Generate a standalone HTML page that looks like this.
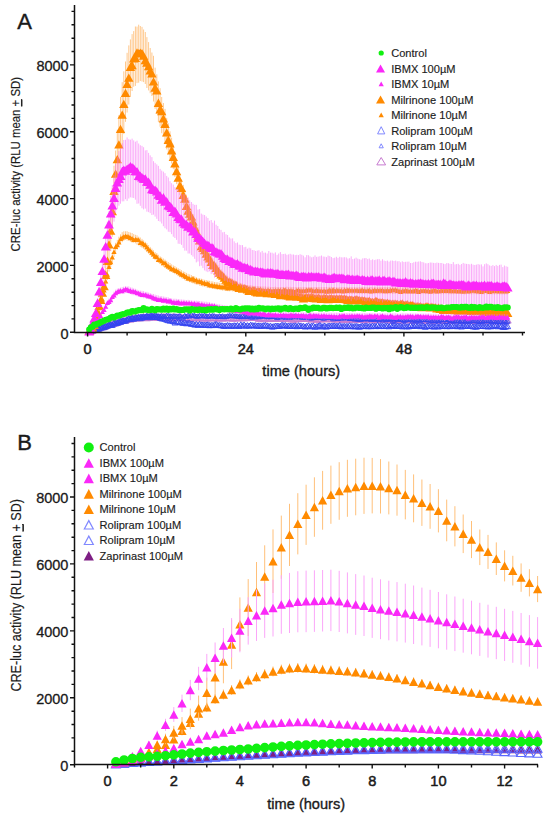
<!DOCTYPE html>
<html><head><meta charset="utf-8"><style>
html,body{margin:0;padding:0;background:#fff;}
svg{display:block;}
text{font-family:"Liberation Sans",sans-serif;fill:#1a1a1a;}
.tl{font-size:14.5px;stroke:#1a1a1a;stroke-width:0.3px;}
.xl{font-size:14.6px;stroke:#1a1a1a;stroke-width:0.5px;}
.xt{font-size:14.6px;stroke:#1a1a1a;stroke-width:0.35px;}
.pl{font-size:22px;stroke:#1a1a1a;stroke-width:0.4px;}
.yt{font-size:11.4px;stroke:#222;stroke-width:0.15px;}
.ytb{font-size:12.6px;stroke:#222;stroke-width:0.15px;}
.lg{font-size:11.1px;stroke:#222;stroke-width:0.15px;}
</style></head><body>
<svg width="550" height="822" viewBox="0 0 550 822">
<rect width="550" height="822" fill="#fff"/>
<path d="M85.7 334.3l3.5 -6.3l3.5 6.3zM87.4 334.1l3.5 -6.3l3.5 6.3zM89 333.5l3.5 -6.3l3.5 6.3zM90.7 331.9l3.5 -6.3l3.5 6.3zM92.3 332.1l3.5 -6.3l3.5 6.3zM94 331.1l3.5 -6.3l3.5 6.3zM95.6 331l3.5 -6.3l3.5 6.3zM97.3 329.8l3.5 -6.3l3.5 6.3zM98.9 329.8l3.5 -6.3l3.5 6.3zM100.6 329.6l3.5 -6.3l3.5 6.3zM102.2 328.7l3.5 -6.3l3.5 6.3zM103.9 327.9l3.5 -6.3l3.5 6.3zM105.5 327.5l3.5 -6.3l3.5 6.3zM107.2 327.3l3.5 -6.3l3.5 6.3zM108.8 326.4l3.5 -6.3l3.5 6.3zM110.5 326.2l3.5 -6.3l3.5 6.3zM112.1 325.8l3.5 -6.3l3.5 6.3zM113.8 325.2l3.5 -6.3l3.5 6.3zM115.4 324.1l3.5 -6.3l3.5 6.3zM117 324.1l3.5 -6.3l3.5 6.3zM118.7 323.5l3.5 -6.3l3.5 6.3zM120.3 323.2l3.5 -6.3l3.5 6.3zM122 323.2l3.5 -6.3l3.5 6.3zM123.6 322.3l3.5 -6.3l3.5 6.3zM125.3 321.3l3.5 -6.3l3.5 6.3zM126.9 322.2l3.5 -6.3l3.5 6.3zM128.6 321.2l3.5 -6.3l3.5 6.3zM130.2 321l3.5 -6.3l3.5 6.3zM131.9 320.7l3.5 -6.3l3.5 6.3zM133.5 320.9l3.5 -6.3l3.5 6.3zM135.2 320.7l3.5 -6.3l3.5 6.3zM136.8 320.9l3.5 -6.3l3.5 6.3zM138.5 320.4l3.5 -6.3l3.5 6.3zM140.1 319.6l3.5 -6.3l3.5 6.3zM141.8 320.5l3.5 -6.3l3.5 6.3zM143.4 320.8l3.5 -6.3l3.5 6.3zM145.1 320.1l3.5 -6.3l3.5 6.3zM146.7 319.5l3.5 -6.3l3.5 6.3zM148.4 320.1l3.5 -6.3l3.5 6.3zM150 319.3l3.5 -6.3l3.5 6.3zM151.6 320.1l3.5 -6.3l3.5 6.3zM153.3 319.9l3.5 -6.3l3.5 6.3zM154.9 320.4l3.5 -6.3l3.5 6.3zM156.6 320.2l3.5 -6.3l3.5 6.3zM158.2 319.6l3.5 -6.3l3.5 6.3zM159.9 319.8l3.5 -6.3l3.5 6.3zM161.5 319.7l3.5 -6.3l3.5 6.3zM163.2 319.9l3.5 -6.3l3.5 6.3zM164.8 320.1l3.5 -6.3l3.5 6.3zM166.5 321.2l3.5 -6.3l3.5 6.3zM168.1 320.6l3.5 -6.3l3.5 6.3zM169.8 319.3l3.5 -6.3l3.5 6.3zM171.4 320.6l3.5 -6.3l3.5 6.3zM173.1 320.1l3.5 -6.3l3.5 6.3zM174.7 320.4l3.5 -6.3l3.5 6.3zM176.4 320.1l3.5 -6.3l3.5 6.3zM178 320.5l3.5 -6.3l3.5 6.3zM179.7 320.8l3.5 -6.3l3.5 6.3zM181.3 320.7l3.5 -6.3l3.5 6.3zM182.9 320.3l3.5 -6.3l3.5 6.3zM184.6 320.7l3.5 -6.3l3.5 6.3zM186.2 321.3l3.5 -6.3l3.5 6.3zM187.9 320.5l3.5 -6.3l3.5 6.3zM189.5 320.4l3.5 -6.3l3.5 6.3zM191.2 320.4l3.5 -6.3l3.5 6.3zM192.8 320.3l3.5 -6.3l3.5 6.3zM194.5 321.2l3.5 -6.3l3.5 6.3zM196.1 319.9l3.5 -6.3l3.5 6.3zM197.8 320.7l3.5 -6.3l3.5 6.3zM199.4 321l3.5 -6.3l3.5 6.3zM201.1 320.7l3.5 -6.3l3.5 6.3zM202.7 320.9l3.5 -6.3l3.5 6.3zM204.4 321.2l3.5 -6.3l3.5 6.3zM206 320.6l3.5 -6.3l3.5 6.3zM207.7 320.5l3.5 -6.3l3.5 6.3zM209.3 320.8l3.5 -6.3l3.5 6.3zM211 320.7l3.5 -6.3l3.5 6.3zM212.6 320.8l3.5 -6.3l3.5 6.3zM214.3 321.1l3.5 -6.3l3.5 6.3zM215.9 320.7l3.5 -6.3l3.5 6.3zM217.5 320.6l3.5 -6.3l3.5 6.3zM219.2 321.1l3.5 -6.3l3.5 6.3zM220.8 320.9l3.5 -6.3l3.5 6.3zM222.5 320.6l3.5 -6.3l3.5 6.3zM224.1 320.6l3.5 -6.3l3.5 6.3zM225.8 320.6l3.5 -6.3l3.5 6.3zM227.4 320.8l3.5 -6.3l3.5 6.3zM229.1 321.3l3.5 -6.3l3.5 6.3zM230.7 320.7l3.5 -6.3l3.5 6.3zM232.4 320.7l3.5 -6.3l3.5 6.3zM234 320.9l3.5 -6.3l3.5 6.3zM235.7 320.8l3.5 -6.3l3.5 6.3zM237.3 320.7l3.5 -6.3l3.5 6.3zM239 320.3l3.5 -6.3l3.5 6.3zM240.6 320.9l3.5 -6.3l3.5 6.3zM242.3 320.5l3.5 -6.3l3.5 6.3zM243.9 320.7l3.5 -6.3l3.5 6.3zM245.6 320.4l3.5 -6.3l3.5 6.3zM247.2 320.3l3.5 -6.3l3.5 6.3zM248.8 320.2l3.5 -6.3l3.5 6.3zM250.5 320.5l3.5 -6.3l3.5 6.3zM252.1 320.4l3.5 -6.3l3.5 6.3zM253.8 320l3.5 -6.3l3.5 6.3zM255.4 321.6l3.5 -6.3l3.5 6.3zM257.1 321.1l3.5 -6.3l3.5 6.3zM258.7 320.5l3.5 -6.3l3.5 6.3zM260.4 321.8l3.5 -6.3l3.5 6.3zM262 320.8l3.5 -6.3l3.5 6.3zM263.7 320.9l3.5 -6.3l3.5 6.3zM265.3 321.6l3.5 -6.3l3.5 6.3zM267 321.3l3.5 -6.3l3.5 6.3zM268.6 320.9l3.5 -6.3l3.5 6.3zM270.3 320.8l3.5 -6.3l3.5 6.3zM271.9 321.3l3.5 -6.3l3.5 6.3zM273.6 321.4l3.5 -6.3l3.5 6.3zM275.2 321.3l3.5 -6.3l3.5 6.3zM276.9 320.9l3.5 -6.3l3.5 6.3zM278.5 321.4l3.5 -6.3l3.5 6.3zM280.2 321l3.5 -6.3l3.5 6.3zM281.8 321.7l3.5 -6.3l3.5 6.3zM283.4 320.9l3.5 -6.3l3.5 6.3zM285.1 321.1l3.5 -6.3l3.5 6.3zM286.7 320.7l3.5 -6.3l3.5 6.3zM288.4 322.1l3.5 -6.3l3.5 6.3zM290 322.1l3.5 -6.3l3.5 6.3zM291.7 321.8l3.5 -6.3l3.5 6.3zM293.3 321.1l3.5 -6.3l3.5 6.3zM295 321.8l3.5 -6.3l3.5 6.3zM296.6 321.2l3.5 -6.3l3.5 6.3zM298.3 321.4l3.5 -6.3l3.5 6.3zM299.9 321.1l3.5 -6.3l3.5 6.3zM301.6 321.3l3.5 -6.3l3.5 6.3zM303.2 321.3l3.5 -6.3l3.5 6.3zM304.9 321.1l3.5 -6.3l3.5 6.3zM306.5 321.7l3.5 -6.3l3.5 6.3zM308.2 322.1l3.5 -6.3l3.5 6.3zM309.8 320.8l3.5 -6.3l3.5 6.3zM311.5 321.3l3.5 -6.3l3.5 6.3zM313.1 322.6l3.5 -6.3l3.5 6.3zM314.8 321.6l3.5 -6.3l3.5 6.3zM316.4 322.1l3.5 -6.3l3.5 6.3zM318 321.8l3.5 -6.3l3.5 6.3zM319.7 321.5l3.5 -6.3l3.5 6.3zM321.3 321.1l3.5 -6.3l3.5 6.3zM323 322l3.5 -6.3l3.5 6.3zM324.6 321.3l3.5 -6.3l3.5 6.3zM326.3 321.4l3.5 -6.3l3.5 6.3zM327.9 321.7l3.5 -6.3l3.5 6.3zM329.6 321.9l3.5 -6.3l3.5 6.3zM331.2 321.9l3.5 -6.3l3.5 6.3zM332.9 321.5l3.5 -6.3l3.5 6.3zM334.5 322.2l3.5 -6.3l3.5 6.3zM336.2 321.4l3.5 -6.3l3.5 6.3zM337.8 321.9l3.5 -6.3l3.5 6.3zM339.5 322.5l3.5 -6.3l3.5 6.3zM341.1 321.7l3.5 -6.3l3.5 6.3zM342.8 322.2l3.5 -6.3l3.5 6.3zM344.4 322l3.5 -6.3l3.5 6.3zM346.1 322.3l3.5 -6.3l3.5 6.3zM347.7 321.8l3.5 -6.3l3.5 6.3zM349.3 321.9l3.5 -6.3l3.5 6.3zM351 322.1l3.5 -6.3l3.5 6.3zM352.6 322.1l3.5 -6.3l3.5 6.3zM354.3 322.5l3.5 -6.3l3.5 6.3zM355.9 321.3l3.5 -6.3l3.5 6.3zM357.6 322.3l3.5 -6.3l3.5 6.3zM359.2 322.1l3.5 -6.3l3.5 6.3zM360.9 322.8l3.5 -6.3l3.5 6.3zM362.5 322.5l3.5 -6.3l3.5 6.3zM364.2 321.5l3.5 -6.3l3.5 6.3zM365.8 322l3.5 -6.3l3.5 6.3zM367.5 322.1l3.5 -6.3l3.5 6.3zM369.1 322.9l3.5 -6.3l3.5 6.3zM370.8 321.7l3.5 -6.3l3.5 6.3zM372.4 322.6l3.5 -6.3l3.5 6.3zM374.1 322.6l3.5 -6.3l3.5 6.3zM375.7 322.4l3.5 -6.3l3.5 6.3zM377.4 322.2l3.5 -6.3l3.5 6.3zM379 322.4l3.5 -6.3l3.5 6.3zM380.6 322.4l3.5 -6.3l3.5 6.3zM382.3 321.6l3.5 -6.3l3.5 6.3zM383.9 322.3l3.5 -6.3l3.5 6.3zM385.6 322.4l3.5 -6.3l3.5 6.3zM387.2 323.2l3.5 -6.3l3.5 6.3zM388.9 322.1l3.5 -6.3l3.5 6.3zM390.5 323.1l3.5 -6.3l3.5 6.3zM392.2 322.8l3.5 -6.3l3.5 6.3zM393.8 321.5l3.5 -6.3l3.5 6.3zM395.5 322.8l3.5 -6.3l3.5 6.3zM397.1 322.6l3.5 -6.3l3.5 6.3zM398.8 323l3.5 -6.3l3.5 6.3zM400.4 323l3.5 -6.3l3.5 6.3zM402.1 322l3.5 -6.3l3.5 6.3zM403.7 322.6l3.5 -6.3l3.5 6.3zM405.4 322.6l3.5 -6.3l3.5 6.3zM407 322.7l3.5 -6.3l3.5 6.3zM408.7 323.3l3.5 -6.3l3.5 6.3zM410.3 322.6l3.5 -6.3l3.5 6.3zM412 322.2l3.5 -6.3l3.5 6.3zM413.6 323.1l3.5 -6.3l3.5 6.3zM415.2 322.5l3.5 -6.3l3.5 6.3zM416.9 322.3l3.5 -6.3l3.5 6.3zM418.5 323.1l3.5 -6.3l3.5 6.3zM420.2 322.4l3.5 -6.3l3.5 6.3zM421.8 323.4l3.5 -6.3l3.5 6.3zM423.5 322.3l3.5 -6.3l3.5 6.3zM425.1 322.7l3.5 -6.3l3.5 6.3zM426.8 323.2l3.5 -6.3l3.5 6.3zM428.4 322.6l3.5 -6.3l3.5 6.3zM430.1 322.9l3.5 -6.3l3.5 6.3zM431.7 323.4l3.5 -6.3l3.5 6.3zM433.4 322.4l3.5 -6.3l3.5 6.3zM435 322.4l3.5 -6.3l3.5 6.3zM436.7 323.2l3.5 -6.3l3.5 6.3zM438.3 323l3.5 -6.3l3.5 6.3zM440 323l3.5 -6.3l3.5 6.3zM441.6 323l3.5 -6.3l3.5 6.3zM443.3 323.4l3.5 -6.3l3.5 6.3zM444.9 322.5l3.5 -6.3l3.5 6.3zM446.5 323l3.5 -6.3l3.5 6.3zM448.2 323.3l3.5 -6.3l3.5 6.3zM449.8 323l3.5 -6.3l3.5 6.3zM451.5 323l3.5 -6.3l3.5 6.3zM453.1 322.9l3.5 -6.3l3.5 6.3zM454.8 322.7l3.5 -6.3l3.5 6.3zM456.4 322.7l3.5 -6.3l3.5 6.3zM458.1 323.3l3.5 -6.3l3.5 6.3zM459.7 322.9l3.5 -6.3l3.5 6.3zM461.4 323.2l3.5 -6.3l3.5 6.3zM463 323.6l3.5 -6.3l3.5 6.3zM464.7 323.3l3.5 -6.3l3.5 6.3zM466.3 323.1l3.5 -6.3l3.5 6.3zM468 323.5l3.5 -6.3l3.5 6.3zM469.6 323.4l3.5 -6.3l3.5 6.3zM471.3 322.9l3.5 -6.3l3.5 6.3zM472.9 323.3l3.5 -6.3l3.5 6.3zM474.6 323.2l3.5 -6.3l3.5 6.3zM476.2 323.3l3.5 -6.3l3.5 6.3zM477.9 323.8l3.5 -6.3l3.5 6.3zM479.5 323l3.5 -6.3l3.5 6.3zM481.1 323l3.5 -6.3l3.5 6.3zM482.8 323l3.5 -6.3l3.5 6.3zM484.4 323.3l3.5 -6.3l3.5 6.3zM486.1 323.6l3.5 -6.3l3.5 6.3zM487.7 322.8l3.5 -6.3l3.5 6.3zM489.4 323.3l3.5 -6.3l3.5 6.3zM491 323.3l3.5 -6.3l3.5 6.3zM492.7 324.1l3.5 -6.3l3.5 6.3zM494.3 323.4l3.5 -6.3l3.5 6.3zM496 323.4l3.5 -6.3l3.5 6.3zM497.6 323.7l3.5 -6.3l3.5 6.3zM499.3 322.6l3.5 -6.3l3.5 6.3zM500.9 323.2l3.5 -6.3l3.5 6.3zM502.6 323.9l3.5 -6.3l3.5 6.3zM504.2 323.1l3.5 -6.3l3.5 6.3z" fill="none" stroke="#c77ad0" stroke-width="0.9"/>
<path d="M86.3 334.1l2.9 -5.2l2.9 5.2zM88 333.4l2.9 -5.2l2.9 5.2zM89.6 332.3l2.9 -5.2l2.9 5.2zM91.3 332.3l2.9 -5.2l2.9 5.2zM92.9 331.8l2.9 -5.2l2.9 5.2zM94.6 331.5l2.9 -5.2l2.9 5.2zM96.2 331.1l2.9 -5.2l2.9 5.2zM97.9 330.3l2.9 -5.2l2.9 5.2zM99.5 329.8l2.9 -5.2l2.9 5.2zM101.2 329.6l2.9 -5.2l2.9 5.2zM102.8 328.9l2.9 -5.2l2.9 5.2zM104.5 328.1l2.9 -5.2l2.9 5.2zM106.1 327.6l2.9 -5.2l2.9 5.2zM107.8 327.4l2.9 -5.2l2.9 5.2zM109.4 327.4l2.9 -5.2l2.9 5.2zM111.1 326l2.9 -5.2l2.9 5.2zM112.7 325.7l2.9 -5.2l2.9 5.2zM114.4 325.4l2.9 -5.2l2.9 5.2zM116 324.7l2.9 -5.2l2.9 5.2zM117.6 324.4l2.9 -5.2l2.9 5.2zM119.3 323.4l2.9 -5.2l2.9 5.2zM120.9 323.2l2.9 -5.2l2.9 5.2zM122.6 323.2l2.9 -5.2l2.9 5.2zM124.2 322l2.9 -5.2l2.9 5.2zM125.9 321.6l2.9 -5.2l2.9 5.2zM127.5 321.5l2.9 -5.2l2.9 5.2zM129.2 320.8l2.9 -5.2l2.9 5.2zM130.8 321.3l2.9 -5.2l2.9 5.2zM132.5 319.8l2.9 -5.2l2.9 5.2zM134.1 319.9l2.9 -5.2l2.9 5.2zM135.8 319.7l2.9 -5.2l2.9 5.2zM137.4 320.7l2.9 -5.2l2.9 5.2zM139.1 320l2.9 -5.2l2.9 5.2zM140.7 319.7l2.9 -5.2l2.9 5.2zM142.4 319.2l2.9 -5.2l2.9 5.2zM144 318.5l2.9 -5.2l2.9 5.2zM145.7 319.1l2.9 -5.2l2.9 5.2zM147.3 319.7l2.9 -5.2l2.9 5.2zM149 319.1l2.9 -5.2l2.9 5.2zM150.6 319.1l2.9 -5.2l2.9 5.2zM152.2 319.5l2.9 -5.2l2.9 5.2zM153.9 319.3l2.9 -5.2l2.9 5.2zM155.5 319.4l2.9 -5.2l2.9 5.2zM157.2 320.3l2.9 -5.2l2.9 5.2zM158.8 320.9l2.9 -5.2l2.9 5.2zM160.5 320.9l2.9 -5.2l2.9 5.2zM162.1 321.3l2.9 -5.2l2.9 5.2zM163.8 322.2l2.9 -5.2l2.9 5.2zM165.4 322.7l2.9 -5.2l2.9 5.2zM167.1 323.1l2.9 -5.2l2.9 5.2zM168.7 322.9l2.9 -5.2l2.9 5.2zM170.4 323.6l2.9 -5.2l2.9 5.2zM172 325l2.9 -5.2l2.9 5.2zM173.7 324.1l2.9 -5.2l2.9 5.2zM175.3 323.9l2.9 -5.2l2.9 5.2zM177 324.7l2.9 -5.2l2.9 5.2zM178.6 324.8l2.9 -5.2l2.9 5.2zM180.3 325.4l2.9 -5.2l2.9 5.2zM181.9 324.7l2.9 -5.2l2.9 5.2zM183.5 325.8l2.9 -5.2l2.9 5.2zM185.2 325.4l2.9 -5.2l2.9 5.2zM186.8 325.5l2.9 -5.2l2.9 5.2zM188.5 326.4l2.9 -5.2l2.9 5.2zM190.1 326.1l2.9 -5.2l2.9 5.2zM191.8 327.1l2.9 -5.2l2.9 5.2zM193.4 326.6l2.9 -5.2l2.9 5.2zM195.1 327.4l2.9 -5.2l2.9 5.2zM196.7 326.6l2.9 -5.2l2.9 5.2zM198.4 327.1l2.9 -5.2l2.9 5.2zM200 327.1l2.9 -5.2l2.9 5.2zM201.7 327.4l2.9 -5.2l2.9 5.2zM203.3 327.2l2.9 -5.2l2.9 5.2zM205 327l2.9 -5.2l2.9 5.2zM206.6 327.7l2.9 -5.2l2.9 5.2zM208.3 327.5l2.9 -5.2l2.9 5.2zM209.9 327.6l2.9 -5.2l2.9 5.2zM211.6 327l2.9 -5.2l2.9 5.2zM213.2 326.6l2.9 -5.2l2.9 5.2zM214.9 327.5l2.9 -5.2l2.9 5.2zM216.5 327.6l2.9 -5.2l2.9 5.2zM218.1 327.7l2.9 -5.2l2.9 5.2zM219.8 328l2.9 -5.2l2.9 5.2zM221.4 328.4l2.9 -5.2l2.9 5.2zM223.1 328.1l2.9 -5.2l2.9 5.2zM224.7 327.7l2.9 -5.2l2.9 5.2zM226.4 328l2.9 -5.2l2.9 5.2zM228 328.2l2.9 -5.2l2.9 5.2zM229.7 328.3l2.9 -5.2l2.9 5.2zM231.3 327.9l2.9 -5.2l2.9 5.2zM233 328.1l2.9 -5.2l2.9 5.2zM234.6 327.7l2.9 -5.2l2.9 5.2zM236.3 328.5l2.9 -5.2l2.9 5.2zM237.9 327l2.9 -5.2l2.9 5.2zM239.6 328l2.9 -5.2l2.9 5.2zM241.2 327.1l2.9 -5.2l2.9 5.2zM242.9 328.2l2.9 -5.2l2.9 5.2zM244.5 327.8l2.9 -5.2l2.9 5.2zM246.2 328.2l2.9 -5.2l2.9 5.2zM247.8 327.3l2.9 -5.2l2.9 5.2zM249.4 327.8l2.9 -5.2l2.9 5.2zM251.1 327.9l2.9 -5.2l2.9 5.2zM252.7 327.9l2.9 -5.2l2.9 5.2zM254.4 328.2l2.9 -5.2l2.9 5.2zM256 328l2.9 -5.2l2.9 5.2zM257.7 328.3l2.9 -5.2l2.9 5.2zM259.3 328.3l2.9 -5.2l2.9 5.2zM261 327.8l2.9 -5.2l2.9 5.2zM262.6 327.7l2.9 -5.2l2.9 5.2zM264.3 328.1l2.9 -5.2l2.9 5.2zM265.9 328.6l2.9 -5.2l2.9 5.2zM267.6 328.4l2.9 -5.2l2.9 5.2zM269.2 329l2.9 -5.2l2.9 5.2zM270.9 328.8l2.9 -5.2l2.9 5.2zM272.5 328.2l2.9 -5.2l2.9 5.2zM274.2 328.2l2.9 -5.2l2.9 5.2zM275.8 328.5l2.9 -5.2l2.9 5.2zM277.5 328.3l2.9 -5.2l2.9 5.2zM279.1 327.3l2.9 -5.2l2.9 5.2zM280.8 327.9l2.9 -5.2l2.9 5.2zM282.4 327.7l2.9 -5.2l2.9 5.2zM284 328.3l2.9 -5.2l2.9 5.2zM285.7 328.2l2.9 -5.2l2.9 5.2zM287.3 328.3l2.9 -5.2l2.9 5.2zM289 328.4l2.9 -5.2l2.9 5.2zM290.6 328.2l2.9 -5.2l2.9 5.2zM292.3 328l2.9 -5.2l2.9 5.2zM293.9 328.7l2.9 -5.2l2.9 5.2zM295.6 327.9l2.9 -5.2l2.9 5.2zM297.2 328.2l2.9 -5.2l2.9 5.2zM298.9 328.5l2.9 -5.2l2.9 5.2zM300.5 328.5l2.9 -5.2l2.9 5.2zM302.2 329l2.9 -5.2l2.9 5.2zM303.8 328.5l2.9 -5.2l2.9 5.2zM305.5 328l2.9 -5.2l2.9 5.2zM307.1 328.9l2.9 -5.2l2.9 5.2zM308.8 328.4l2.9 -5.2l2.9 5.2zM310.4 328.1l2.9 -5.2l2.9 5.2zM312.1 329.2l2.9 -5.2l2.9 5.2zM313.7 328.9l2.9 -5.2l2.9 5.2zM315.4 328.2l2.9 -5.2l2.9 5.2zM317 327.7l2.9 -5.2l2.9 5.2zM318.6 328.9l2.9 -5.2l2.9 5.2zM320.3 328.7l2.9 -5.2l2.9 5.2zM321.9 328.2l2.9 -5.2l2.9 5.2zM323.6 329.1l2.9 -5.2l2.9 5.2zM325.2 328.3l2.9 -5.2l2.9 5.2zM326.9 328.3l2.9 -5.2l2.9 5.2zM328.5 328.3l2.9 -5.2l2.9 5.2zM330.2 328.1l2.9 -5.2l2.9 5.2zM331.8 328.1l2.9 -5.2l2.9 5.2zM333.5 328.5l2.9 -5.2l2.9 5.2zM335.1 328.3l2.9 -5.2l2.9 5.2zM336.8 327.7l2.9 -5.2l2.9 5.2zM338.4 328.8l2.9 -5.2l2.9 5.2zM340.1 328.5l2.9 -5.2l2.9 5.2zM341.7 328.6l2.9 -5.2l2.9 5.2zM343.4 328.6l2.9 -5.2l2.9 5.2zM345 328.6l2.9 -5.2l2.9 5.2zM346.7 328l2.9 -5.2l2.9 5.2zM348.3 328.6l2.9 -5.2l2.9 5.2zM349.9 328.7l2.9 -5.2l2.9 5.2zM351.6 328.8l2.9 -5.2l2.9 5.2zM353.2 328.4l2.9 -5.2l2.9 5.2zM354.9 328.8l2.9 -5.2l2.9 5.2zM356.5 329.2l2.9 -5.2l2.9 5.2zM358.2 328.6l2.9 -5.2l2.9 5.2zM359.8 328.4l2.9 -5.2l2.9 5.2zM361.5 328.6l2.9 -5.2l2.9 5.2zM363.1 328.1l2.9 -5.2l2.9 5.2zM364.8 328.7l2.9 -5.2l2.9 5.2zM366.4 328.6l2.9 -5.2l2.9 5.2zM368.1 328.7l2.9 -5.2l2.9 5.2zM369.7 328.2l2.9 -5.2l2.9 5.2zM371.4 328.5l2.9 -5.2l2.9 5.2zM373 328.6l2.9 -5.2l2.9 5.2zM374.7 327.4l2.9 -5.2l2.9 5.2zM376.3 328.6l2.9 -5.2l2.9 5.2zM378 328.3l2.9 -5.2l2.9 5.2zM379.6 328.5l2.9 -5.2l2.9 5.2zM381.2 328.6l2.9 -5.2l2.9 5.2zM382.9 328.3l2.9 -5.2l2.9 5.2zM384.5 328.2l2.9 -5.2l2.9 5.2zM386.2 328.8l2.9 -5.2l2.9 5.2zM387.8 327.5l2.9 -5.2l2.9 5.2zM389.5 328.3l2.9 -5.2l2.9 5.2zM391.1 327.7l2.9 -5.2l2.9 5.2zM392.8 328.5l2.9 -5.2l2.9 5.2zM394.4 328.1l2.9 -5.2l2.9 5.2zM396.1 328.3l2.9 -5.2l2.9 5.2zM397.7 328.4l2.9 -5.2l2.9 5.2zM399.4 328.9l2.9 -5.2l2.9 5.2zM401 328.1l2.9 -5.2l2.9 5.2zM402.7 328.6l2.9 -5.2l2.9 5.2zM404.3 328.8l2.9 -5.2l2.9 5.2zM406 328.8l2.9 -5.2l2.9 5.2zM407.6 327.5l2.9 -5.2l2.9 5.2zM409.3 328.4l2.9 -5.2l2.9 5.2zM410.9 328.4l2.9 -5.2l2.9 5.2zM412.6 327.8l2.9 -5.2l2.9 5.2zM414.2 328.1l2.9 -5.2l2.9 5.2zM415.8 327.9l2.9 -5.2l2.9 5.2zM417.5 328.7l2.9 -5.2l2.9 5.2zM419.1 328.1l2.9 -5.2l2.9 5.2zM420.8 328.3l2.9 -5.2l2.9 5.2zM422.4 329.3l2.9 -5.2l2.9 5.2zM424.1 328.1l2.9 -5.2l2.9 5.2zM425.7 328.4l2.9 -5.2l2.9 5.2zM427.4 328.6l2.9 -5.2l2.9 5.2zM429 328.6l2.9 -5.2l2.9 5.2zM430.7 329l2.9 -5.2l2.9 5.2zM432.3 328.7l2.9 -5.2l2.9 5.2zM434 328l2.9 -5.2l2.9 5.2zM435.6 329l2.9 -5.2l2.9 5.2zM437.3 328.1l2.9 -5.2l2.9 5.2zM438.9 328.6l2.9 -5.2l2.9 5.2zM440.6 328.2l2.9 -5.2l2.9 5.2zM442.2 328.4l2.9 -5.2l2.9 5.2zM443.9 328.7l2.9 -5.2l2.9 5.2zM445.5 328.5l2.9 -5.2l2.9 5.2zM447.1 328.7l2.9 -5.2l2.9 5.2zM448.8 328.1l2.9 -5.2l2.9 5.2zM450.4 328.1l2.9 -5.2l2.9 5.2zM452.1 328.2l2.9 -5.2l2.9 5.2zM453.7 328.7l2.9 -5.2l2.9 5.2zM455.4 328.6l2.9 -5.2l2.9 5.2zM457 327.7l2.9 -5.2l2.9 5.2zM458.7 329l2.9 -5.2l2.9 5.2zM460.3 328.2l2.9 -5.2l2.9 5.2zM462 328.5l2.9 -5.2l2.9 5.2zM463.6 328.2l2.9 -5.2l2.9 5.2zM465.3 328.1l2.9 -5.2l2.9 5.2zM466.9 328.4l2.9 -5.2l2.9 5.2zM468.6 328.2l2.9 -5.2l2.9 5.2zM470.2 328.9l2.9 -5.2l2.9 5.2zM471.9 328.9l2.9 -5.2l2.9 5.2zM473.5 329.2l2.9 -5.2l2.9 5.2zM475.2 328.3l2.9 -5.2l2.9 5.2zM476.8 328.5l2.9 -5.2l2.9 5.2zM478.5 328.5l2.9 -5.2l2.9 5.2zM480.1 328.3l2.9 -5.2l2.9 5.2zM481.7 328.6l2.9 -5.2l2.9 5.2zM483.4 328.6l2.9 -5.2l2.9 5.2zM485 328.9l2.9 -5.2l2.9 5.2zM486.7 328.6l2.9 -5.2l2.9 5.2zM488.3 328.8l2.9 -5.2l2.9 5.2zM490 328.4l2.9 -5.2l2.9 5.2zM491.6 327.7l2.9 -5.2l2.9 5.2zM493.3 327.8l2.9 -5.2l2.9 5.2zM494.9 328.8l2.9 -5.2l2.9 5.2zM496.6 328.4l2.9 -5.2l2.9 5.2zM498.2 328.5l2.9 -5.2l2.9 5.2zM499.9 329.3l2.9 -5.2l2.9 5.2zM501.5 329.4l2.9 -5.2l2.9 5.2zM503.2 328.8l2.9 -5.2l2.9 5.2zM504.8 328.7l2.9 -5.2l2.9 5.2z" fill="none" stroke="#3344f0" stroke-width="0.9"/>
<path d="M86.8 334.2l2.4 -4.3l2.4 4.3zM88.5 333.3l2.4 -4.3l2.4 4.3zM90.1 332.7l2.4 -4.3l2.4 4.3zM91.8 332l2.4 -4.3l2.4 4.3zM93.4 331.6l2.4 -4.3l2.4 4.3zM95.1 330.6l2.4 -4.3l2.4 4.3zM96.7 329.8l2.4 -4.3l2.4 4.3zM98.4 329.3l2.4 -4.3l2.4 4.3zM100 329.3l2.4 -4.3l2.4 4.3zM101.7 328.4l2.4 -4.3l2.4 4.3zM103.3 327.8l2.4 -4.3l2.4 4.3zM105 327.9l2.4 -4.3l2.4 4.3zM106.6 326.3l2.4 -4.3l2.4 4.3zM108.3 326.5l2.4 -4.3l2.4 4.3zM109.9 326.2l2.4 -4.3l2.4 4.3zM111.6 324.1l2.4 -4.3l2.4 4.3zM113.2 324.9l2.4 -4.3l2.4 4.3zM114.9 324.2l2.4 -4.3l2.4 4.3zM116.5 323.7l2.4 -4.3l2.4 4.3zM118.1 322.7l2.4 -4.3l2.4 4.3zM119.8 322.6l2.4 -4.3l2.4 4.3zM121.4 322.7l2.4 -4.3l2.4 4.3zM123.1 322.5l2.4 -4.3l2.4 4.3zM124.7 321.4l2.4 -4.3l2.4 4.3zM126.4 320l2.4 -4.3l2.4 4.3zM128 320.7l2.4 -4.3l2.4 4.3zM129.7 319.5l2.4 -4.3l2.4 4.3zM131.3 320.1l2.4 -4.3l2.4 4.3zM133 320l2.4 -4.3l2.4 4.3zM134.6 319.8l2.4 -4.3l2.4 4.3zM136.3 319l2.4 -4.3l2.4 4.3zM137.9 318.5l2.4 -4.3l2.4 4.3zM139.6 318.3l2.4 -4.3l2.4 4.3zM141.2 318.8l2.4 -4.3l2.4 4.3zM142.9 318.2l2.4 -4.3l2.4 4.3zM144.5 317.8l2.4 -4.3l2.4 4.3zM146.2 318.2l2.4 -4.3l2.4 4.3zM147.8 317.5l2.4 -4.3l2.4 4.3zM149.5 317l2.4 -4.3l2.4 4.3zM151.1 318.1l2.4 -4.3l2.4 4.3zM152.7 316.7l2.4 -4.3l2.4 4.3zM154.4 317.6l2.4 -4.3l2.4 4.3zM156 318l2.4 -4.3l2.4 4.3zM157.7 318.1l2.4 -4.3l2.4 4.3zM159.3 317.9l2.4 -4.3l2.4 4.3zM161 318.4l2.4 -4.3l2.4 4.3zM162.6 318.3l2.4 -4.3l2.4 4.3zM164.3 317.5l2.4 -4.3l2.4 4.3zM165.9 317.7l2.4 -4.3l2.4 4.3zM167.6 317.9l2.4 -4.3l2.4 4.3zM169.2 318.2l2.4 -4.3l2.4 4.3zM170.9 318.4l2.4 -4.3l2.4 4.3zM172.5 317.9l2.4 -4.3l2.4 4.3zM174.2 318.4l2.4 -4.3l2.4 4.3zM175.8 318.1l2.4 -4.3l2.4 4.3zM177.5 317.7l2.4 -4.3l2.4 4.3zM179.1 319.1l2.4 -4.3l2.4 4.3zM180.8 318.9l2.4 -4.3l2.4 4.3zM182.4 317.6l2.4 -4.3l2.4 4.3zM184 318.4l2.4 -4.3l2.4 4.3zM185.7 317.3l2.4 -4.3l2.4 4.3zM187.3 317.9l2.4 -4.3l2.4 4.3zM189 316.7l2.4 -4.3l2.4 4.3zM190.6 317.6l2.4 -4.3l2.4 4.3zM192.3 317.5l2.4 -4.3l2.4 4.3zM193.9 318.3l2.4 -4.3l2.4 4.3zM195.6 318.1l2.4 -4.3l2.4 4.3zM197.2 317.7l2.4 -4.3l2.4 4.3zM198.9 317.8l2.4 -4.3l2.4 4.3zM200.5 317.8l2.4 -4.3l2.4 4.3zM202.2 317.3l2.4 -4.3l2.4 4.3zM203.8 318.2l2.4 -4.3l2.4 4.3zM205.5 318.3l2.4 -4.3l2.4 4.3zM207.1 317.7l2.4 -4.3l2.4 4.3zM208.8 318.1l2.4 -4.3l2.4 4.3zM210.4 317.6l2.4 -4.3l2.4 4.3zM212.1 318l2.4 -4.3l2.4 4.3zM213.7 318.5l2.4 -4.3l2.4 4.3zM215.4 318.6l2.4 -4.3l2.4 4.3zM217 317.9l2.4 -4.3l2.4 4.3zM218.6 318.3l2.4 -4.3l2.4 4.3zM220.3 318l2.4 -4.3l2.4 4.3zM221.9 318.7l2.4 -4.3l2.4 4.3zM223.6 318.4l2.4 -4.3l2.4 4.3zM225.2 318l2.4 -4.3l2.4 4.3zM226.9 317.6l2.4 -4.3l2.4 4.3zM228.5 317.7l2.4 -4.3l2.4 4.3zM230.2 317.5l2.4 -4.3l2.4 4.3zM231.8 318l2.4 -4.3l2.4 4.3zM233.5 317.8l2.4 -4.3l2.4 4.3zM235.1 318.2l2.4 -4.3l2.4 4.3zM236.8 318.4l2.4 -4.3l2.4 4.3zM238.4 318.7l2.4 -4.3l2.4 4.3zM240.1 317.8l2.4 -4.3l2.4 4.3zM241.7 318.1l2.4 -4.3l2.4 4.3zM243.4 318.6l2.4 -4.3l2.4 4.3zM245 318.3l2.4 -4.3l2.4 4.3zM246.7 317.5l2.4 -4.3l2.4 4.3zM248.3 318.9l2.4 -4.3l2.4 4.3zM249.9 319l2.4 -4.3l2.4 4.3zM251.6 317.9l2.4 -4.3l2.4 4.3zM253.2 318.9l2.4 -4.3l2.4 4.3zM254.9 317.8l2.4 -4.3l2.4 4.3zM256.5 318.7l2.4 -4.3l2.4 4.3zM258.2 318.3l2.4 -4.3l2.4 4.3zM259.8 317.9l2.4 -4.3l2.4 4.3zM261.5 317.8l2.4 -4.3l2.4 4.3zM263.1 318l2.4 -4.3l2.4 4.3zM264.8 318.7l2.4 -4.3l2.4 4.3zM266.4 318.6l2.4 -4.3l2.4 4.3zM268.1 318.6l2.4 -4.3l2.4 4.3zM269.7 318.1l2.4 -4.3l2.4 4.3zM271.4 318.4l2.4 -4.3l2.4 4.3zM273 318.1l2.4 -4.3l2.4 4.3zM274.7 319.6l2.4 -4.3l2.4 4.3zM276.3 318.9l2.4 -4.3l2.4 4.3zM278 318.7l2.4 -4.3l2.4 4.3zM279.6 318.8l2.4 -4.3l2.4 4.3zM281.3 318l2.4 -4.3l2.4 4.3zM282.9 319.3l2.4 -4.3l2.4 4.3zM284.5 318.6l2.4 -4.3l2.4 4.3zM286.2 318.6l2.4 -4.3l2.4 4.3zM287.8 319.3l2.4 -4.3l2.4 4.3zM289.5 318.5l2.4 -4.3l2.4 4.3zM291.1 318.8l2.4 -4.3l2.4 4.3zM292.8 317.8l2.4 -4.3l2.4 4.3zM294.4 318.5l2.4 -4.3l2.4 4.3zM296.1 319l2.4 -4.3l2.4 4.3zM297.7 318.6l2.4 -4.3l2.4 4.3zM299.4 318.8l2.4 -4.3l2.4 4.3zM301 319.4l2.4 -4.3l2.4 4.3zM302.7 318.8l2.4 -4.3l2.4 4.3zM304.3 318.8l2.4 -4.3l2.4 4.3zM306 318.5l2.4 -4.3l2.4 4.3zM307.6 319.8l2.4 -4.3l2.4 4.3zM309.3 320l2.4 -4.3l2.4 4.3zM310.9 319.5l2.4 -4.3l2.4 4.3zM312.6 319l2.4 -4.3l2.4 4.3zM314.2 318.8l2.4 -4.3l2.4 4.3zM315.9 319.5l2.4 -4.3l2.4 4.3zM317.5 319.4l2.4 -4.3l2.4 4.3zM319.1 319.6l2.4 -4.3l2.4 4.3zM320.8 320.1l2.4 -4.3l2.4 4.3zM322.4 319.9l2.4 -4.3l2.4 4.3zM324.1 319.3l2.4 -4.3l2.4 4.3zM325.7 319.4l2.4 -4.3l2.4 4.3zM327.4 319.5l2.4 -4.3l2.4 4.3zM329 319.6l2.4 -4.3l2.4 4.3zM330.7 320.8l2.4 -4.3l2.4 4.3zM332.3 319.9l2.4 -4.3l2.4 4.3zM334 319.6l2.4 -4.3l2.4 4.3zM335.6 320.5l2.4 -4.3l2.4 4.3zM337.3 319.1l2.4 -4.3l2.4 4.3zM338.9 320.1l2.4 -4.3l2.4 4.3zM340.6 319.9l2.4 -4.3l2.4 4.3zM342.2 319.6l2.4 -4.3l2.4 4.3zM343.9 319.8l2.4 -4.3l2.4 4.3zM345.5 319.8l2.4 -4.3l2.4 4.3zM347.2 320.5l2.4 -4.3l2.4 4.3zM348.8 319.9l2.4 -4.3l2.4 4.3zM350.4 320.1l2.4 -4.3l2.4 4.3zM352.1 321l2.4 -4.3l2.4 4.3zM353.7 320.7l2.4 -4.3l2.4 4.3zM355.4 321.1l2.4 -4.3l2.4 4.3zM357 321.3l2.4 -4.3l2.4 4.3zM358.7 321.3l2.4 -4.3l2.4 4.3zM360.3 320.4l2.4 -4.3l2.4 4.3zM362 321l2.4 -4.3l2.4 4.3zM363.6 320.4l2.4 -4.3l2.4 4.3zM365.3 320.9l2.4 -4.3l2.4 4.3zM366.9 320.7l2.4 -4.3l2.4 4.3zM368.6 321.4l2.4 -4.3l2.4 4.3zM370.2 320.7l2.4 -4.3l2.4 4.3zM371.9 321.4l2.4 -4.3l2.4 4.3zM373.5 320.6l2.4 -4.3l2.4 4.3zM375.2 320.8l2.4 -4.3l2.4 4.3zM376.8 321.6l2.4 -4.3l2.4 4.3zM378.5 320.9l2.4 -4.3l2.4 4.3zM380.1 322l2.4 -4.3l2.4 4.3zM381.8 320.8l2.4 -4.3l2.4 4.3zM383.4 321.9l2.4 -4.3l2.4 4.3zM385 321.4l2.4 -4.3l2.4 4.3zM386.7 320.6l2.4 -4.3l2.4 4.3zM388.3 321.1l2.4 -4.3l2.4 4.3zM390 321.1l2.4 -4.3l2.4 4.3zM391.6 322.4l2.4 -4.3l2.4 4.3zM393.3 320.8l2.4 -4.3l2.4 4.3zM394.9 321.6l2.4 -4.3l2.4 4.3zM396.6 320.6l2.4 -4.3l2.4 4.3zM398.2 321.3l2.4 -4.3l2.4 4.3zM399.9 321.6l2.4 -4.3l2.4 4.3zM401.5 322.4l2.4 -4.3l2.4 4.3zM403.2 321.9l2.4 -4.3l2.4 4.3zM404.8 321.6l2.4 -4.3l2.4 4.3zM406.5 320.9l2.4 -4.3l2.4 4.3zM408.1 321.1l2.4 -4.3l2.4 4.3zM409.8 321.9l2.4 -4.3l2.4 4.3zM411.4 322.1l2.4 -4.3l2.4 4.3zM413.1 322.3l2.4 -4.3l2.4 4.3zM414.7 321.1l2.4 -4.3l2.4 4.3zM416.3 321.8l2.4 -4.3l2.4 4.3zM418 322.4l2.4 -4.3l2.4 4.3zM419.6 321.4l2.4 -4.3l2.4 4.3zM421.3 321.5l2.4 -4.3l2.4 4.3zM422.9 321.7l2.4 -4.3l2.4 4.3zM424.6 321.7l2.4 -4.3l2.4 4.3zM426.2 321.8l2.4 -4.3l2.4 4.3zM427.9 322.2l2.4 -4.3l2.4 4.3zM429.5 322.8l2.4 -4.3l2.4 4.3zM431.2 322.7l2.4 -4.3l2.4 4.3zM432.8 322.5l2.4 -4.3l2.4 4.3zM434.5 321.9l2.4 -4.3l2.4 4.3zM436.1 322.6l2.4 -4.3l2.4 4.3zM437.8 322l2.4 -4.3l2.4 4.3zM439.4 321.7l2.4 -4.3l2.4 4.3zM441.1 321.7l2.4 -4.3l2.4 4.3zM442.7 321.8l2.4 -4.3l2.4 4.3zM444.4 323.5l2.4 -4.3l2.4 4.3zM446 321.5l2.4 -4.3l2.4 4.3zM447.6 322.4l2.4 -4.3l2.4 4.3zM449.3 322.4l2.4 -4.3l2.4 4.3zM450.9 322.8l2.4 -4.3l2.4 4.3zM452.6 322.3l2.4 -4.3l2.4 4.3zM454.2 322.4l2.4 -4.3l2.4 4.3zM455.9 322.6l2.4 -4.3l2.4 4.3zM457.5 323.3l2.4 -4.3l2.4 4.3zM459.2 322.2l2.4 -4.3l2.4 4.3zM460.8 322.5l2.4 -4.3l2.4 4.3zM462.5 323.1l2.4 -4.3l2.4 4.3zM464.1 322.9l2.4 -4.3l2.4 4.3zM465.8 322.4l2.4 -4.3l2.4 4.3zM467.4 322.9l2.4 -4.3l2.4 4.3zM469.1 322.7l2.4 -4.3l2.4 4.3zM470.7 322.4l2.4 -4.3l2.4 4.3zM472.4 322.3l2.4 -4.3l2.4 4.3zM474 322.9l2.4 -4.3l2.4 4.3zM475.7 323.3l2.4 -4.3l2.4 4.3zM477.3 323.1l2.4 -4.3l2.4 4.3zM479 322.7l2.4 -4.3l2.4 4.3zM480.6 323.1l2.4 -4.3l2.4 4.3zM482.2 322.4l2.4 -4.3l2.4 4.3zM483.9 322.3l2.4 -4.3l2.4 4.3zM485.5 322.4l2.4 -4.3l2.4 4.3zM487.2 322.8l2.4 -4.3l2.4 4.3zM488.8 323.4l2.4 -4.3l2.4 4.3zM490.5 322.3l2.4 -4.3l2.4 4.3zM492.1 322.8l2.4 -4.3l2.4 4.3zM493.8 323.3l2.4 -4.3l2.4 4.3zM495.4 323.5l2.4 -4.3l2.4 4.3zM497.1 323.5l2.4 -4.3l2.4 4.3zM498.7 323.2l2.4 -4.3l2.4 4.3zM500.4 323.8l2.4 -4.3l2.4 4.3zM502 322.7l2.4 -4.3l2.4 4.3zM503.7 323.4l2.4 -4.3l2.4 4.3zM505.3 323.1l2.4 -4.3l2.4 4.3z" fill="none" stroke="#3344f0" stroke-width="0.9"/>
<path d="M89.2 330.4V331.9M90.9 328.2V331M92.5 325.4V329.9M94.2 322.5V328.7M95.8 318.1V324.4M97.5 312.3V320.2M99.1 308.1V316.4M100.8 302.6V311.2M102.4 293.8V303.2M104.1 286.1V294.9M105.7 276.5V286M107.4 269.9V280M109 261.9V271.6M110.7 257.3V267.1M112.3 252.7V262.7M114 247.1V257M115.6 242.8V253.4M117.3 239.9V249.5M118.9 236.7V246.9M120.5 234.4V243.8M122.2 232.2V242.2M123.8 231.3V240.9M125.5 231.3V239.9M127.1 231.2V240.6M128.8 232V241M130.4 232.6V241.7M132.1 233V242.6M133.7 234.1V242.7M135.4 234.8V243.3M137 235.3V244.6M138.7 236.7V245.4M140.3 237.5V246.7M142 238.9V247.7M143.6 240.4V248.8M145.3 241.8V250.3M146.9 243.2V252.1M148.6 245V253.7M150.2 246.9V255.3M151.9 248.6V257M153.5 250.3V258.7M155.1 252V260.2M156.8 253.1V262M158.4 254.8V263M160.1 256.3V264.1M161.7 257.4V265.4M163.4 258.5V266.8M165 259.6V267.9M166.7 260.9V268.9M168.3 262V269.9M170 263V271M171.6 264.4V271.8M173.3 265.4V272.9M174.9 266.1V274.2M176.6 267.3V275M178.2 268.2V276.2M179.9 269.1V277.3M181.5 270.2V278.2M183.2 271.3V279M184.8 271.9V280.2M186.4 272.9V280.8M188.1 273.8V281.4M189.7 274.4V282.2M191.4 275.1V282.9M193 276V283.4M194.7 276.5V284.1M196.3 277.2V284.7M198 278V285M199.6 278.2V285.7M201.3 278.7V286.1M202.9 279.2V286.6M204.6 279.8V286.8M206.2 280V287.4M207.9 280.4V287.8M209.5 280.8V288.2M211.2 281.3V288.4M212.8 281.4V289M214.5 282V289.1M216.1 282.2V289.5M217.8 282.3V290M219.4 282.8V290M221 283V290.2M222.7 283V290.7M224.3 283.4V290.6M226 283.6V290.8M227.6 283.7V291.1M229.3 283.8V291.3M230.9 284.3V291.1M232.6 284.3V291.4M234.2 284.5V291.5M235.9 284.6V291.6M237.5 284.7V291.8M239.2 284.9V291.9M240.8 284.8V292.2M242.5 285.1V292.1M244.1 285.1V292.4M245.8 285.2V292.5M247.4 285.4V292.5M249.1 285.4V292.7M250.7 285.3V293M252.3 285.6V292.9M254 285.9V292.9M255.6 285.9V293.1M257.3 286.1V293.1M258.9 286.1V293.4M260.6 286.2V293.6M262.2 286.5V293.4M263.9 286.5V293.6M265.5 286.5V293.9M267.2 286.8V293.8M268.8 286.7V293.9M270.5 287V293.8M272.1 287V293.9M273.8 287V294M275.4 286.7V294.3M277.1 287V294M278.7 287V294M280.4 287V294M282 287V294M283.7 286.9V294.1M285.3 287V294.1M286.9 286.7V294.3M288.6 287V294.1M290.2 286.8V294.2M291.9 287V294.1M293.5 286.9V294.1M295.2 287.2V293.9M296.8 287V294M298.5 287V294M300.1 287V294M301.8 287.3V293.8M303.4 286.9V294.1M305.1 287.1V294M306.7 287.1V294M308.4 287V294M310 287V294M311.7 287V294.1M313.3 287.2V293.9M315 287.1V293.9M316.6 287V294M318.2 287V294M319.9 287.1V294M321.5 287.1V293.9M323.2 287.1V293.9M324.8 287V294M326.5 286.9V294.1M328.1 287.2V293.9M329.8 286.9V294.2M331.4 286.9V294.1M333.1 287.1V293.9M334.7 287V294.1M336.4 287.2V293.8M338 287.3V293.8M339.7 287.2V293.8M341.3 287.1V293.9M343 287.1V293.9M344.6 287.1V293.9M346.3 287.1V294M347.9 287.3V293.7M349.6 287V294M351.2 287.2V293.8M352.8 287.2V293.9M354.5 287.1V293.9M356.1 287.2V293.8M357.8 287.3V293.8M359.4 287.2V293.8M361.1 287.1V293.9M362.7 287V294M364.4 287V294M366 287.2V293.8M367.7 287.2V293.8M369.3 287.2V293.8M371 287V294M372.6 287.3V293.7M374.3 287V294.1M375.9 287.2V293.9M377.6 287.2V293.8M379.2 287.1V294M380.9 287V294M382.5 287.1V294M384.1 287V294M385.8 287.1V293.9M387.4 287V294.1M389.1 287V294.1M390.7 287.1V293.9M392.4 287V294.1M394 287.1V293.9M395.7 287.1V293.9M397.3 287.2V293.8M399 287.2V293.9M400.6 287.1V294M402.3 287.3V293.8M403.9 287.1V294M405.6 287.1V294M407.2 287.1V294M408.9 287.4V293.7M410.5 287.2V293.9M412.2 287.1V294M413.8 287.3V293.9M415.5 287.2V294M417.1 287.5V293.7M418.7 287.1V294M420.4 287.3V293.9M422 287.1V294.1M423.7 287.4V293.7M425.3 287.1V294.1M427 287.3V293.9M428.6 287.1V294.1M430.3 287.4V293.9M431.9 287.3V293.9M433.6 287V294.3M435.2 287.4V293.9M436.9 287.4V293.9M438.5 287.3V294M440.2 287.4V293.9M441.8 287.2V294.2M443.5 287.1V294.2M445.1 287.4V293.9M446.8 287.5V293.8M448.4 287.2V294.2M450 287.2V294.2M451.7 287.2V294.1M453.3 287.2V294.2M455 287.5V294M456.6 287.4V294M458.3 287.5V293.9M459.9 287.5V293.9M461.6 287.3V294.2M463.2 287.5V294M464.9 287.1V294.4M466.5 287.4V294.1M468.2 287.5V294M469.8 287.3V294.2M471.5 287.2V294.3M473.1 287.4V294.2M474.8 287.6V294M476.4 287.4V294.2M478.1 287.3V294.3M479.7 287.5V294.1M481.4 287.6V294.1M483 287.4V294.3M484.6 287.5V294.2M486.3 287.6V294.1M487.9 287.6V294.2M489.6 287.6V294.1M491.2 287.5V294.3M492.9 287.5V294.3M494.5 287.4V294.4M496.2 287.5V294.3M497.8 287.8V294.1M499.5 287.5V294.3M501.1 287.5V294.4M502.8 287.6V294.4M504.4 287.5V294.4M506.1 287.7V294.3M507.7 287.8V294.2" stroke="#ff9a30" stroke-width="1.0" stroke-opacity="0.55" fill="none"/>
<path d="M86.6 333.8l2.6 -4.6l2.6 4.6zM88.3 331.5l2.6 -4.6l2.6 4.6zM89.9 330.1l2.6 -4.6l2.6 4.6zM91.6 328.5l2.6 -4.6l2.6 4.6zM93.2 323.8l2.6 -4.6l2.6 4.6zM94.9 319.4l2.6 -4.6l2.6 4.6zM96.5 314.9l2.6 -4.6l2.6 4.6zM98.2 309.1l2.6 -4.6l2.6 4.6zM99.8 301.5l2.6 -4.6l2.6 4.6zM101.5 292.6l2.6 -4.6l2.6 4.6zM103.1 283.4l2.6 -4.6l2.6 4.6zM104.8 276.8l2.6 -4.6l2.6 4.6zM106.4 268.9l2.6 -4.6l2.6 4.6zM108.1 264.2l2.6 -4.6l2.6 4.6zM109.7 259.4l2.6 -4.6l2.6 4.6zM111.4 254.1l2.6 -4.6l2.6 4.6zM113 248.9l2.6 -4.6l2.6 4.6zM114.7 247.2l2.6 -4.6l2.6 4.6zM116.3 244.4l2.6 -4.6l2.6 4.6zM118 240.9l2.6 -4.6l2.6 4.6zM119.6 239.8l2.6 -4.6l2.6 4.6zM121.2 238.8l2.6 -4.6l2.6 4.6zM122.9 238.3l2.6 -4.6l2.6 4.6zM124.5 238.7l2.6 -4.6l2.6 4.6zM126.2 238.9l2.6 -4.6l2.6 4.6zM127.8 240l2.6 -4.6l2.6 4.6zM129.5 240.5l2.6 -4.6l2.6 4.6zM131.1 242.1l2.6 -4.6l2.6 4.6zM132.8 241.5l2.6 -4.6l2.6 4.6zM134.4 241.8l2.6 -4.6l2.6 4.6zM136.1 242.1l2.6 -4.6l2.6 4.6zM137.7 245l2.6 -4.6l2.6 4.6zM139.4 244.8l2.6 -4.6l2.6 4.6zM141 246.2l2.6 -4.6l2.6 4.6zM142.7 247.3l2.6 -4.6l2.6 4.6zM144.3 249.3l2.6 -4.6l2.6 4.6zM146 251.3l2.6 -4.6l2.6 4.6zM147.6 252.8l2.6 -4.6l2.6 4.6zM149.3 254.7l2.6 -4.6l2.6 4.6zM150.9 256.4l2.6 -4.6l2.6 4.6zM152.5 258.5l2.6 -4.6l2.6 4.6zM154.2 258.9l2.6 -4.6l2.6 4.6zM155.8 262.1l2.6 -4.6l2.6 4.6zM157.5 261.8l2.6 -4.6l2.6 4.6zM159.1 263.2l2.6 -4.6l2.6 4.6zM160.8 265.3l2.6 -4.6l2.6 4.6zM162.4 265l2.6 -4.6l2.6 4.6zM164.1 267.2l2.6 -4.6l2.6 4.6zM165.7 268.5l2.6 -4.6l2.6 4.6zM167.4 269.4l2.6 -4.6l2.6 4.6zM169 271.2l2.6 -4.6l2.6 4.6zM170.7 271.4l2.6 -4.6l2.6 4.6zM172.3 272.4l2.6 -4.6l2.6 4.6zM174 272.9l2.6 -4.6l2.6 4.6zM175.6 274.1l2.6 -4.6l2.6 4.6zM177.3 275.3l2.6 -4.6l2.6 4.6zM178.9 276.5l2.6 -4.6l2.6 4.6zM180.6 277l2.6 -4.6l2.6 4.6zM182.2 278.3l2.6 -4.6l2.6 4.6zM183.8 279.1l2.6 -4.6l2.6 4.6zM185.5 280.4l2.6 -4.6l2.6 4.6zM187.1 280.8l2.6 -4.6l2.6 4.6zM188.8 281.6l2.6 -4.6l2.6 4.6zM190.4 280.7l2.6 -4.6l2.6 4.6zM192.1 282.5l2.6 -4.6l2.6 4.6zM193.7 282.3l2.6 -4.6l2.6 4.6zM195.4 283.7l2.6 -4.6l2.6 4.6zM197 283.6l2.6 -4.6l2.6 4.6zM198.7 283.9l2.6 -4.6l2.6 4.6zM200.3 285.2l2.6 -4.6l2.6 4.6zM202 285.2l2.6 -4.6l2.6 4.6zM203.6 286.1l2.6 -4.6l2.6 4.6zM205.3 285.6l2.6 -4.6l2.6 4.6zM206.9 287.3l2.6 -4.6l2.6 4.6zM208.6 287.6l2.6 -4.6l2.6 4.6zM210.2 287.7l2.6 -4.6l2.6 4.6zM211.9 288.2l2.6 -4.6l2.6 4.6zM213.5 288.2l2.6 -4.6l2.6 4.6zM215.2 288.7l2.6 -4.6l2.6 4.6zM216.8 288.9l2.6 -4.6l2.6 4.6zM218.4 289.1l2.6 -4.6l2.6 4.6zM220.1 289.6l2.6 -4.6l2.6 4.6zM221.7 289.1l2.6 -4.6l2.6 4.6zM223.4 289.4l2.6 -4.6l2.6 4.6zM225 290.4l2.6 -4.6l2.6 4.6zM226.7 289.5l2.6 -4.6l2.6 4.6zM228.3 289.7l2.6 -4.6l2.6 4.6zM230 290.2l2.6 -4.6l2.6 4.6zM231.6 289.9l2.6 -4.6l2.6 4.6zM233.3 290.3l2.6 -4.6l2.6 4.6zM234.9 291.2l2.6 -4.6l2.6 4.6zM236.6 291.5l2.6 -4.6l2.6 4.6zM238.2 291.3l2.6 -4.6l2.6 4.6zM239.9 290.9l2.6 -4.6l2.6 4.6zM241.5 291.3l2.6 -4.6l2.6 4.6zM243.2 290.6l2.6 -4.6l2.6 4.6zM244.8 291.3l2.6 -4.6l2.6 4.6zM246.5 290.9l2.6 -4.6l2.6 4.6zM248.1 291.7l2.6 -4.6l2.6 4.6zM249.8 291.3l2.6 -4.6l2.6 4.6zM251.4 290.8l2.6 -4.6l2.6 4.6zM253 291.6l2.6 -4.6l2.6 4.6zM254.7 292.4l2.6 -4.6l2.6 4.6zM256.3 291.9l2.6 -4.6l2.6 4.6zM258 291.3l2.6 -4.6l2.6 4.6zM259.6 293.1l2.6 -4.6l2.6 4.6zM261.3 292.8l2.6 -4.6l2.6 4.6zM262.9 292.9l2.6 -4.6l2.6 4.6zM264.6 292.5l2.6 -4.6l2.6 4.6zM266.2 292.6l2.6 -4.6l2.6 4.6zM267.9 293.1l2.6 -4.6l2.6 4.6zM269.5 293.5l2.6 -4.6l2.6 4.6zM271.2 293.2l2.6 -4.6l2.6 4.6zM272.8 292.5l2.6 -4.6l2.6 4.6zM274.5 292.8l2.6 -4.6l2.6 4.6zM276.1 292.6l2.6 -4.6l2.6 4.6zM277.8 292.4l2.6 -4.6l2.6 4.6zM279.4 293.7l2.6 -4.6l2.6 4.6zM281.1 291.8l2.6 -4.6l2.6 4.6zM282.7 292.2l2.6 -4.6l2.6 4.6zM284.3 293.1l2.6 -4.6l2.6 4.6zM286 292.6l2.6 -4.6l2.6 4.6zM287.6 292.9l2.6 -4.6l2.6 4.6zM289.3 292.9l2.6 -4.6l2.6 4.6zM290.9 293.1l2.6 -4.6l2.6 4.6zM292.6 293.9l2.6 -4.6l2.6 4.6zM294.2 292.5l2.6 -4.6l2.6 4.6zM295.9 292.1l2.6 -4.6l2.6 4.6zM297.5 293.1l2.6 -4.6l2.6 4.6zM299.2 293.2l2.6 -4.6l2.6 4.6zM300.8 292.9l2.6 -4.6l2.6 4.6zM302.5 293.1l2.6 -4.6l2.6 4.6zM304.1 292l2.6 -4.6l2.6 4.6zM305.8 292.4l2.6 -4.6l2.6 4.6zM307.4 292.1l2.6 -4.6l2.6 4.6zM309.1 292.1l2.6 -4.6l2.6 4.6zM310.7 293.2l2.6 -4.6l2.6 4.6zM312.4 293.3l2.6 -4.6l2.6 4.6zM314 292.1l2.6 -4.6l2.6 4.6zM315.6 293l2.6 -4.6l2.6 4.6zM317.3 293.2l2.6 -4.6l2.6 4.6zM318.9 293.1l2.6 -4.6l2.6 4.6zM320.6 293.3l2.6 -4.6l2.6 4.6zM322.2 293.1l2.6 -4.6l2.6 4.6zM323.9 293.7l2.6 -4.6l2.6 4.6zM325.5 292.8l2.6 -4.6l2.6 4.6zM327.2 292.1l2.6 -4.6l2.6 4.6zM328.8 293.4l2.6 -4.6l2.6 4.6zM330.5 291.8l2.6 -4.6l2.6 4.6zM332.1 293.2l2.6 -4.6l2.6 4.6zM333.8 292.4l2.6 -4.6l2.6 4.6zM335.4 292.5l2.6 -4.6l2.6 4.6zM337.1 293.1l2.6 -4.6l2.6 4.6zM338.7 292.5l2.6 -4.6l2.6 4.6zM340.4 293.5l2.6 -4.6l2.6 4.6zM342 292.1l2.6 -4.6l2.6 4.6zM343.7 292.9l2.6 -4.6l2.6 4.6zM345.3 292l2.6 -4.6l2.6 4.6zM347 292.4l2.6 -4.6l2.6 4.6zM348.6 292.8l2.6 -4.6l2.6 4.6zM350.2 292.8l2.6 -4.6l2.6 4.6zM351.9 292.6l2.6 -4.6l2.6 4.6zM353.5 292.7l2.6 -4.6l2.6 4.6zM355.2 292.6l2.6 -4.6l2.6 4.6zM356.8 293.1l2.6 -4.6l2.6 4.6zM358.5 292.4l2.6 -4.6l2.6 4.6zM360.1 292.3l2.6 -4.6l2.6 4.6zM361.8 292.9l2.6 -4.6l2.6 4.6zM363.4 293l2.6 -4.6l2.6 4.6zM365.1 292.9l2.6 -4.6l2.6 4.6zM366.7 292.2l2.6 -4.6l2.6 4.6zM368.4 293.6l2.6 -4.6l2.6 4.6zM370 292.8l2.6 -4.6l2.6 4.6zM371.7 292.3l2.6 -4.6l2.6 4.6zM373.3 292.9l2.6 -4.6l2.6 4.6zM375 292.4l2.6 -4.6l2.6 4.6zM376.6 292.8l2.6 -4.6l2.6 4.6zM378.3 292.7l2.6 -4.6l2.6 4.6zM379.9 292.3l2.6 -4.6l2.6 4.6zM381.5 293l2.6 -4.6l2.6 4.6zM383.2 293.2l2.6 -4.6l2.6 4.6zM384.8 292.4l2.6 -4.6l2.6 4.6zM386.5 293l2.6 -4.6l2.6 4.6zM388.1 292.4l2.6 -4.6l2.6 4.6zM389.8 292.1l2.6 -4.6l2.6 4.6zM391.4 292.3l2.6 -4.6l2.6 4.6zM393.1 291.9l2.6 -4.6l2.6 4.6zM394.7 292.9l2.6 -4.6l2.6 4.6zM396.4 293l2.6 -4.6l2.6 4.6zM398 293.9l2.6 -4.6l2.6 4.6zM399.7 293.2l2.6 -4.6l2.6 4.6zM401.3 293.3l2.6 -4.6l2.6 4.6zM403 292.3l2.6 -4.6l2.6 4.6zM404.6 293.2l2.6 -4.6l2.6 4.6zM406.3 293.5l2.6 -4.6l2.6 4.6zM407.9 293l2.6 -4.6l2.6 4.6zM409.6 293.5l2.6 -4.6l2.6 4.6zM411.2 293.3l2.6 -4.6l2.6 4.6zM412.9 292.1l2.6 -4.6l2.6 4.6zM414.5 292.8l2.6 -4.6l2.6 4.6zM416.1 293.9l2.6 -4.6l2.6 4.6zM417.8 293.1l2.6 -4.6l2.6 4.6zM419.4 293.1l2.6 -4.6l2.6 4.6zM421.1 293l2.6 -4.6l2.6 4.6zM422.7 292.8l2.6 -4.6l2.6 4.6zM424.4 293.3l2.6 -4.6l2.6 4.6zM426 293.1l2.6 -4.6l2.6 4.6zM427.7 293.8l2.6 -4.6l2.6 4.6zM429.3 293.1l2.6 -4.6l2.6 4.6zM431 292.6l2.6 -4.6l2.6 4.6zM432.6 292.5l2.6 -4.6l2.6 4.6zM434.3 293.4l2.6 -4.6l2.6 4.6zM435.9 293.3l2.6 -4.6l2.6 4.6zM437.6 293.1l2.6 -4.6l2.6 4.6zM439.2 292.7l2.6 -4.6l2.6 4.6zM440.9 293.1l2.6 -4.6l2.6 4.6zM442.5 292.6l2.6 -4.6l2.6 4.6zM444.2 292.6l2.6 -4.6l2.6 4.6zM445.8 293l2.6 -4.6l2.6 4.6zM447.4 291.9l2.6 -4.6l2.6 4.6zM449.1 293.2l2.6 -4.6l2.6 4.6zM450.7 293.3l2.6 -4.6l2.6 4.6zM452.4 292.8l2.6 -4.6l2.6 4.6zM454 293.3l2.6 -4.6l2.6 4.6zM455.7 293.6l2.6 -4.6l2.6 4.6zM457.3 293.3l2.6 -4.6l2.6 4.6zM459 292.5l2.6 -4.6l2.6 4.6zM460.6 293.8l2.6 -4.6l2.6 4.6zM462.3 292.8l2.6 -4.6l2.6 4.6zM463.9 292.3l2.6 -4.6l2.6 4.6zM465.6 293.4l2.6 -4.6l2.6 4.6zM467.2 293.1l2.6 -4.6l2.6 4.6zM468.9 292.1l2.6 -4.6l2.6 4.6zM470.5 292.8l2.6 -4.6l2.6 4.6zM472.2 292.2l2.6 -4.6l2.6 4.6zM473.8 292.9l2.6 -4.6l2.6 4.6zM475.5 293.5l2.6 -4.6l2.6 4.6zM477.1 293.2l2.6 -4.6l2.6 4.6zM478.8 294l2.6 -4.6l2.6 4.6zM480.4 292.8l2.6 -4.6l2.6 4.6zM482 292.3l2.6 -4.6l2.6 4.6zM483.7 293l2.6 -4.6l2.6 4.6zM485.3 293.1l2.6 -4.6l2.6 4.6zM487 293.9l2.6 -4.6l2.6 4.6zM488.6 293.3l2.6 -4.6l2.6 4.6zM490.3 293.3l2.6 -4.6l2.6 4.6zM491.9 292.9l2.6 -4.6l2.6 4.6zM493.6 293.3l2.6 -4.6l2.6 4.6zM495.2 293.2l2.6 -4.6l2.6 4.6zM496.9 293.6l2.6 -4.6l2.6 4.6zM498.5 292.8l2.6 -4.6l2.6 4.6zM500.2 293.6l2.6 -4.6l2.6 4.6zM501.8 293.5l2.6 -4.6l2.6 4.6zM503.5 293.4l2.6 -4.6l2.6 4.6zM505.1 293.1l2.6 -4.6l2.6 4.6z" fill="#ff8a00"/>
<path d="M89.2 330.7V331.2M90.9 328.6V330M92.5 325.9V328.7M94.2 322.9V327M95.8 316.8V322.4M97.5 308.2V316.3M99.1 301.5V311.7M100.8 293.3V307.2M102.4 284.8V301.4M104.1 276.5V296.5M105.7 263.5V288.2M107.4 245.7V275M109 226.5V263.4M110.7 207.4V251.1M112.3 187.7V236.8M114 165.7V218.1M115.6 150.5V200.2M117.3 129.7V190.1M118.9 115.2V173.6M120.5 97V161M122.2 82.2V147.8M123.8 71.3V134.1M125.5 61.5V121.8M127.1 52.8V112.5M128.8 45.4V104.5M130.4 39.4V97M132.1 34.1V91M133.7 31.1V86.7M135.4 26.5V85.9M137 26.6V83.1M138.7 24.7V82.7M140.3 26V81M142 26.9V81.5M143.6 29.5V82.1M145.3 32V84M146.9 37.1V88M148.6 42.1V90.4M150.2 48V93.2M151.9 52.5V96M153.5 55.8V101.5M155.1 67.7V108.9M156.8 74.3V114M158.4 81.4V122M160.1 88.2V126.7M161.7 97V133.2M163.4 103V136.5M165 108.9V144.1M166.7 117.9V149.4M168.3 123.3V153.5M170 131.3V159.5M171.6 137.7V163.5M173.3 144.4V169.2M174.9 151.6V177M176.6 159.6V184.1M178.2 167V190M179.9 173.8V195.2M181.5 179.7V200.1M183.2 184.8V205.2M184.8 190.4V209.3M186.4 194.7V214.5M188.1 199.7V219M189.7 204V223.7M191.4 209.3V227.1M193 214.1V230.5M194.7 218.3V234M196.3 223.2V237M198 227.3V242M199.6 232.7V247.1M201.3 237.4V251.9M202.9 241.2V255M204.6 244.4V257.7M206.2 247.4V260.1M207.9 250.2V262.6M209.5 252.8V265M211.2 255.9V266.7M212.8 258.2V269M214.5 260.8V270.9M216.1 262.5V273.5M217.8 264.8V275.4M219.4 267V277.3M221 269.4V278.9M222.7 271.3V281.1M224.3 273.2V282.8M226 274.6V284.2M227.6 275.9V285.3M229.3 276.9V286.4M230.9 278V287.1M232.6 278.8V288.2M234.2 279.9V289M235.9 280.9V289.7M237.5 281.7V290.5M239.2 282.5V291.1M240.8 282.9V291.8M242.5 283.7V292.2M244.1 284.2V292.8M245.8 284.9V293.2M247.4 285.6V293.5M249.1 285.7V294.2M250.7 286.4V294.3M252.3 286.5V294.8M254 286.8V295M255.6 287.4V295M257.3 287.6V295.3M258.9 287.8V295.6M260.6 288.1V295.8M262.2 288.4V295.9M263.9 288.4V296.4M265.5 288.8V296.4M267.2 288.9V296.7M268.8 289.2V296.8M270.5 289.3V297M272.1 289.7V297.1M273.8 289.8V297.3M275.4 290V297.6M277.1 290.2V297.7M278.7 290.5V297.9M280.4 290.8V298M282 290.9V298.4M283.7 291.1V298.6M285.3 291.4V298.7M286.9 291.7V298.8M288.6 291.8V299.2M290.2 291.7V299.7M291.9 292.3V299.5M293.5 292.4V299.7M295.2 292.6V299.9M296.8 293.1V299.7M298.5 293V300.2M300.1 293.2V300.2M301.8 293.1V300.6M303.4 293.5V300.5M305.1 293.6V300.6M306.7 293.7V300.8M308.4 293.8V300.9M310 294V300.9M311.7 294V301M313.3 294.3V301M315 294.2V301.2M316.6 294.2V301.4M318.2 294.1V301.6M319.9 294.4V301.5M321.5 294.5V301.5M323.2 294.5V301.7M324.8 294.6V301.8M326.5 294.6V301.9M328.1 294.8V301.9M329.8 295V301.8M331.4 295V301.9M333.1 295.1V302M334.7 295.2V302.1M336.4 295.3V302.1M338 295.5V302.1M339.7 295.7V302M341.3 295.6V302.3M343 295.9V302.2M344.6 295.8V302.5M346.3 295.9V302.6M347.9 296.2V302.5M349.6 296V302.9M351.2 296.1V303M352.8 296.3V303M354.5 296.3V303.3M356.1 296.4V303.4M357.8 296.9V303.2M359.4 296.7V303.6M361.1 297V303.7M362.7 297.1V303.8M364.4 297.2V304M366 297.6V304M367.7 297.7V304.1M369.3 297.9V304.2M371 298V304.4M372.6 298.1V304.6M374.3 298.5V304.6M375.9 298.6V304.8M377.6 298.6V305.2M379.2 298.8V305.3M380.9 298.9V305.5M382.5 299.4V305.4M384.1 299.4V305.7M385.8 299.6V305.9M387.4 299.7V306.1M389.1 299.9V306.2M390.7 299.9V306.5M392.4 300.2V306.6M394 300.4V306.8M395.7 300.6V306.9M397.3 300.7V307.2M399 301V307.2M400.6 300.9V307.5M402.3 301.2V307.6M403.9 301.4V307.7M405.6 301.6V307.9M407.2 301.7V308.1M408.9 301.8V308.3M410.5 302V308.4M412.2 302.2V308.5M413.8 302.3V308.8M415.5 302.6V308.8M417.1 302.6V309.1M418.7 302.9V309.2M420.4 303.3V309.1M422 303.1V309.6M423.7 303.4V309.7M425.3 303.7V309.7M427 303.8V310M428.6 304.1V310.1M430.3 303.9V310.5M431.9 304.2V310.5M433.6 304.6V310.5M435.2 304.6V310.9M436.9 304.8V310.9M438.5 304.8V311.3M440.2 305.2V311.2M441.8 305.5V311.2M443.5 305.4V311.6M445.1 305.6V311.7M446.8 305.8V311.8M448.4 306.1V311.8M450 306V312.2M451.7 306V312.4M453.3 306.5V312.2M455 306.3V312.6M456.6 306.6V312.6M458.3 306.4V313M459.9 306.7V312.9M461.6 306.9V312.9M463.2 306.9V313.2M464.9 307V313.2M466.5 307.3V313.2M468.2 307.3V313.5M469.8 307.5V313.4M471.5 307.7V313.4M473.1 307.4V313.9M474.8 307.8V313.8M476.4 307.9V313.9M478.1 307.9V314.1M479.7 308.2V314M481.4 308.3V314.1M483 308.3V314.3M484.6 308.4V314.3M486.3 308.5V314.5M487.9 308.4V314.7M489.6 308.7V314.6M491.2 308.7V314.8M492.9 308.8V314.9M494.5 309V314.8M496.2 309V315M497.8 309.2V315M499.5 309V315.3M501.1 309.2V315.3M502.8 309.3V315.3M504.4 309.5V315.3M506.1 309.4V315.5M507.7 309.6V315.5" stroke="#ff9a30" stroke-width="1.0" stroke-opacity="0.55" fill="none"/>
<path d="M84.5 335.1l4.7 -8.3l4.7 8.3zM86.2 333.1l4.7 -8.3l4.7 8.3zM87.8 331.6l4.7 -8.3l4.7 8.3zM89.5 329.1l4.7 -8.3l4.7 8.3zM91.1 323.7l4.7 -8.3l4.7 8.3zM92.8 316.7l4.7 -8.3l4.7 8.3zM94.4 310.1l4.7 -8.3l4.7 8.3zM96.1 304.1l4.7 -8.3l4.7 8.3zM97.7 296.8l4.7 -8.3l4.7 8.3zM99.4 290.2l4.7 -8.3l4.7 8.3zM101 278.9l4.7 -8.3l4.7 8.3zM102.7 264.9l4.7 -8.3l4.7 8.3zM104.3 248.5l4.7 -8.3l4.7 8.3zM106 234.8l4.7 -8.3l4.7 8.3zM107.6 215.2l4.7 -8.3l4.7 8.3zM109.3 194.9l4.7 -8.3l4.7 8.3zM110.9 177.7l4.7 -8.3l4.7 8.3zM112.6 163.2l4.7 -8.3l4.7 8.3zM114.2 148.6l4.7 -8.3l4.7 8.3zM115.8 133.1l4.7 -8.3l4.7 8.3zM117.5 118.7l4.7 -8.3l4.7 8.3zM119.1 108l4.7 -8.3l4.7 8.3zM120.8 97.1l4.7 -8.3l4.7 8.3zM122.4 88l4.7 -8.3l4.7 8.3zM124.1 81.7l4.7 -8.3l4.7 8.3zM125.7 70.9l4.7 -8.3l4.7 8.3zM127.4 69.2l4.7 -8.3l4.7 8.3zM129 62.4l4.7 -8.3l4.7 8.3zM130.7 62.1l4.7 -8.3l4.7 8.3zM132.3 56.6l4.7 -8.3l4.7 8.3zM134 57.4l4.7 -8.3l4.7 8.3zM135.6 56.8l4.7 -8.3l4.7 8.3zM137.3 57.2l4.7 -8.3l4.7 8.3zM138.9 59.8l4.7 -8.3l4.7 8.3zM140.6 64.2l4.7 -8.3l4.7 8.3zM142.2 66.8l4.7 -8.3l4.7 8.3zM143.9 70.2l4.7 -8.3l4.7 8.3zM145.5 74.6l4.7 -8.3l4.7 8.3zM147.2 77.5l4.7 -8.3l4.7 8.3zM148.8 85.5l4.7 -8.3l4.7 8.3zM150.4 91.8l4.7 -8.3l4.7 8.3zM152.1 94.5l4.7 -8.3l4.7 8.3zM153.7 106.9l4.7 -8.3l4.7 8.3zM155.4 113.5l4.7 -8.3l4.7 8.3zM157 115.2l4.7 -8.3l4.7 8.3zM158.7 122.6l4.7 -8.3l4.7 8.3zM160.3 127.9l4.7 -8.3l4.7 8.3zM162 136.5l4.7 -8.3l4.7 8.3zM163.6 143.9l4.7 -8.3l4.7 8.3zM165.3 147.4l4.7 -8.3l4.7 8.3zM166.9 154.4l4.7 -8.3l4.7 8.3zM168.6 161.1l4.7 -8.3l4.7 8.3zM170.2 167.4l4.7 -8.3l4.7 8.3zM171.9 175.2l4.7 -8.3l4.7 8.3zM173.5 181.8l4.7 -8.3l4.7 8.3zM175.2 189.6l4.7 -8.3l4.7 8.3zM176.8 192.1l4.7 -8.3l4.7 8.3zM178.5 198.9l4.7 -8.3l4.7 8.3zM180.1 202.8l4.7 -8.3l4.7 8.3zM181.8 210l4.7 -8.3l4.7 8.3zM183.4 214.8l4.7 -8.3l4.7 8.3zM185 217.7l4.7 -8.3l4.7 8.3zM186.7 220.5l4.7 -8.3l4.7 8.3zM188.3 225.6l4.7 -8.3l4.7 8.3zM190 231.2l4.7 -8.3l4.7 8.3zM191.6 235.2l4.7 -8.3l4.7 8.3zM193.3 239.8l4.7 -8.3l4.7 8.3zM194.9 244.6l4.7 -8.3l4.7 8.3zM196.6 250.2l4.7 -8.3l4.7 8.3zM198.2 252l4.7 -8.3l4.7 8.3zM199.9 254.2l4.7 -8.3l4.7 8.3zM201.5 257.8l4.7 -8.3l4.7 8.3zM203.2 260.4l4.7 -8.3l4.7 8.3zM204.8 262.5l4.7 -8.3l4.7 8.3zM206.5 265.9l4.7 -8.3l4.7 8.3zM208.1 269l4.7 -8.3l4.7 8.3zM209.8 269.6l4.7 -8.3l4.7 8.3zM211.4 272l4.7 -8.3l4.7 8.3zM213.1 274.6l4.7 -8.3l4.7 8.3zM214.7 276.8l4.7 -8.3l4.7 8.3zM216.3 278.5l4.7 -8.3l4.7 8.3zM218 279.8l4.7 -8.3l4.7 8.3zM219.6 281.8l4.7 -8.3l4.7 8.3zM221.3 283.8l4.7 -8.3l4.7 8.3zM222.9 285.2l4.7 -8.3l4.7 8.3zM224.6 286l4.7 -8.3l4.7 8.3zM226.2 286.6l4.7 -8.3l4.7 8.3zM227.9 287.4l4.7 -8.3l4.7 8.3zM229.5 289.1l4.7 -8.3l4.7 8.3zM231.2 288.7l4.7 -8.3l4.7 8.3zM232.8 290.8l4.7 -8.3l4.7 8.3zM234.5 292l4.7 -8.3l4.7 8.3zM236.1 291.5l4.7 -8.3l4.7 8.3zM237.8 292.7l4.7 -8.3l4.7 8.3zM239.4 292.3l4.7 -8.3l4.7 8.3zM241.1 292.8l4.7 -8.3l4.7 8.3zM242.7 293.5l4.7 -8.3l4.7 8.3zM244.4 294.9l4.7 -8.3l4.7 8.3zM246 295l4.7 -8.3l4.7 8.3zM247.7 294.7l4.7 -8.3l4.7 8.3zM249.3 294.8l4.7 -8.3l4.7 8.3zM250.9 295.7l4.7 -8.3l4.7 8.3zM252.6 296.4l4.7 -8.3l4.7 8.3zM254.2 296.4l4.7 -8.3l4.7 8.3zM255.9 296.7l4.7 -8.3l4.7 8.3zM257.5 296.7l4.7 -8.3l4.7 8.3zM259.2 296.8l4.7 -8.3l4.7 8.3zM260.8 296.7l4.7 -8.3l4.7 8.3zM262.5 297.2l4.7 -8.3l4.7 8.3zM264.1 296.9l4.7 -8.3l4.7 8.3zM265.8 296.4l4.7 -8.3l4.7 8.3zM267.4 297.4l4.7 -8.3l4.7 8.3zM269.1 297.1l4.7 -8.3l4.7 8.3zM270.7 298.1l4.7 -8.3l4.7 8.3zM272.4 297.9l4.7 -8.3l4.7 8.3zM274 297.9l4.7 -8.3l4.7 8.3zM275.7 299.2l4.7 -8.3l4.7 8.3zM277.3 298.3l4.7 -8.3l4.7 8.3zM279 299.1l4.7 -8.3l4.7 8.3zM280.6 298.7l4.7 -8.3l4.7 8.3zM282.2 299.5l4.7 -8.3l4.7 8.3zM283.9 299.7l4.7 -8.3l4.7 8.3zM285.5 300.5l4.7 -8.3l4.7 8.3zM287.2 299.9l4.7 -8.3l4.7 8.3zM288.8 300l4.7 -8.3l4.7 8.3zM290.5 299.7l4.7 -8.3l4.7 8.3zM292.1 300.8l4.7 -8.3l4.7 8.3zM293.8 300.7l4.7 -8.3l4.7 8.3zM295.4 300.7l4.7 -8.3l4.7 8.3zM297.1 301.1l4.7 -8.3l4.7 8.3zM298.7 302.4l4.7 -8.3l4.7 8.3zM300.4 301.6l4.7 -8.3l4.7 8.3zM302 301.3l4.7 -8.3l4.7 8.3zM303.7 301.6l4.7 -8.3l4.7 8.3zM305.3 301.8l4.7 -8.3l4.7 8.3zM307 300.7l4.7 -8.3l4.7 8.3zM308.6 301.9l4.7 -8.3l4.7 8.3zM310.3 302.3l4.7 -8.3l4.7 8.3zM311.9 302.6l4.7 -8.3l4.7 8.3zM313.6 301.8l4.7 -8.3l4.7 8.3zM315.2 302.5l4.7 -8.3l4.7 8.3zM316.8 303l4.7 -8.3l4.7 8.3zM318.5 302.3l4.7 -8.3l4.7 8.3zM320.1 302.3l4.7 -8.3l4.7 8.3zM321.8 302l4.7 -8.3l4.7 8.3zM323.4 303.3l4.7 -8.3l4.7 8.3zM325.1 302.5l4.7 -8.3l4.7 8.3zM326.7 302.2l4.7 -8.3l4.7 8.3zM328.4 302.7l4.7 -8.3l4.7 8.3zM330 303.1l4.7 -8.3l4.7 8.3zM331.7 302.5l4.7 -8.3l4.7 8.3zM333.3 303.1l4.7 -8.3l4.7 8.3zM335 302.7l4.7 -8.3l4.7 8.3zM336.6 302.6l4.7 -8.3l4.7 8.3zM338.3 303.1l4.7 -8.3l4.7 8.3zM339.9 302.5l4.7 -8.3l4.7 8.3zM341.6 303.2l4.7 -8.3l4.7 8.3zM343.2 304l4.7 -8.3l4.7 8.3zM344.9 303.6l4.7 -8.3l4.7 8.3zM346.5 303.8l4.7 -8.3l4.7 8.3zM348.1 304.4l4.7 -8.3l4.7 8.3zM349.8 303.9l4.7 -8.3l4.7 8.3zM351.4 303.2l4.7 -8.3l4.7 8.3zM353.1 303.7l4.7 -8.3l4.7 8.3zM354.7 304.2l4.7 -8.3l4.7 8.3zM356.4 304.6l4.7 -8.3l4.7 8.3zM358 304.6l4.7 -8.3l4.7 8.3zM359.7 304.5l4.7 -8.3l4.7 8.3zM361.3 305.3l4.7 -8.3l4.7 8.3zM363 305.6l4.7 -8.3l4.7 8.3zM364.6 304.7l4.7 -8.3l4.7 8.3zM366.3 306.2l4.7 -8.3l4.7 8.3zM367.9 306l4.7 -8.3l4.7 8.3zM369.6 306.2l4.7 -8.3l4.7 8.3zM371.2 304.9l4.7 -8.3l4.7 8.3zM372.9 305.9l4.7 -8.3l4.7 8.3zM374.5 306.5l4.7 -8.3l4.7 8.3zM376.2 306.6l4.7 -8.3l4.7 8.3zM377.8 306.2l4.7 -8.3l4.7 8.3zM379.4 307.1l4.7 -8.3l4.7 8.3zM381.1 307.4l4.7 -8.3l4.7 8.3zM382.7 306.7l4.7 -8.3l4.7 8.3zM384.4 307.5l4.7 -8.3l4.7 8.3zM386 307.8l4.7 -8.3l4.7 8.3zM387.7 307.8l4.7 -8.3l4.7 8.3zM389.3 307.8l4.7 -8.3l4.7 8.3zM391 307.7l4.7 -8.3l4.7 8.3zM392.6 308.1l4.7 -8.3l4.7 8.3zM394.3 308.8l4.7 -8.3l4.7 8.3zM395.9 307.9l4.7 -8.3l4.7 8.3zM397.6 307.6l4.7 -8.3l4.7 8.3zM399.2 308.7l4.7 -8.3l4.7 8.3zM400.9 308.8l4.7 -8.3l4.7 8.3zM402.5 308.4l4.7 -8.3l4.7 8.3zM404.2 309.6l4.7 -8.3l4.7 8.3zM405.8 309l4.7 -8.3l4.7 8.3zM407.5 309.1l4.7 -8.3l4.7 8.3zM409.1 309.9l4.7 -8.3l4.7 8.3zM410.8 310.7l4.7 -8.3l4.7 8.3zM412.4 310.3l4.7 -8.3l4.7 8.3zM414 310.6l4.7 -8.3l4.7 8.3zM415.7 310.2l4.7 -8.3l4.7 8.3zM417.3 311.2l4.7 -8.3l4.7 8.3zM419 311.3l4.7 -8.3l4.7 8.3zM420.6 310.7l4.7 -8.3l4.7 8.3zM422.3 310.2l4.7 -8.3l4.7 8.3zM423.9 310.9l4.7 -8.3l4.7 8.3zM425.6 311.4l4.7 -8.3l4.7 8.3zM427.2 310.9l4.7 -8.3l4.7 8.3zM428.9 311.5l4.7 -8.3l4.7 8.3zM430.5 311.4l4.7 -8.3l4.7 8.3zM432.2 312.4l4.7 -8.3l4.7 8.3zM433.8 311.6l4.7 -8.3l4.7 8.3zM435.5 312.9l4.7 -8.3l4.7 8.3zM437.1 312.6l4.7 -8.3l4.7 8.3zM438.8 313.9l4.7 -8.3l4.7 8.3zM440.4 312.9l4.7 -8.3l4.7 8.3zM442.1 313l4.7 -8.3l4.7 8.3zM443.7 312.8l4.7 -8.3l4.7 8.3zM445.3 313.7l4.7 -8.3l4.7 8.3zM447 314l4.7 -8.3l4.7 8.3zM448.6 313.6l4.7 -8.3l4.7 8.3zM450.3 314.2l4.7 -8.3l4.7 8.3zM451.9 313l4.7 -8.3l4.7 8.3zM453.6 314.7l4.7 -8.3l4.7 8.3zM455.2 313.7l4.7 -8.3l4.7 8.3zM456.9 314.4l4.7 -8.3l4.7 8.3zM458.5 314.3l4.7 -8.3l4.7 8.3zM460.2 314.7l4.7 -8.3l4.7 8.3zM461.8 314.1l4.7 -8.3l4.7 8.3zM463.5 314.4l4.7 -8.3l4.7 8.3zM465.1 314.4l4.7 -8.3l4.7 8.3zM466.8 315.1l4.7 -8.3l4.7 8.3zM468.4 314.7l4.7 -8.3l4.7 8.3zM470.1 315.3l4.7 -8.3l4.7 8.3zM471.7 315.2l4.7 -8.3l4.7 8.3zM473.4 314.6l4.7 -8.3l4.7 8.3zM475 315.3l4.7 -8.3l4.7 8.3zM476.7 315l4.7 -8.3l4.7 8.3zM478.3 315.1l4.7 -8.3l4.7 8.3zM479.9 315.7l4.7 -8.3l4.7 8.3zM481.6 315.7l4.7 -8.3l4.7 8.3zM483.2 315.6l4.7 -8.3l4.7 8.3zM484.9 315.9l4.7 -8.3l4.7 8.3zM486.5 316.1l4.7 -8.3l4.7 8.3zM488.2 316.1l4.7 -8.3l4.7 8.3zM489.8 316.5l4.7 -8.3l4.7 8.3zM491.5 316l4.7 -8.3l4.7 8.3zM493.1 316l4.7 -8.3l4.7 8.3zM494.8 316.2l4.7 -8.3l4.7 8.3zM496.4 316.3l4.7 -8.3l4.7 8.3zM498.1 316.7l4.7 -8.3l4.7 8.3zM499.7 315.7l4.7 -8.3l4.7 8.3zM501.4 316.9l4.7 -8.3l4.7 8.3zM503 317l4.7 -8.3l4.7 8.3z" fill="#ff8a00"/>
<path d="M89.2 331.1V331.8M90.9 329.2V330.8M92.5 327V329.2M94.2 324.4V327.5M95.8 321.8V325.3M97.5 319V322.9M99.1 316.2V320.6M100.8 313.2V318M102.4 309V314.2M104.1 306.6V311.9M105.7 304V309.5M107.4 300.3V306M109 298.5V304.7M110.7 297.1V303.3M112.3 294.3V300.4M114 291.6V297.9M115.6 289.6V296.2M117.3 288.7V295.1M118.9 288V294.5M120.5 287.6V294.1M122.2 287.2V293.8M123.8 286.6V293.4M125.5 286.2V293.1M127.1 286.4V293.1M128.8 286.4V293.6M130.4 287.3V294M132.1 287.6V295.1M133.7 288.3V295.2M135.4 288.8V295.6M137 289.6V296.2M138.7 290.5V296.5M140.3 290.6V297.2M142 290.8V297.6M143.6 291V298.2M145.3 291.9V298.2M146.9 291.9V299M148.6 292.6V299.2M150.2 293V299.8M151.9 293.8V299.9M153.5 294V300.7M155.1 294.6V301.2M156.8 295V301.8M158.4 295.5V302.2M160.1 296V302.5M161.7 296.1V303M163.4 296.5V303.3M165 296.8V303.6M166.7 297.1V304M168.3 297.4V304.4M170 298V304.6M171.6 298.5V304.8M173.3 298.8V305.1M174.9 298.7V305.7M176.6 298.9V305.8M178.2 299.2V305.9M179.9 299.4V306M181.5 299.5V306.1M183.2 299.6V306.3M184.8 299.8V306.4M186.4 300V306.5M188.1 299.8V307M189.7 300.1V306.9M191.4 300.4V306.9M193 300.6V306.9M194.7 300.6V307.1M196.3 300.6V307.4M198 300.7V307.6M199.6 301V307.6M201.3 301.2V307.9M202.9 301.4V308M204.6 301.8V308.2M206.2 301.7V308.7M207.9 302.1V308.9M209.5 302.2V309.4M211.2 302.9V309.4M212.8 303.1V309.8M214.5 303.3V310.2M216.1 303.8V310.4M217.8 304.2V310.5M219.4 304.4V310.9M221 304.6V311.3M222.7 304.9V311.6M224.3 305.2V311.8M226 305.3V312.2M227.6 305.6V312.5M229.3 305.9V312.7M230.9 306.2V312.9M232.6 306.5V313.1M234.2 306.7V313.5M235.9 306.9V313.7M237.5 307.2V313.9M239.2 307.4V314.2M240.8 307.7V314.3M242.5 308.1V314.4M244.1 308.3V314.7M245.8 308.3V315.2M247.4 308.6V315.3M249.1 308.7V315.7M250.7 309V315.7M252.3 309.1V316M254 309.3V316.3M255.6 309.5V316.4M257.3 309.9V316.4M258.9 310.1V316.7M260.6 310.2V316.9M262.2 310.5V317M263.9 310.5V317.3M265.5 310.7V317.5M267.2 311V317.5M268.8 310.8V317.9M270.5 311.2V317.8M272.1 311.3V317.9M273.8 311.4V318M275.4 311.5V318M277.1 311.4V318.2M278.7 311.6V318.2M280.4 311.4V318.5M282 311.6V318.4M283.7 311.7V318.5M285.3 311.8V318.4M286.9 312V318.4M288.6 311.9V318.6M290.2 312.1V318.5M291.9 311.9V318.8M293.5 312.1V318.7M295.2 311.9V319M296.8 312.1V318.9M298.5 312.1V318.9M300.1 312.2V318.9M301.8 312.3V319M303.4 312.3V319M305.1 312.3V319.1M306.7 312.5V319M308.4 312.4V319.1M310 312.2V319.4M311.7 312.5V319.1M313.3 312.6V319.1M315 312.7V319.1M316.6 312.8V319M318.2 312.5V319.4M319.9 312.6V319.3M321.5 312.6V319.3M323.2 312.5V319.5M324.8 312.4V319.6M326.5 312.8V319.2M328.1 312.6V319.5M329.8 312.7V319.4M331.4 312.8V319.4M333.1 312.8V319.5M334.7 312.8V319.4M336.4 312.7V319.6M338 312.8V319.5M339.7 312.9V319.5M341.3 312.8V319.6M343 312.8V319.6M344.6 312.9V319.6M346.3 312.9V319.6M347.9 312.8V319.7M349.6 312.9V319.6M351.2 313V319.6M352.8 313.1V319.5M354.5 313.1V319.6M356.1 313.2V319.5M357.8 313.1V319.6M359.4 313.1V319.7M361.1 313.3V319.4M362.7 313.1V319.7M364.4 313.1V319.7M366 313.1V319.7M367.7 313.3V319.6M369.3 313V319.8M371 313.3V319.6M372.6 313.4V319.6M374.3 313.3V319.6M375.9 313.2V319.7M377.6 313.1V319.9M379.2 313.1V319.9M380.9 313.3V319.8M382.5 313.4V319.6M384.1 313.4V319.7M385.8 313.4V319.7M387.4 313.3V319.8M389.1 313.5V319.6M390.7 313.3V319.8M392.4 313.3V319.9M394 313.4V319.8M395.7 313.3V319.9M397.3 313.5V319.7M399 313.6V319.7M400.6 313.5V319.8M402.3 313.3V320M403.9 313.3V320M405.6 313.5V319.8M407.2 313.3V320M408.9 313.5V319.9M410.5 313.3V320.1M412.2 313.5V320M413.8 313.6V319.9M415.5 313.5V320M417.1 313.6V319.9M418.7 313.7V319.9M420.4 313.7V319.8M422 313.6V320M423.7 313.6V320M425.3 313.6V320M427 313.7V320M428.6 313.5V320.2M430.3 313.7V320M431.9 313.8V319.9M433.6 313.6V320.2M435.2 313.5V320.2M436.9 313.7V320.1M438.5 313.9V319.9M440.2 313.8V320M441.8 313.7V320.1M443.5 313.8V320.1M445.1 313.6V320.3M446.8 313.9V319.9M448.4 313.7V320.2M450 313.9V320M451.7 313.7V320.3M453.3 313.9V320.1M455 313.7V320.2M456.6 313.9V320.1M458.3 314V320M459.9 314V320M461.6 314V320.1M463.2 314V320.1M464.9 313.8V320.3M466.5 313.8V320.3M468.2 313.9V320.2M469.8 314.1V320.1M471.5 314V320.2M473.1 314.1V320.1M474.8 313.9V320.4M476.4 314V320.2M478.1 314V320.3M479.7 314.1V320.2M481.4 314.3V320M483 314.2V320.1M484.6 314.2V320.1M486.3 314.1V320.3M487.9 314.1V320.3M489.6 314.2V320.2M491.2 314.2V320.2M492.9 314V320.4M494.5 314.3V320.2M496.2 314.3V320.2M497.8 314.2V320.2M499.5 314.3V320.2M501.1 314.3V320.2M502.8 314.2V320.3M504.4 314V320.5M506.1 314.4V320.1M507.7 314.3V320.3" stroke="#f66af4" stroke-width="1.0" stroke-opacity="0.55" fill="none"/>
<path d="M86.6 333.8l2.6 -4.6l2.6 4.6zM88.3 332.4l2.6 -4.6l2.6 4.6zM89.9 330.5l2.6 -4.6l2.6 4.6zM91.6 328.2l2.6 -4.6l2.6 4.6zM93.2 325.9l2.6 -4.6l2.6 4.6zM94.9 323.1l2.6 -4.6l2.6 4.6zM96.5 320.7l2.6 -4.6l2.6 4.6zM98.2 318.3l2.6 -4.6l2.6 4.6zM99.8 313.9l2.6 -4.6l2.6 4.6zM101.5 312.1l2.6 -4.6l2.6 4.6zM103.1 308.8l2.6 -4.6l2.6 4.6zM104.8 305.1l2.6 -4.6l2.6 4.6zM106.4 303.9l2.6 -4.6l2.6 4.6zM108.1 302.2l2.6 -4.6l2.6 4.6zM109.7 298.9l2.6 -4.6l2.6 4.6zM111.4 297.4l2.6 -4.6l2.6 4.6zM113 295.3l2.6 -4.6l2.6 4.6zM114.7 294l2.6 -4.6l2.6 4.6zM116.3 293.2l2.6 -4.6l2.6 4.6zM118 292.9l2.6 -4.6l2.6 4.6zM119.6 293.3l2.6 -4.6l2.6 4.6zM121.2 292.1l2.6 -4.6l2.6 4.6zM122.9 291.4l2.6 -4.6l2.6 4.6zM124.5 291.6l2.6 -4.6l2.6 4.6zM126.2 292.7l2.6 -4.6l2.6 4.6zM127.8 292.9l2.6 -4.6l2.6 4.6zM129.5 293.7l2.6 -4.6l2.6 4.6zM131.1 293.7l2.6 -4.6l2.6 4.6zM132.8 294l2.6 -4.6l2.6 4.6zM134.4 295.1l2.6 -4.6l2.6 4.6zM136.1 295.3l2.6 -4.6l2.6 4.6zM137.7 296.2l2.6 -4.6l2.6 4.6zM139.4 296.9l2.6 -4.6l2.6 4.6zM141 297l2.6 -4.6l2.6 4.6zM142.7 297.1l2.6 -4.6l2.6 4.6zM144.3 297.5l2.6 -4.6l2.6 4.6zM146 298.3l2.6 -4.6l2.6 4.6zM147.6 298.6l2.6 -4.6l2.6 4.6zM149.3 299.1l2.6 -4.6l2.6 4.6zM150.9 300.2l2.6 -4.6l2.6 4.6zM152.5 300.7l2.6 -4.6l2.6 4.6zM154.2 301.2l2.6 -4.6l2.6 4.6zM155.8 302.1l2.6 -4.6l2.6 4.6zM157.5 301.7l2.6 -4.6l2.6 4.6zM159.1 302.1l2.6 -4.6l2.6 4.6zM160.8 302.7l2.6 -4.6l2.6 4.6zM162.4 302.4l2.6 -4.6l2.6 4.6zM164.1 302.8l2.6 -4.6l2.6 4.6zM165.7 303.4l2.6 -4.6l2.6 4.6zM167.4 302.8l2.6 -4.6l2.6 4.6zM169 303.8l2.6 -4.6l2.6 4.6zM170.7 304.7l2.6 -4.6l2.6 4.6zM172.3 304.6l2.6 -4.6l2.6 4.6zM174 304.9l2.6 -4.6l2.6 4.6zM175.6 304.1l2.6 -4.6l2.6 4.6zM177.3 305.3l2.6 -4.6l2.6 4.6zM178.9 305.4l2.6 -4.6l2.6 4.6zM180.6 305.2l2.6 -4.6l2.6 4.6zM182.2 305.4l2.6 -4.6l2.6 4.6zM183.8 305.4l2.6 -4.6l2.6 4.6zM185.5 305.5l2.6 -4.6l2.6 4.6zM187.1 305.6l2.6 -4.6l2.6 4.6zM188.8 305.5l2.6 -4.6l2.6 4.6zM190.4 306.2l2.6 -4.6l2.6 4.6zM192.1 305.7l2.6 -4.6l2.6 4.6zM193.7 306.9l2.6 -4.6l2.6 4.6zM195.4 305.9l2.6 -4.6l2.6 4.6zM197 307.2l2.6 -4.6l2.6 4.6zM198.7 306.8l2.6 -4.6l2.6 4.6zM200.3 307.2l2.6 -4.6l2.6 4.6zM202 307.5l2.6 -4.6l2.6 4.6zM203.6 307.8l2.6 -4.6l2.6 4.6zM205.3 307.9l2.6 -4.6l2.6 4.6zM206.9 307.7l2.6 -4.6l2.6 4.6zM208.6 308.2l2.6 -4.6l2.6 4.6zM210.2 308.2l2.6 -4.6l2.6 4.6zM211.9 308.2l2.6 -4.6l2.6 4.6zM213.5 309.1l2.6 -4.6l2.6 4.6zM215.2 309.4l2.6 -4.6l2.6 4.6zM216.8 309.9l2.6 -4.6l2.6 4.6zM218.4 311.2l2.6 -4.6l2.6 4.6zM220.1 310.2l2.6 -4.6l2.6 4.6zM221.7 311.2l2.6 -4.6l2.6 4.6zM223.4 311.1l2.6 -4.6l2.6 4.6zM225 311.1l2.6 -4.6l2.6 4.6zM226.7 311.9l2.6 -4.6l2.6 4.6zM228.3 312.5l2.6 -4.6l2.6 4.6zM230 312.2l2.6 -4.6l2.6 4.6zM231.6 312l2.6 -4.6l2.6 4.6zM233.3 312.8l2.6 -4.6l2.6 4.6zM234.9 312.9l2.6 -4.6l2.6 4.6zM236.6 312.9l2.6 -4.6l2.6 4.6zM238.2 313.5l2.6 -4.6l2.6 4.6zM239.9 313.7l2.6 -4.6l2.6 4.6zM241.5 313l2.6 -4.6l2.6 4.6zM243.2 314.2l2.6 -4.6l2.6 4.6zM244.8 314.6l2.6 -4.6l2.6 4.6zM246.5 315.4l2.6 -4.6l2.6 4.6zM248.1 314.4l2.6 -4.6l2.6 4.6zM249.8 315.1l2.6 -4.6l2.6 4.6zM251.4 314.9l2.6 -4.6l2.6 4.6zM253 315.6l2.6 -4.6l2.6 4.6zM254.7 315.2l2.6 -4.6l2.6 4.6zM256.3 315.7l2.6 -4.6l2.6 4.6zM258 316l2.6 -4.6l2.6 4.6zM259.6 316.4l2.6 -4.6l2.6 4.6zM261.3 315.7l2.6 -4.6l2.6 4.6zM262.9 316.9l2.6 -4.6l2.6 4.6zM264.6 317.3l2.6 -4.6l2.6 4.6zM266.2 316.3l2.6 -4.6l2.6 4.6zM267.9 317l2.6 -4.6l2.6 4.6zM269.5 317l2.6 -4.6l2.6 4.6zM271.2 317.3l2.6 -4.6l2.6 4.6zM272.8 316.8l2.6 -4.6l2.6 4.6zM274.5 317.5l2.6 -4.6l2.6 4.6zM276.1 317.5l2.6 -4.6l2.6 4.6zM277.8 317.3l2.6 -4.6l2.6 4.6zM279.4 317.6l2.6 -4.6l2.6 4.6zM281.1 317.3l2.6 -4.6l2.6 4.6zM282.7 317.8l2.6 -4.6l2.6 4.6zM284.3 317.5l2.6 -4.6l2.6 4.6zM286 318.2l2.6 -4.6l2.6 4.6zM287.6 317.2l2.6 -4.6l2.6 4.6zM289.3 317l2.6 -4.6l2.6 4.6zM290.9 317.8l2.6 -4.6l2.6 4.6zM292.6 318.1l2.6 -4.6l2.6 4.6zM294.2 317.5l2.6 -4.6l2.6 4.6zM295.9 317.5l2.6 -4.6l2.6 4.6zM297.5 318l2.6 -4.6l2.6 4.6zM299.2 317.6l2.6 -4.6l2.6 4.6zM300.8 317.7l2.6 -4.6l2.6 4.6zM302.5 318.3l2.6 -4.6l2.6 4.6zM304.1 318.4l2.6 -4.6l2.6 4.6zM305.8 318.8l2.6 -4.6l2.6 4.6zM307.4 317.1l2.6 -4.6l2.6 4.6zM309.1 318.6l2.6 -4.6l2.6 4.6zM310.7 317.6l2.6 -4.6l2.6 4.6zM312.4 317.9l2.6 -4.6l2.6 4.6zM314 318.3l2.6 -4.6l2.6 4.6zM315.6 317.8l2.6 -4.6l2.6 4.6zM317.3 318.5l2.6 -4.6l2.6 4.6zM318.9 318l2.6 -4.6l2.6 4.6zM320.6 318.1l2.6 -4.6l2.6 4.6zM322.2 318.2l2.6 -4.6l2.6 4.6zM323.9 318.5l2.6 -4.6l2.6 4.6zM325.5 318.7l2.6 -4.6l2.6 4.6zM327.2 318.5l2.6 -4.6l2.6 4.6zM328.8 318.5l2.6 -4.6l2.6 4.6zM330.5 318.8l2.6 -4.6l2.6 4.6zM332.1 318.8l2.6 -4.6l2.6 4.6zM333.8 319.3l2.6 -4.6l2.6 4.6zM335.4 319.2l2.6 -4.6l2.6 4.6zM337.1 318.2l2.6 -4.6l2.6 4.6zM338.7 318.5l2.6 -4.6l2.6 4.6zM340.4 317.8l2.6 -4.6l2.6 4.6zM342 318l2.6 -4.6l2.6 4.6zM343.7 319.1l2.6 -4.6l2.6 4.6zM345.3 318.5l2.6 -4.6l2.6 4.6zM347 318.5l2.6 -4.6l2.6 4.6zM348.6 318.4l2.6 -4.6l2.6 4.6zM350.2 318.4l2.6 -4.6l2.6 4.6zM351.9 318.5l2.6 -4.6l2.6 4.6zM353.5 318.3l2.6 -4.6l2.6 4.6zM355.2 318.1l2.6 -4.6l2.6 4.6zM356.8 318.3l2.6 -4.6l2.6 4.6zM358.5 318.6l2.6 -4.6l2.6 4.6zM360.1 318.7l2.6 -4.6l2.6 4.6zM361.8 319.3l2.6 -4.6l2.6 4.6zM363.4 318.5l2.6 -4.6l2.6 4.6zM365.1 318.8l2.6 -4.6l2.6 4.6zM366.7 318.2l2.6 -4.6l2.6 4.6zM368.4 318l2.6 -4.6l2.6 4.6zM370 319.1l2.6 -4.6l2.6 4.6zM371.7 318l2.6 -4.6l2.6 4.6zM373.3 318.3l2.6 -4.6l2.6 4.6zM375 318.2l2.6 -4.6l2.6 4.6zM376.6 319.5l2.6 -4.6l2.6 4.6zM378.3 318.4l2.6 -4.6l2.6 4.6zM379.9 317.9l2.6 -4.6l2.6 4.6zM381.5 318.9l2.6 -4.6l2.6 4.6zM383.2 319l2.6 -4.6l2.6 4.6zM384.8 319.1l2.6 -4.6l2.6 4.6zM386.5 319.1l2.6 -4.6l2.6 4.6zM388.1 317.8l2.6 -4.6l2.6 4.6zM389.8 319l2.6 -4.6l2.6 4.6zM391.4 319.3l2.6 -4.6l2.6 4.6zM393.1 319.7l2.6 -4.6l2.6 4.6zM394.7 318.5l2.6 -4.6l2.6 4.6zM396.4 319.1l2.6 -4.6l2.6 4.6zM398 318.6l2.6 -4.6l2.6 4.6zM399.7 319.3l2.6 -4.6l2.6 4.6zM401.3 319l2.6 -4.6l2.6 4.6zM403 319.2l2.6 -4.6l2.6 4.6zM404.6 318.6l2.6 -4.6l2.6 4.6zM406.3 318.7l2.6 -4.6l2.6 4.6zM407.9 318.6l2.6 -4.6l2.6 4.6zM409.6 318.5l2.6 -4.6l2.6 4.6zM411.2 319.3l2.6 -4.6l2.6 4.6zM412.9 318.9l2.6 -4.6l2.6 4.6zM414.5 318.3l2.6 -4.6l2.6 4.6zM416.1 318.7l2.6 -4.6l2.6 4.6zM417.8 318.6l2.6 -4.6l2.6 4.6zM419.4 319.1l2.6 -4.6l2.6 4.6zM421.1 318.8l2.6 -4.6l2.6 4.6zM422.7 319l2.6 -4.6l2.6 4.6zM424.4 318.8l2.6 -4.6l2.6 4.6zM426 318.9l2.6 -4.6l2.6 4.6zM427.7 319.5l2.6 -4.6l2.6 4.6zM429.3 319.3l2.6 -4.6l2.6 4.6zM431 319.3l2.6 -4.6l2.6 4.6zM432.6 319.3l2.6 -4.6l2.6 4.6zM434.3 319.6l2.6 -4.6l2.6 4.6zM435.9 319.4l2.6 -4.6l2.6 4.6zM437.6 319.3l2.6 -4.6l2.6 4.6zM439.2 318.4l2.6 -4.6l2.6 4.6zM440.9 319.1l2.6 -4.6l2.6 4.6zM442.5 319.9l2.6 -4.6l2.6 4.6zM444.2 319.2l2.6 -4.6l2.6 4.6zM445.8 319.1l2.6 -4.6l2.6 4.6zM447.4 319.3l2.6 -4.6l2.6 4.6zM449.1 320.5l2.6 -4.6l2.6 4.6zM450.7 319.6l2.6 -4.6l2.6 4.6zM452.4 319.2l2.6 -4.6l2.6 4.6zM454 318.8l2.6 -4.6l2.6 4.6zM455.7 318.8l2.6 -4.6l2.6 4.6zM457.3 319.6l2.6 -4.6l2.6 4.6zM459 319.5l2.6 -4.6l2.6 4.6zM460.6 319.3l2.6 -4.6l2.6 4.6zM462.3 319.2l2.6 -4.6l2.6 4.6zM463.9 318.9l2.6 -4.6l2.6 4.6zM465.6 320.4l2.6 -4.6l2.6 4.6zM467.2 319.5l2.6 -4.6l2.6 4.6zM468.9 319.4l2.6 -4.6l2.6 4.6zM470.5 319.7l2.6 -4.6l2.6 4.6zM472.2 319.5l2.6 -4.6l2.6 4.6zM473.8 319.8l2.6 -4.6l2.6 4.6zM475.5 319.6l2.6 -4.6l2.6 4.6zM477.1 319.4l2.6 -4.6l2.6 4.6zM478.8 319.4l2.6 -4.6l2.6 4.6zM480.4 318.9l2.6 -4.6l2.6 4.6zM482 319.6l2.6 -4.6l2.6 4.6zM483.7 320l2.6 -4.6l2.6 4.6zM485.3 319.1l2.6 -4.6l2.6 4.6zM487 319.5l2.6 -4.6l2.6 4.6zM488.6 319.1l2.6 -4.6l2.6 4.6zM490.3 319.4l2.6 -4.6l2.6 4.6zM491.9 319.2l2.6 -4.6l2.6 4.6zM493.6 320.1l2.6 -4.6l2.6 4.6zM495.2 319.6l2.6 -4.6l2.6 4.6zM496.9 318.9l2.6 -4.6l2.6 4.6zM498.5 319.6l2.6 -4.6l2.6 4.6zM500.2 319.7l2.6 -4.6l2.6 4.6zM501.8 319.5l2.6 -4.6l2.6 4.6zM503.5 320l2.6 -4.6l2.6 4.6zM505.1 319.6l2.6 -4.6l2.6 4.6z" fill="#fa28f8"/>
<path d="M89.2 330.5V331.5M90.9 327.1V329.4M92.5 322.1V325.8M94.2 315.9V321.3M95.8 308.5V316M97.5 298.4V307.7M99.1 286.5V298.5M100.8 274.3V290.1M102.4 262.2V279.7M104.1 247.2V268.2M105.7 234.7V257.7M107.4 221.6V248.4M109 211.1V239.9M110.7 195.8V230.7M112.3 185V226M114 174.9V221.6M115.6 164V213.3M117.3 156.9V209.2M118.9 151.1V205.7M120.5 148.1V203.7M122.2 143.2V201.4M123.8 140V201.3M125.5 139.8V199.2M127.1 137.4V200.9M128.8 139.2V198.5M130.4 139.7V197.3M132.1 138.6V197.7M133.7 140.4V198M135.4 141.7V199.7M137 140.7V203.8M138.7 143.5V203.5M140.3 145.2V205.8M142 145.9V208.2M143.6 147.2V209.4M145.3 150.4V208.6M146.9 150.1V211.7M148.6 152.9V212.1M150.2 155.4V213.1M151.9 157.1V215M153.5 161.2V214.6M155.1 162.8V216.6M156.8 164.4V218.8M158.4 165.9V221M160.1 168.9V221.6M161.7 170.6V223.5M163.4 171.6V226.2M165 173.2V228.2M166.7 175.9V229.4M168.3 177.5V231.7M170 181.2V232.1M171.6 183.2V234.1M173.3 184.6V236.7M174.9 187.1V238M176.6 189.1V239.8M178.2 188.8V243.7M179.9 192.1V243.9M181.5 194.2V244.9M183.2 194.2V247.9M184.8 194.2V250.7M186.4 197.1V250.7M188.1 197.4V253.5M189.7 200.4V253.5M191.4 202V255.1M193 203.8V256.6M194.7 204.9V258.8M196.3 204.8V262.4M198 209.6V261.5M199.6 209.1V266.2M201.3 213.6V265.7M202.9 214.6V268.1M204.6 215V270.4M206.2 216.5V271.4M207.9 218V272.1M209.5 220.8V271.3M211.2 220V274.1M212.8 222.6V273.6M214.5 220.6V277.7M216.1 224.7V276M217.8 226V277.1M219.4 228.9V276.8M221 229.9V278.1M222.7 232.3V278.3M224.3 231.9V280.9M226 234.3V280.7M227.6 235V282.2M229.3 237.4V282M230.9 238.5V282.9M232.6 238.4V285M234.2 241.4V283.8M235.9 243.1V283.8M237.5 242.5V286M239.2 244.7V285.4M240.8 245.1V286.4M242.5 245.1V287.9M244.1 247.2V287.1M245.8 246.8V288.8M247.4 248.7V288.2M249.1 247.7V290.1M250.7 248.4V290.4M252.3 250V289.5M254 250.2V290M255.6 251V289.9M257.3 250.6V291M258.9 250.2V292M260.6 252.3V290.4M262.2 250.9V292.4M263.9 252.7V291.1M265.5 252.6V291.6M267.2 253.5V291.2M268.8 251V294.2M270.5 252.6V293M272.1 252.7V293.3M273.8 253.5V292.9M275.4 252.4V294.3M277.1 254.9V292.3M278.7 253.5V294M280.4 252.1V295.8M282 254.1V294.1M283.7 254V294.6M285.3 253.7V295.2M286.9 254.8V294.3M288.6 254.4V295.1M290.2 253.8V295.9M291.9 254.5V295.6M293.5 254.5V295.8M295.2 255.1V295.5M296.8 254.8V296.1M298.5 255.1V296.1M300.1 254.2V297.2M301.8 254.8V296.8M303.4 255.6V296.3M305.1 257.3V294.8M306.7 255.1V297.3M308.4 255.2V297.4M310 256.4V296.3M311.7 257.3V295.7M313.3 256.8V296.4M315 255.4V298M316.6 256.9V296.7M318.2 256.6V297.3M319.9 256.2V297.9M321.5 255.5V298.7M323.2 256.5V297.9M324.8 256.7V297.9M326.5 257.1V297.7M328.1 255.6V299.4M329.8 256.1V299.1M331.4 257V298.3M333.1 258.1V297.5M334.7 257.7V298M336.4 256.8V299.1M338 257.9V298.3M339.7 256.8V299.5M341.3 257.3V299.2M343 257.4V299.3M344.6 257.2V299.6M346.3 257.4V299.6M347.9 258.5V298.7M349.6 258.2V299.2M351.2 256.4V301.2M352.8 259.1V298.8M354.5 258.6V299.4M356.1 257.6V300.6M357.8 258.6V299.8M359.4 259.2V299.5M361.1 259.7V299.2M362.7 258.4V300.7M364.4 258.2V301.1M366 258V301.5M367.7 259.1V300.6M369.3 258.5V301.5M371 260.1V300.1M372.6 259.3V301M374.3 260.1V300.5M375.9 259.6V301.3M377.6 259.2V301.8M379.2 259.1V302.1M380.9 260.7V300.7M382.5 259.2V302.5M384.1 260.6V301.3M385.8 261.1V301M387.4 260.6V301.8M389.1 261.6V300.9M390.7 260.6V302.1M392.4 260.5V302.4M394 261V302.1M395.7 260.6V302.8M397.3 261.3V302.3M399 261.1V302.6M400.6 262.3V301.6M402.3 261.3V302.8M403.9 262V302.3M405.6 261.8V302.6M407.2 261.7V303M408.9 261.6V303.3M410.5 263V302M412.2 263V302.2M413.8 262.2V303.2M415.5 261.7V303.8M417.1 261.8V303.8M418.7 261.5V304.3M420.4 261.3V304.7M422 262V304.1M423.7 262.4V303.8M425.3 263.2V303.2M427 263.3V303.3M428.6 263V303.7M430.3 262.5V304.3M431.9 262.6V304.4M433.6 262.9V304.3M435.2 263.1V304.2M436.9 262.6V304.9M438.5 262.9V304.6M440.2 263V304.8M441.8 263V304.9M443.5 263.7V304.3M445.1 264.1V304M446.8 263.1V305.2M448.4 263.2V305.2M450 263.8V304.8M451.7 264V304.7M453.3 262.1V306.7M455 264.4V304.6M456.6 264.1V305M458.3 263.8V305.5M459.9 264.9V304.5M461.6 264V305.5M463.2 262.9V306.7M464.9 263.6V306.2M466.5 263.9V306M468.2 264V306M469.8 264.4V305.7M471.5 263.8V306.4M473.1 264.7V305.7M474.8 265V305.5M476.4 264.6V305.9M478.1 264.1V306.6M479.7 264.6V306.2M481.4 264.4V306.5M483 266.4V304.6M484.6 264.2V307M486.3 263.4V307.8M487.9 264.2V307.1M489.6 265.4V306M491.2 265.9V305.7M492.9 265.1V306.5M494.5 266.1V305.6M496.2 264.9V306.9M497.8 265.9V306.1M499.5 264.9V307.2M501.1 264.6V307.5M502.8 267.1V305.1M504.4 265.5V306.8M506.1 266.3V306.1M507.7 266.8V305.6" stroke="#f66af4" stroke-width="1.0" stroke-opacity="0.55" fill="none"/>
<path d="M84.3 335.4l4.9 -8.6l4.9 8.6zM86 333.2l4.9 -8.6l4.9 8.6zM87.6 327.4l4.9 -8.6l4.9 8.6zM89.3 322.6l4.9 -8.6l4.9 8.6zM90.9 317l4.9 -8.6l4.9 8.6zM92.6 307.1l4.9 -8.6l4.9 8.6zM94.2 295.6l4.9 -8.6l4.9 8.6zM95.9 286l4.9 -8.6l4.9 8.6zM97.5 275.1l4.9 -8.6l4.9 8.6zM99.2 262.8l4.9 -8.6l4.9 8.6zM100.8 250.6l4.9 -8.6l4.9 8.6zM102.5 238.8l4.9 -8.6l4.9 8.6zM104.1 228.4l4.9 -8.6l4.9 8.6zM105.8 217.6l4.9 -8.6l4.9 8.6zM107.4 209.5l4.9 -8.6l4.9 8.6zM109.1 202l4.9 -8.6l4.9 8.6zM110.7 192.1l4.9 -8.6l4.9 8.6zM112.4 186.4l4.9 -8.6l4.9 8.6zM114 182.9l4.9 -8.6l4.9 8.6zM115.6 179.9l4.9 -8.6l4.9 8.6zM117.3 175.4l4.9 -8.6l4.9 8.6zM118.9 174l4.9 -8.6l4.9 8.6zM120.6 174.8l4.9 -8.6l4.9 8.6zM122.2 173.1l4.9 -8.6l4.9 8.6zM123.9 172.4l4.9 -8.6l4.9 8.6zM125.5 170.6l4.9 -8.6l4.9 8.6zM127.2 171.5l4.9 -8.6l4.9 8.6zM128.8 172.6l4.9 -8.6l4.9 8.6zM130.5 175.2l4.9 -8.6l4.9 8.6zM132.1 175.5l4.9 -8.6l4.9 8.6zM133.8 179.9l4.9 -8.6l4.9 8.6zM135.4 180.2l4.9 -8.6l4.9 8.6zM137.1 181.6l4.9 -8.6l4.9 8.6zM138.7 182.8l4.9 -8.6l4.9 8.6zM140.4 182.9l4.9 -8.6l4.9 8.6zM142 185.7l4.9 -8.6l4.9 8.6zM143.7 186.1l4.9 -8.6l4.9 8.6zM145.3 188.7l4.9 -8.6l4.9 8.6zM147 193.3l4.9 -8.6l4.9 8.6zM148.6 193.8l4.9 -8.6l4.9 8.6zM150.2 194l4.9 -8.6l4.9 8.6zM151.9 195.6l4.9 -8.6l4.9 8.6zM153.5 198.7l4.9 -8.6l4.9 8.6zM155.2 199.9l4.9 -8.6l4.9 8.6zM156.8 203.7l4.9 -8.6l4.9 8.6zM158.5 201.7l4.9 -8.6l4.9 8.6zM160.1 205.8l4.9 -8.6l4.9 8.6zM161.8 205.7l4.9 -8.6l4.9 8.6zM163.4 209.4l4.9 -8.6l4.9 8.6zM165.1 210.3l4.9 -8.6l4.9 8.6zM166.7 211.9l4.9 -8.6l4.9 8.6zM168.4 216l4.9 -8.6l4.9 8.6zM170 215.1l4.9 -8.6l4.9 8.6zM171.7 217.6l4.9 -8.6l4.9 8.6zM173.3 221.1l4.9 -8.6l4.9 8.6zM175 222.7l4.9 -8.6l4.9 8.6zM176.6 223.2l4.9 -8.6l4.9 8.6zM178.3 226.3l4.9 -8.6l4.9 8.6zM179.9 227.8l4.9 -8.6l4.9 8.6zM181.5 228.4l4.9 -8.6l4.9 8.6zM183.2 230.7l4.9 -8.6l4.9 8.6zM184.8 230.6l4.9 -8.6l4.9 8.6zM186.5 232.2l4.9 -8.6l4.9 8.6zM188.1 235.4l4.9 -8.6l4.9 8.6zM189.8 235.4l4.9 -8.6l4.9 8.6zM191.4 238l4.9 -8.6l4.9 8.6zM193.1 241.8l4.9 -8.6l4.9 8.6zM194.7 242.1l4.9 -8.6l4.9 8.6zM196.4 243.6l4.9 -8.6l4.9 8.6zM198 245.3l4.9 -8.6l4.9 8.6zM199.7 247.1l4.9 -8.6l4.9 8.6zM201.3 249.1l4.9 -8.6l4.9 8.6zM203 249l4.9 -8.6l4.9 8.6zM204.6 250.7l4.9 -8.6l4.9 8.6zM206.3 251.9l4.9 -8.6l4.9 8.6zM207.9 251.8l4.9 -8.6l4.9 8.6zM209.6 255.3l4.9 -8.6l4.9 8.6zM211.2 255.8l4.9 -8.6l4.9 8.6zM212.9 256.6l4.9 -8.6l4.9 8.6zM214.5 257.5l4.9 -8.6l4.9 8.6zM216.1 257.7l4.9 -8.6l4.9 8.6zM217.8 259.7l4.9 -8.6l4.9 8.6zM219.4 262.1l4.9 -8.6l4.9 8.6zM221.1 263l4.9 -8.6l4.9 8.6zM222.7 263l4.9 -8.6l4.9 8.6zM224.4 265l4.9 -8.6l4.9 8.6zM226 265.1l4.9 -8.6l4.9 8.6zM227.7 265.9l4.9 -8.6l4.9 8.6zM229.3 267.7l4.9 -8.6l4.9 8.6zM231 268.1l4.9 -8.6l4.9 8.6zM232.6 267.7l4.9 -8.6l4.9 8.6zM234.3 269.6l4.9 -8.6l4.9 8.6zM235.9 269.7l4.9 -8.6l4.9 8.6zM237.6 271.7l4.9 -8.6l4.9 8.6zM239.2 271.1l4.9 -8.6l4.9 8.6zM240.9 272.2l4.9 -8.6l4.9 8.6zM242.5 271.8l4.9 -8.6l4.9 8.6zM244.2 273.9l4.9 -8.6l4.9 8.6zM245.8 273.4l4.9 -8.6l4.9 8.6zM247.4 274.5l4.9 -8.6l4.9 8.6zM249.1 275.4l4.9 -8.6l4.9 8.6zM250.7 275l4.9 -8.6l4.9 8.6zM252.4 275.3l4.9 -8.6l4.9 8.6zM254 276l4.9 -8.6l4.9 8.6zM255.7 275.9l4.9 -8.6l4.9 8.6zM257.3 276l4.9 -8.6l4.9 8.6zM259 276.7l4.9 -8.6l4.9 8.6zM260.6 277.4l4.9 -8.6l4.9 8.6zM262.3 276.7l4.9 -8.6l4.9 8.6zM263.9 276.9l4.9 -8.6l4.9 8.6zM265.6 276.7l4.9 -8.6l4.9 8.6zM267.2 276.8l4.9 -8.6l4.9 8.6zM268.9 277.7l4.9 -8.6l4.9 8.6zM270.5 277.8l4.9 -8.6l4.9 8.6zM272.2 277.3l4.9 -8.6l4.9 8.6zM273.8 277.9l4.9 -8.6l4.9 8.6zM275.5 278.8l4.9 -8.6l4.9 8.6zM277.1 278.1l4.9 -8.6l4.9 8.6zM278.8 278.9l4.9 -8.6l4.9 8.6zM280.4 278.7l4.9 -8.6l4.9 8.6zM282 278.3l4.9 -8.6l4.9 8.6zM283.7 278.2l4.9 -8.6l4.9 8.6zM285.3 279.5l4.9 -8.6l4.9 8.6zM287 279.1l4.9 -8.6l4.9 8.6zM288.6 279.6l4.9 -8.6l4.9 8.6zM290.3 279.7l4.9 -8.6l4.9 8.6zM291.9 279.1l4.9 -8.6l4.9 8.6zM293.6 280.4l4.9 -8.6l4.9 8.6zM295.2 281.1l4.9 -8.6l4.9 8.6zM296.9 280.3l4.9 -8.6l4.9 8.6zM298.5 280.4l4.9 -8.6l4.9 8.6zM300.2 280.6l4.9 -8.6l4.9 8.6zM301.8 281.6l4.9 -8.6l4.9 8.6zM303.5 280.4l4.9 -8.6l4.9 8.6zM305.1 280.8l4.9 -8.6l4.9 8.6zM306.8 280.4l4.9 -8.6l4.9 8.6zM308.4 281.2l4.9 -8.6l4.9 8.6zM310.1 280.8l4.9 -8.6l4.9 8.6zM311.7 280.8l4.9 -8.6l4.9 8.6zM313.4 280.7l4.9 -8.6l4.9 8.6zM315 281.3l4.9 -8.6l4.9 8.6zM316.6 281.8l4.9 -8.6l4.9 8.6zM318.3 281.3l4.9 -8.6l4.9 8.6zM319.9 281.1l4.9 -8.6l4.9 8.6zM321.6 282.5l4.9 -8.6l4.9 8.6zM323.2 282.5l4.9 -8.6l4.9 8.6zM324.9 282.9l4.9 -8.6l4.9 8.6zM326.5 282.5l4.9 -8.6l4.9 8.6zM328.2 281.6l4.9 -8.6l4.9 8.6zM329.8 281.4l4.9 -8.6l4.9 8.6zM331.5 282.3l4.9 -8.6l4.9 8.6zM333.1 282.2l4.9 -8.6l4.9 8.6zM334.8 282.1l4.9 -8.6l4.9 8.6zM336.4 282.2l4.9 -8.6l4.9 8.6zM338.1 282.1l4.9 -8.6l4.9 8.6zM339.7 283.3l4.9 -8.6l4.9 8.6zM341.4 283.3l4.9 -8.6l4.9 8.6zM343 282.7l4.9 -8.6l4.9 8.6zM344.7 283.2l4.9 -8.6l4.9 8.6zM346.3 283.7l4.9 -8.6l4.9 8.6zM347.9 283l4.9 -8.6l4.9 8.6zM349.6 284.1l4.9 -8.6l4.9 8.6zM351.2 283.4l4.9 -8.6l4.9 8.6zM352.9 283l4.9 -8.6l4.9 8.6zM354.5 284l4.9 -8.6l4.9 8.6zM356.2 284l4.9 -8.6l4.9 8.6zM357.8 283.5l4.9 -8.6l4.9 8.6zM359.5 284.1l4.9 -8.6l4.9 8.6zM361.1 285.1l4.9 -8.6l4.9 8.6zM362.8 284l4.9 -8.6l4.9 8.6zM364.4 285.3l4.9 -8.6l4.9 8.6zM366.1 283.8l4.9 -8.6l4.9 8.6zM367.7 283.8l4.9 -8.6l4.9 8.6zM369.4 285.3l4.9 -8.6l4.9 8.6zM371 284.4l4.9 -8.6l4.9 8.6zM372.7 284.8l4.9 -8.6l4.9 8.6zM374.3 283.8l4.9 -8.6l4.9 8.6zM376 285.5l4.9 -8.6l4.9 8.6zM377.6 284.7l4.9 -8.6l4.9 8.6zM379.2 284.1l4.9 -8.6l4.9 8.6zM380.9 285.6l4.9 -8.6l4.9 8.6zM382.5 285.4l4.9 -8.6l4.9 8.6zM384.2 284.7l4.9 -8.6l4.9 8.6zM385.8 285.5l4.9 -8.6l4.9 8.6zM387.5 285.5l4.9 -8.6l4.9 8.6zM389.1 285.2l4.9 -8.6l4.9 8.6zM390.8 286.5l4.9 -8.6l4.9 8.6zM392.4 286.5l4.9 -8.6l4.9 8.6zM394.1 286.5l4.9 -8.6l4.9 8.6zM395.7 286.8l4.9 -8.6l4.9 8.6zM397.4 286.9l4.9 -8.6l4.9 8.6zM399 286.8l4.9 -8.6l4.9 8.6zM400.7 285.5l4.9 -8.6l4.9 8.6zM402.3 287l4.9 -8.6l4.9 8.6zM404 287.3l4.9 -8.6l4.9 8.6zM405.6 286.7l4.9 -8.6l4.9 8.6zM407.3 287l4.9 -8.6l4.9 8.6zM408.9 287.8l4.9 -8.6l4.9 8.6zM410.6 287.5l4.9 -8.6l4.9 8.6zM412.2 287.7l4.9 -8.6l4.9 8.6zM413.8 287.4l4.9 -8.6l4.9 8.6zM415.5 286.9l4.9 -8.6l4.9 8.6zM417.1 287.3l4.9 -8.6l4.9 8.6zM418.8 287.9l4.9 -8.6l4.9 8.6zM420.4 287.8l4.9 -8.6l4.9 8.6zM422.1 288.1l4.9 -8.6l4.9 8.6zM423.7 287.6l4.9 -8.6l4.9 8.6zM425.4 288.3l4.9 -8.6l4.9 8.6zM427 287.1l4.9 -8.6l4.9 8.6zM428.7 287.1l4.9 -8.6l4.9 8.6zM430.3 288.5l4.9 -8.6l4.9 8.6zM432 288.2l4.9 -8.6l4.9 8.6zM433.6 288.1l4.9 -8.6l4.9 8.6zM435.3 288.2l4.9 -8.6l4.9 8.6zM436.9 289l4.9 -8.6l4.9 8.6zM438.6 286.9l4.9 -8.6l4.9 8.6zM440.2 287.7l4.9 -8.6l4.9 8.6zM441.9 289l4.9 -8.6l4.9 8.6zM443.5 288.9l4.9 -8.6l4.9 8.6zM445.1 287.8l4.9 -8.6l4.9 8.6zM446.8 288.5l4.9 -8.6l4.9 8.6zM448.4 288.8l4.9 -8.6l4.9 8.6zM450.1 289l4.9 -8.6l4.9 8.6zM451.7 289.3l4.9 -8.6l4.9 8.6zM453.4 288.9l4.9 -8.6l4.9 8.6zM455 288.8l4.9 -8.6l4.9 8.6zM456.7 288.7l4.9 -8.6l4.9 8.6zM458.3 288.7l4.9 -8.6l4.9 8.6zM460 289.6l4.9 -8.6l4.9 8.6zM461.6 290.5l4.9 -8.6l4.9 8.6zM463.3 288.9l4.9 -8.6l4.9 8.6zM464.9 289.5l4.9 -8.6l4.9 8.6zM466.6 290.3l4.9 -8.6l4.9 8.6zM468.2 289.1l4.9 -8.6l4.9 8.6zM469.9 289.5l4.9 -8.6l4.9 8.6zM471.5 289.2l4.9 -8.6l4.9 8.6zM473.2 290.1l4.9 -8.6l4.9 8.6zM474.8 290.2l4.9 -8.6l4.9 8.6zM476.5 289.7l4.9 -8.6l4.9 8.6zM478.1 290.2l4.9 -8.6l4.9 8.6zM479.7 289l4.9 -8.6l4.9 8.6zM481.4 290.7l4.9 -8.6l4.9 8.6zM483 289.4l4.9 -8.6l4.9 8.6zM484.7 289.8l4.9 -8.6l4.9 8.6zM486.3 289.3l4.9 -8.6l4.9 8.6zM488 290.7l4.9 -8.6l4.9 8.6zM489.6 290.7l4.9 -8.6l4.9 8.6zM491.3 290.1l4.9 -8.6l4.9 8.6zM492.9 289.9l4.9 -8.6l4.9 8.6zM494.6 290.9l4.9 -8.6l4.9 8.6zM496.2 290.8l4.9 -8.6l4.9 8.6zM497.9 290l4.9 -8.6l4.9 8.6zM499.5 289.8l4.9 -8.6l4.9 8.6zM501.2 290.4l4.9 -8.6l4.9 8.6zM502.8 291.6l4.9 -8.6l4.9 8.6z" fill="#fa28f8"/>
<path d="M86.1 329.6a3.1 3.1 0 1 0 6.2 0a3.1 3.1 0 1 0 -6.2 0M87.8 327.3a3.1 3.1 0 1 0 6.2 0a3.1 3.1 0 1 0 -6.2 0M89.4 326.7a3.1 3.1 0 1 0 6.2 0a3.1 3.1 0 1 0 -6.2 0M91.1 324.5a3.1 3.1 0 1 0 6.2 0a3.1 3.1 0 1 0 -6.2 0M92.7 324.7a3.1 3.1 0 1 0 6.2 0a3.1 3.1 0 1 0 -6.2 0M94.4 323.7a3.1 3.1 0 1 0 6.2 0a3.1 3.1 0 1 0 -6.2 0M96 323.2a3.1 3.1 0 1 0 6.2 0a3.1 3.1 0 1 0 -6.2 0M97.7 322.2a3.1 3.1 0 1 0 6.2 0a3.1 3.1 0 1 0 -6.2 0M99.3 321.4a3.1 3.1 0 1 0 6.2 0a3.1 3.1 0 1 0 -6.2 0M101 320.7a3.1 3.1 0 1 0 6.2 0a3.1 3.1 0 1 0 -6.2 0M102.6 319.8a3.1 3.1 0 1 0 6.2 0a3.1 3.1 0 1 0 -6.2 0M104.3 319.4a3.1 3.1 0 1 0 6.2 0a3.1 3.1 0 1 0 -6.2 0M105.9 319a3.1 3.1 0 1 0 6.2 0a3.1 3.1 0 1 0 -6.2 0M107.6 317.7a3.1 3.1 0 1 0 6.2 0a3.1 3.1 0 1 0 -6.2 0M109.2 316.9a3.1 3.1 0 1 0 6.2 0a3.1 3.1 0 1 0 -6.2 0M110.9 317.4a3.1 3.1 0 1 0 6.2 0a3.1 3.1 0 1 0 -6.2 0M112.5 316.6a3.1 3.1 0 1 0 6.2 0a3.1 3.1 0 1 0 -6.2 0M114.2 315.6a3.1 3.1 0 1 0 6.2 0a3.1 3.1 0 1 0 -6.2 0M115.8 315.7a3.1 3.1 0 1 0 6.2 0a3.1 3.1 0 1 0 -6.2 0M117.5 314.9a3.1 3.1 0 1 0 6.2 0a3.1 3.1 0 1 0 -6.2 0M119.1 314.3a3.1 3.1 0 1 0 6.2 0a3.1 3.1 0 1 0 -6.2 0M120.7 314a3.1 3.1 0 1 0 6.2 0a3.1 3.1 0 1 0 -6.2 0M122.4 313.5a3.1 3.1 0 1 0 6.2 0a3.1 3.1 0 1 0 -6.2 0M124 312.6a3.1 3.1 0 1 0 6.2 0a3.1 3.1 0 1 0 -6.2 0M125.7 312.3a3.1 3.1 0 1 0 6.2 0a3.1 3.1 0 1 0 -6.2 0M127.3 312.6a3.1 3.1 0 1 0 6.2 0a3.1 3.1 0 1 0 -6.2 0M129 311a3.1 3.1 0 1 0 6.2 0a3.1 3.1 0 1 0 -6.2 0M130.6 311.4a3.1 3.1 0 1 0 6.2 0a3.1 3.1 0 1 0 -6.2 0M132.3 311.3a3.1 3.1 0 1 0 6.2 0a3.1 3.1 0 1 0 -6.2 0M133.9 310.7a3.1 3.1 0 1 0 6.2 0a3.1 3.1 0 1 0 -6.2 0M135.6 310.1a3.1 3.1 0 1 0 6.2 0a3.1 3.1 0 1 0 -6.2 0M137.2 310.1a3.1 3.1 0 1 0 6.2 0a3.1 3.1 0 1 0 -6.2 0M138.9 310.2a3.1 3.1 0 1 0 6.2 0a3.1 3.1 0 1 0 -6.2 0M140.5 308.1a3.1 3.1 0 1 0 6.2 0a3.1 3.1 0 1 0 -6.2 0M142.2 309.6a3.1 3.1 0 1 0 6.2 0a3.1 3.1 0 1 0 -6.2 0M143.8 309.4a3.1 3.1 0 1 0 6.2 0a3.1 3.1 0 1 0 -6.2 0M145.5 310.2a3.1 3.1 0 1 0 6.2 0a3.1 3.1 0 1 0 -6.2 0M147.1 309.9a3.1 3.1 0 1 0 6.2 0a3.1 3.1 0 1 0 -6.2 0M148.8 308.8a3.1 3.1 0 1 0 6.2 0a3.1 3.1 0 1 0 -6.2 0M150.4 309.7a3.1 3.1 0 1 0 6.2 0a3.1 3.1 0 1 0 -6.2 0M152 310.2a3.1 3.1 0 1 0 6.2 0a3.1 3.1 0 1 0 -6.2 0M153.7 309.1a3.1 3.1 0 1 0 6.2 0a3.1 3.1 0 1 0 -6.2 0M155.3 309.3a3.1 3.1 0 1 0 6.2 0a3.1 3.1 0 1 0 -6.2 0M157 309.4a3.1 3.1 0 1 0 6.2 0a3.1 3.1 0 1 0 -6.2 0M158.6 309.7a3.1 3.1 0 1 0 6.2 0a3.1 3.1 0 1 0 -6.2 0M160.3 308.7a3.1 3.1 0 1 0 6.2 0a3.1 3.1 0 1 0 -6.2 0M161.9 309.6a3.1 3.1 0 1 0 6.2 0a3.1 3.1 0 1 0 -6.2 0M163.6 308.5a3.1 3.1 0 1 0 6.2 0a3.1 3.1 0 1 0 -6.2 0M165.2 309.8a3.1 3.1 0 1 0 6.2 0a3.1 3.1 0 1 0 -6.2 0M166.9 308.9a3.1 3.1 0 1 0 6.2 0a3.1 3.1 0 1 0 -6.2 0M168.5 309.3a3.1 3.1 0 1 0 6.2 0a3.1 3.1 0 1 0 -6.2 0M170.2 308.5a3.1 3.1 0 1 0 6.2 0a3.1 3.1 0 1 0 -6.2 0M171.8 309.4a3.1 3.1 0 1 0 6.2 0a3.1 3.1 0 1 0 -6.2 0M173.5 309.1a3.1 3.1 0 1 0 6.2 0a3.1 3.1 0 1 0 -6.2 0M175.1 309.8a3.1 3.1 0 1 0 6.2 0a3.1 3.1 0 1 0 -6.2 0M176.8 309.9a3.1 3.1 0 1 0 6.2 0a3.1 3.1 0 1 0 -6.2 0M178.4 310.1a3.1 3.1 0 1 0 6.2 0a3.1 3.1 0 1 0 -6.2 0M180.1 309.9a3.1 3.1 0 1 0 6.2 0a3.1 3.1 0 1 0 -6.2 0M181.7 309.4a3.1 3.1 0 1 0 6.2 0a3.1 3.1 0 1 0 -6.2 0M183.3 309.4a3.1 3.1 0 1 0 6.2 0a3.1 3.1 0 1 0 -6.2 0M185 309.3a3.1 3.1 0 1 0 6.2 0a3.1 3.1 0 1 0 -6.2 0M186.6 310.5a3.1 3.1 0 1 0 6.2 0a3.1 3.1 0 1 0 -6.2 0M188.3 309a3.1 3.1 0 1 0 6.2 0a3.1 3.1 0 1 0 -6.2 0M189.9 309.4a3.1 3.1 0 1 0 6.2 0a3.1 3.1 0 1 0 -6.2 0M191.6 309.8a3.1 3.1 0 1 0 6.2 0a3.1 3.1 0 1 0 -6.2 0M193.2 309.6a3.1 3.1 0 1 0 6.2 0a3.1 3.1 0 1 0 -6.2 0M194.9 310.1a3.1 3.1 0 1 0 6.2 0a3.1 3.1 0 1 0 -6.2 0M196.5 309.3a3.1 3.1 0 1 0 6.2 0a3.1 3.1 0 1 0 -6.2 0M198.2 309.8a3.1 3.1 0 1 0 6.2 0a3.1 3.1 0 1 0 -6.2 0M199.8 309.8a3.1 3.1 0 1 0 6.2 0a3.1 3.1 0 1 0 -6.2 0M201.5 309.8a3.1 3.1 0 1 0 6.2 0a3.1 3.1 0 1 0 -6.2 0M203.1 310.3a3.1 3.1 0 1 0 6.2 0a3.1 3.1 0 1 0 -6.2 0M204.8 309.4a3.1 3.1 0 1 0 6.2 0a3.1 3.1 0 1 0 -6.2 0M206.4 309.7a3.1 3.1 0 1 0 6.2 0a3.1 3.1 0 1 0 -6.2 0M208.1 309.2a3.1 3.1 0 1 0 6.2 0a3.1 3.1 0 1 0 -6.2 0M209.7 309.7a3.1 3.1 0 1 0 6.2 0a3.1 3.1 0 1 0 -6.2 0M211.4 309.2a3.1 3.1 0 1 0 6.2 0a3.1 3.1 0 1 0 -6.2 0M213 308.8a3.1 3.1 0 1 0 6.2 0a3.1 3.1 0 1 0 -6.2 0M214.7 309.5a3.1 3.1 0 1 0 6.2 0a3.1 3.1 0 1 0 -6.2 0M216.3 309.9a3.1 3.1 0 1 0 6.2 0a3.1 3.1 0 1 0 -6.2 0M217.9 309.1a3.1 3.1 0 1 0 6.2 0a3.1 3.1 0 1 0 -6.2 0M219.6 309.1a3.1 3.1 0 1 0 6.2 0a3.1 3.1 0 1 0 -6.2 0M221.2 309.3a3.1 3.1 0 1 0 6.2 0a3.1 3.1 0 1 0 -6.2 0M222.9 309a3.1 3.1 0 1 0 6.2 0a3.1 3.1 0 1 0 -6.2 0M224.5 309.2a3.1 3.1 0 1 0 6.2 0a3.1 3.1 0 1 0 -6.2 0M226.2 309.3a3.1 3.1 0 1 0 6.2 0a3.1 3.1 0 1 0 -6.2 0M227.8 308.5a3.1 3.1 0 1 0 6.2 0a3.1 3.1 0 1 0 -6.2 0M229.5 309.4a3.1 3.1 0 1 0 6.2 0a3.1 3.1 0 1 0 -6.2 0M231.1 309.2a3.1 3.1 0 1 0 6.2 0a3.1 3.1 0 1 0 -6.2 0M232.8 308.2a3.1 3.1 0 1 0 6.2 0a3.1 3.1 0 1 0 -6.2 0M234.4 309a3.1 3.1 0 1 0 6.2 0a3.1 3.1 0 1 0 -6.2 0M236.1 309.3a3.1 3.1 0 1 0 6.2 0a3.1 3.1 0 1 0 -6.2 0M237.7 309.3a3.1 3.1 0 1 0 6.2 0a3.1 3.1 0 1 0 -6.2 0M239.4 308.6a3.1 3.1 0 1 0 6.2 0a3.1 3.1 0 1 0 -6.2 0M241 308.7a3.1 3.1 0 1 0 6.2 0a3.1 3.1 0 1 0 -6.2 0M242.7 308.4a3.1 3.1 0 1 0 6.2 0a3.1 3.1 0 1 0 -6.2 0M244.3 308.4a3.1 3.1 0 1 0 6.2 0a3.1 3.1 0 1 0 -6.2 0M246 308.4a3.1 3.1 0 1 0 6.2 0a3.1 3.1 0 1 0 -6.2 0M247.6 309.3a3.1 3.1 0 1 0 6.2 0a3.1 3.1 0 1 0 -6.2 0M249.2 308.5a3.1 3.1 0 1 0 6.2 0a3.1 3.1 0 1 0 -6.2 0M250.9 309.4a3.1 3.1 0 1 0 6.2 0a3.1 3.1 0 1 0 -6.2 0M252.5 308.5a3.1 3.1 0 1 0 6.2 0a3.1 3.1 0 1 0 -6.2 0M254.2 309.2a3.1 3.1 0 1 0 6.2 0a3.1 3.1 0 1 0 -6.2 0M255.8 307.9a3.1 3.1 0 1 0 6.2 0a3.1 3.1 0 1 0 -6.2 0M257.5 308.4a3.1 3.1 0 1 0 6.2 0a3.1 3.1 0 1 0 -6.2 0M259.1 308.3a3.1 3.1 0 1 0 6.2 0a3.1 3.1 0 1 0 -6.2 0M260.8 308.7a3.1 3.1 0 1 0 6.2 0a3.1 3.1 0 1 0 -6.2 0M262.4 309.2a3.1 3.1 0 1 0 6.2 0a3.1 3.1 0 1 0 -6.2 0M264.1 308.6a3.1 3.1 0 1 0 6.2 0a3.1 3.1 0 1 0 -6.2 0M265.7 308.6a3.1 3.1 0 1 0 6.2 0a3.1 3.1 0 1 0 -6.2 0M267.4 309.3a3.1 3.1 0 1 0 6.2 0a3.1 3.1 0 1 0 -6.2 0M269 308.5a3.1 3.1 0 1 0 6.2 0a3.1 3.1 0 1 0 -6.2 0M270.7 309a3.1 3.1 0 1 0 6.2 0a3.1 3.1 0 1 0 -6.2 0M272.3 308.7a3.1 3.1 0 1 0 6.2 0a3.1 3.1 0 1 0 -6.2 0M274 308.7a3.1 3.1 0 1 0 6.2 0a3.1 3.1 0 1 0 -6.2 0M275.6 308.3a3.1 3.1 0 1 0 6.2 0a3.1 3.1 0 1 0 -6.2 0M277.3 309.4a3.1 3.1 0 1 0 6.2 0a3.1 3.1 0 1 0 -6.2 0M278.9 308.7a3.1 3.1 0 1 0 6.2 0a3.1 3.1 0 1 0 -6.2 0M280.6 308.5a3.1 3.1 0 1 0 6.2 0a3.1 3.1 0 1 0 -6.2 0M282.2 307.8a3.1 3.1 0 1 0 6.2 0a3.1 3.1 0 1 0 -6.2 0M283.8 308.7a3.1 3.1 0 1 0 6.2 0a3.1 3.1 0 1 0 -6.2 0M285.5 309.1a3.1 3.1 0 1 0 6.2 0a3.1 3.1 0 1 0 -6.2 0M287.1 308.2a3.1 3.1 0 1 0 6.2 0a3.1 3.1 0 1 0 -6.2 0M288.8 308.8a3.1 3.1 0 1 0 6.2 0a3.1 3.1 0 1 0 -6.2 0M290.4 309.1a3.1 3.1 0 1 0 6.2 0a3.1 3.1 0 1 0 -6.2 0M292.1 308.7a3.1 3.1 0 1 0 6.2 0a3.1 3.1 0 1 0 -6.2 0M293.7 308.6a3.1 3.1 0 1 0 6.2 0a3.1 3.1 0 1 0 -6.2 0M295.4 308.9a3.1 3.1 0 1 0 6.2 0a3.1 3.1 0 1 0 -6.2 0M297 307.9a3.1 3.1 0 1 0 6.2 0a3.1 3.1 0 1 0 -6.2 0M298.7 308.2a3.1 3.1 0 1 0 6.2 0a3.1 3.1 0 1 0 -6.2 0M300.3 308a3.1 3.1 0 1 0 6.2 0a3.1 3.1 0 1 0 -6.2 0M302 307.3a3.1 3.1 0 1 0 6.2 0a3.1 3.1 0 1 0 -6.2 0M303.6 308.3a3.1 3.1 0 1 0 6.2 0a3.1 3.1 0 1 0 -6.2 0M305.3 309.8a3.1 3.1 0 1 0 6.2 0a3.1 3.1 0 1 0 -6.2 0M306.9 308.6a3.1 3.1 0 1 0 6.2 0a3.1 3.1 0 1 0 -6.2 0M308.6 308.5a3.1 3.1 0 1 0 6.2 0a3.1 3.1 0 1 0 -6.2 0M310.2 307.6a3.1 3.1 0 1 0 6.2 0a3.1 3.1 0 1 0 -6.2 0M311.9 307.8a3.1 3.1 0 1 0 6.2 0a3.1 3.1 0 1 0 -6.2 0M313.5 307.8a3.1 3.1 0 1 0 6.2 0a3.1 3.1 0 1 0 -6.2 0M315.1 307.9a3.1 3.1 0 1 0 6.2 0a3.1 3.1 0 1 0 -6.2 0M316.8 308.5a3.1 3.1 0 1 0 6.2 0a3.1 3.1 0 1 0 -6.2 0M318.4 308.5a3.1 3.1 0 1 0 6.2 0a3.1 3.1 0 1 0 -6.2 0M320.1 307.8a3.1 3.1 0 1 0 6.2 0a3.1 3.1 0 1 0 -6.2 0M321.7 307.8a3.1 3.1 0 1 0 6.2 0a3.1 3.1 0 1 0 -6.2 0M323.4 308.4a3.1 3.1 0 1 0 6.2 0a3.1 3.1 0 1 0 -6.2 0M325 308.2a3.1 3.1 0 1 0 6.2 0a3.1 3.1 0 1 0 -6.2 0M326.7 307.8a3.1 3.1 0 1 0 6.2 0a3.1 3.1 0 1 0 -6.2 0M328.3 307.8a3.1 3.1 0 1 0 6.2 0a3.1 3.1 0 1 0 -6.2 0M330 308.1a3.1 3.1 0 1 0 6.2 0a3.1 3.1 0 1 0 -6.2 0M331.6 308a3.1 3.1 0 1 0 6.2 0a3.1 3.1 0 1 0 -6.2 0M333.3 307.7a3.1 3.1 0 1 0 6.2 0a3.1 3.1 0 1 0 -6.2 0M334.9 308a3.1 3.1 0 1 0 6.2 0a3.1 3.1 0 1 0 -6.2 0M336.6 307.7a3.1 3.1 0 1 0 6.2 0a3.1 3.1 0 1 0 -6.2 0M338.2 309a3.1 3.1 0 1 0 6.2 0a3.1 3.1 0 1 0 -6.2 0M339.9 308.3a3.1 3.1 0 1 0 6.2 0a3.1 3.1 0 1 0 -6.2 0M341.5 307.7a3.1 3.1 0 1 0 6.2 0a3.1 3.1 0 1 0 -6.2 0M343.2 308a3.1 3.1 0 1 0 6.2 0a3.1 3.1 0 1 0 -6.2 0M344.8 307.4a3.1 3.1 0 1 0 6.2 0a3.1 3.1 0 1 0 -6.2 0M346.5 308.1a3.1 3.1 0 1 0 6.2 0a3.1 3.1 0 1 0 -6.2 0M348.1 307.7a3.1 3.1 0 1 0 6.2 0a3.1 3.1 0 1 0 -6.2 0M349.7 308.3a3.1 3.1 0 1 0 6.2 0a3.1 3.1 0 1 0 -6.2 0M351.4 308.2a3.1 3.1 0 1 0 6.2 0a3.1 3.1 0 1 0 -6.2 0M353 307.7a3.1 3.1 0 1 0 6.2 0a3.1 3.1 0 1 0 -6.2 0M354.7 307.7a3.1 3.1 0 1 0 6.2 0a3.1 3.1 0 1 0 -6.2 0M356.3 307.9a3.1 3.1 0 1 0 6.2 0a3.1 3.1 0 1 0 -6.2 0M358 307.9a3.1 3.1 0 1 0 6.2 0a3.1 3.1 0 1 0 -6.2 0M359.6 308.2a3.1 3.1 0 1 0 6.2 0a3.1 3.1 0 1 0 -6.2 0M361.3 308.4a3.1 3.1 0 1 0 6.2 0a3.1 3.1 0 1 0 -6.2 0M362.9 307.7a3.1 3.1 0 1 0 6.2 0a3.1 3.1 0 1 0 -6.2 0M364.6 308a3.1 3.1 0 1 0 6.2 0a3.1 3.1 0 1 0 -6.2 0M366.2 308a3.1 3.1 0 1 0 6.2 0a3.1 3.1 0 1 0 -6.2 0M367.9 307.9a3.1 3.1 0 1 0 6.2 0a3.1 3.1 0 1 0 -6.2 0M369.5 307.7a3.1 3.1 0 1 0 6.2 0a3.1 3.1 0 1 0 -6.2 0M371.2 307.6a3.1 3.1 0 1 0 6.2 0a3.1 3.1 0 1 0 -6.2 0M372.8 308.7a3.1 3.1 0 1 0 6.2 0a3.1 3.1 0 1 0 -6.2 0M374.5 307.8a3.1 3.1 0 1 0 6.2 0a3.1 3.1 0 1 0 -6.2 0M376.1 307.9a3.1 3.1 0 1 0 6.2 0a3.1 3.1 0 1 0 -6.2 0M377.8 308a3.1 3.1 0 1 0 6.2 0a3.1 3.1 0 1 0 -6.2 0M379.4 308.5a3.1 3.1 0 1 0 6.2 0a3.1 3.1 0 1 0 -6.2 0M381 307.8a3.1 3.1 0 1 0 6.2 0a3.1 3.1 0 1 0 -6.2 0M382.7 308.1a3.1 3.1 0 1 0 6.2 0a3.1 3.1 0 1 0 -6.2 0M384.3 307.8a3.1 3.1 0 1 0 6.2 0a3.1 3.1 0 1 0 -6.2 0M386 309.2a3.1 3.1 0 1 0 6.2 0a3.1 3.1 0 1 0 -6.2 0M387.6 307.6a3.1 3.1 0 1 0 6.2 0a3.1 3.1 0 1 0 -6.2 0M389.3 308.3a3.1 3.1 0 1 0 6.2 0a3.1 3.1 0 1 0 -6.2 0M390.9 307.5a3.1 3.1 0 1 0 6.2 0a3.1 3.1 0 1 0 -6.2 0M392.6 307.1a3.1 3.1 0 1 0 6.2 0a3.1 3.1 0 1 0 -6.2 0M394.2 308.8a3.1 3.1 0 1 0 6.2 0a3.1 3.1 0 1 0 -6.2 0M395.9 307.8a3.1 3.1 0 1 0 6.2 0a3.1 3.1 0 1 0 -6.2 0M397.5 307.2a3.1 3.1 0 1 0 6.2 0a3.1 3.1 0 1 0 -6.2 0M399.2 307.4a3.1 3.1 0 1 0 6.2 0a3.1 3.1 0 1 0 -6.2 0M400.8 308.1a3.1 3.1 0 1 0 6.2 0a3.1 3.1 0 1 0 -6.2 0M402.5 307.9a3.1 3.1 0 1 0 6.2 0a3.1 3.1 0 1 0 -6.2 0M404.1 307.2a3.1 3.1 0 1 0 6.2 0a3.1 3.1 0 1 0 -6.2 0M405.8 307.5a3.1 3.1 0 1 0 6.2 0a3.1 3.1 0 1 0 -6.2 0M407.4 307.8a3.1 3.1 0 1 0 6.2 0a3.1 3.1 0 1 0 -6.2 0M409.1 307.7a3.1 3.1 0 1 0 6.2 0a3.1 3.1 0 1 0 -6.2 0M410.7 308a3.1 3.1 0 1 0 6.2 0a3.1 3.1 0 1 0 -6.2 0M412.4 307.5a3.1 3.1 0 1 0 6.2 0a3.1 3.1 0 1 0 -6.2 0M414 308a3.1 3.1 0 1 0 6.2 0a3.1 3.1 0 1 0 -6.2 0M415.6 307.5a3.1 3.1 0 1 0 6.2 0a3.1 3.1 0 1 0 -6.2 0M417.3 307.6a3.1 3.1 0 1 0 6.2 0a3.1 3.1 0 1 0 -6.2 0M418.9 307.3a3.1 3.1 0 1 0 6.2 0a3.1 3.1 0 1 0 -6.2 0M420.6 307.9a3.1 3.1 0 1 0 6.2 0a3.1 3.1 0 1 0 -6.2 0M422.2 307.6a3.1 3.1 0 1 0 6.2 0a3.1 3.1 0 1 0 -6.2 0M423.9 307.2a3.1 3.1 0 1 0 6.2 0a3.1 3.1 0 1 0 -6.2 0M425.5 307.7a3.1 3.1 0 1 0 6.2 0a3.1 3.1 0 1 0 -6.2 0M427.2 307.8a3.1 3.1 0 1 0 6.2 0a3.1 3.1 0 1 0 -6.2 0M428.8 307.4a3.1 3.1 0 1 0 6.2 0a3.1 3.1 0 1 0 -6.2 0M430.5 307.7a3.1 3.1 0 1 0 6.2 0a3.1 3.1 0 1 0 -6.2 0M432.1 307.5a3.1 3.1 0 1 0 6.2 0a3.1 3.1 0 1 0 -6.2 0M433.8 308.2a3.1 3.1 0 1 0 6.2 0a3.1 3.1 0 1 0 -6.2 0M435.4 307.8a3.1 3.1 0 1 0 6.2 0a3.1 3.1 0 1 0 -6.2 0M437.1 307.8a3.1 3.1 0 1 0 6.2 0a3.1 3.1 0 1 0 -6.2 0M438.7 307.5a3.1 3.1 0 1 0 6.2 0a3.1 3.1 0 1 0 -6.2 0M440.4 308.2a3.1 3.1 0 1 0 6.2 0a3.1 3.1 0 1 0 -6.2 0M442 308a3.1 3.1 0 1 0 6.2 0a3.1 3.1 0 1 0 -6.2 0M443.7 307.5a3.1 3.1 0 1 0 6.2 0a3.1 3.1 0 1 0 -6.2 0M445.3 307.6a3.1 3.1 0 1 0 6.2 0a3.1 3.1 0 1 0 -6.2 0M446.9 307.6a3.1 3.1 0 1 0 6.2 0a3.1 3.1 0 1 0 -6.2 0M448.6 307.2a3.1 3.1 0 1 0 6.2 0a3.1 3.1 0 1 0 -6.2 0M450.2 307a3.1 3.1 0 1 0 6.2 0a3.1 3.1 0 1 0 -6.2 0M451.9 307a3.1 3.1 0 1 0 6.2 0a3.1 3.1 0 1 0 -6.2 0M453.5 307a3.1 3.1 0 1 0 6.2 0a3.1 3.1 0 1 0 -6.2 0M455.2 307.4a3.1 3.1 0 1 0 6.2 0a3.1 3.1 0 1 0 -6.2 0M456.8 307.7a3.1 3.1 0 1 0 6.2 0a3.1 3.1 0 1 0 -6.2 0M458.5 306.9a3.1 3.1 0 1 0 6.2 0a3.1 3.1 0 1 0 -6.2 0M460.1 307.5a3.1 3.1 0 1 0 6.2 0a3.1 3.1 0 1 0 -6.2 0M461.8 306.9a3.1 3.1 0 1 0 6.2 0a3.1 3.1 0 1 0 -6.2 0M463.4 306.9a3.1 3.1 0 1 0 6.2 0a3.1 3.1 0 1 0 -6.2 0M465.1 307.7a3.1 3.1 0 1 0 6.2 0a3.1 3.1 0 1 0 -6.2 0M466.7 308a3.1 3.1 0 1 0 6.2 0a3.1 3.1 0 1 0 -6.2 0M468.4 306.9a3.1 3.1 0 1 0 6.2 0a3.1 3.1 0 1 0 -6.2 0M470 307.8a3.1 3.1 0 1 0 6.2 0a3.1 3.1 0 1 0 -6.2 0M471.7 307.1a3.1 3.1 0 1 0 6.2 0a3.1 3.1 0 1 0 -6.2 0M473.3 307.6a3.1 3.1 0 1 0 6.2 0a3.1 3.1 0 1 0 -6.2 0M475 308.1a3.1 3.1 0 1 0 6.2 0a3.1 3.1 0 1 0 -6.2 0M476.6 307.2a3.1 3.1 0 1 0 6.2 0a3.1 3.1 0 1 0 -6.2 0M478.3 307.7a3.1 3.1 0 1 0 6.2 0a3.1 3.1 0 1 0 -6.2 0M479.9 307.8a3.1 3.1 0 1 0 6.2 0a3.1 3.1 0 1 0 -6.2 0M481.5 307.4a3.1 3.1 0 1 0 6.2 0a3.1 3.1 0 1 0 -6.2 0M483.2 306.7a3.1 3.1 0 1 0 6.2 0a3.1 3.1 0 1 0 -6.2 0M484.8 307.5a3.1 3.1 0 1 0 6.2 0a3.1 3.1 0 1 0 -6.2 0M486.5 306.9a3.1 3.1 0 1 0 6.2 0a3.1 3.1 0 1 0 -6.2 0M488.1 306.9a3.1 3.1 0 1 0 6.2 0a3.1 3.1 0 1 0 -6.2 0M489.8 307.4a3.1 3.1 0 1 0 6.2 0a3.1 3.1 0 1 0 -6.2 0M491.4 307.4a3.1 3.1 0 1 0 6.2 0a3.1 3.1 0 1 0 -6.2 0M493.1 308a3.1 3.1 0 1 0 6.2 0a3.1 3.1 0 1 0 -6.2 0M494.7 307.1a3.1 3.1 0 1 0 6.2 0a3.1 3.1 0 1 0 -6.2 0M496.4 307.6a3.1 3.1 0 1 0 6.2 0a3.1 3.1 0 1 0 -6.2 0M498 308a3.1 3.1 0 1 0 6.2 0a3.1 3.1 0 1 0 -6.2 0M499.7 308.1a3.1 3.1 0 1 0 6.2 0a3.1 3.1 0 1 0 -6.2 0M501.3 307.3a3.1 3.1 0 1 0 6.2 0a3.1 3.1 0 1 0 -6.2 0M503 307.4a3.1 3.1 0 1 0 6.2 0a3.1 3.1 0 1 0 -6.2 0M504.6 307.5a3.1 3.1 0 1 0 6.2 0a3.1 3.1 0 1 0 -6.2 0" fill="#10f010"/>
<path d="M74.5 5V332.5H525" stroke="#111" stroke-width="1.5" fill="none"/>
<path d="M70 332.3H74.5M71.5 318.9H74.5M71.5 305.6H74.5M71.5 292.2H74.5M71.5 278.8H74.5M70 265.4H74.5M71.5 252.1H74.5M71.5 238.7H74.5M71.5 225.3H74.5M71.5 212H74.5M70 198.6H74.5M71.5 185.2H74.5M71.5 171.9H74.5M71.5 158.5H74.5M71.5 145.1H74.5M70 131.8H74.5M71.5 118.4H74.5M71.5 105H74.5M71.5 91.6H74.5M71.5 78.3H74.5M70 64.9H74.5M71.5 51.5H74.5M71.5 38.2H74.5M71.5 24.8H74.5M71.5 11.4H74.5M87.6 332.5V336.5M127.1 332.5V335.5M166.7 332.5V335.5M206.2 332.5V335.5M245.8 332.5V336.5M285.3 332.5V335.5M324.8 332.5V335.5M364.4 332.5V335.5M403.9 332.5V336.5M443.5 332.5V335.5M483 332.5V335.5M522.5 332.5V335.5" stroke="#111" stroke-width="1.4" fill="none"/>
<text x="68.7" y="338.6" class="tl" text-anchor="end">0</text>
<text x="68.7" y="271.8" class="tl" text-anchor="end">2000</text>
<text x="68.7" y="204.9" class="tl" text-anchor="end">4000</text>
<text x="68.7" y="138.1" class="tl" text-anchor="end">6000</text>
<text x="68.7" y="71.2" class="tl" text-anchor="end">8000</text>
<text x="87.6" y="354" class="xl" text-anchor="middle">0</text>
<text x="245.8" y="354" class="xl" text-anchor="middle">24</text>
<text x="403.9" y="354" class="xl" text-anchor="middle">48</text>
<text x="301.3" y="376" class="xt" text-anchor="middle">time (hours)</text>
<text x="17.2" y="29.4" class="pl">A</text>
<text transform="translate(20 164.2) rotate(-90) scale(1 1.12)" class="yt" text-anchor="middle">CRE-luc activity (RLU mean <tspan text-decoration="underline">+</tspan> SD)</text>
<circle cx="381.2" cy="53" r="2.6" fill="#10f010"/>
<text x="391.2" y="57.4" class="lg">Control</text>
<path d="M376 72.5l4.5 -8l4.5 8z" fill="#fa28f8"/>
<text x="391.2" y="72.9" class="lg">IBMX 100µM</text>
<path d="M378.6 86.3l2.6 -4.8l2.6 4.8z" fill="#fa28f8"/>
<text x="391.2" y="88.3" class="lg">IBMX 10µM</text>
<path d="M376 103.4l4.5 -8l4.5 8z" fill="#ff8a00"/>
<text x="391.2" y="103.8" class="lg">Milrinone 100µM</text>
<path d="M378.6 117.2l2.6 -4.8l2.6 4.8z" fill="#ff8a00"/>
<text x="391.2" y="119.2" class="lg">Milrinone 10µM</text>
<path d="M377.6 133.9l3.6 -7.2l3.6 7.2z" fill="none" stroke="#8088ff" stroke-width="1"/>
<text x="391.2" y="134.7" class="lg">Rolipram 100µM</text>
<path d="M379.1 147.8l2.1 -4l2.1 4z" fill="none" stroke="#8088ff" stroke-width="1"/>
<text x="391.2" y="150.2" class="lg">Rolipram 10µM</text>
<path d="M376.8 164.9l4.4 -7.4l4.4 7.4z" fill="none" stroke="#c77ad0" stroke-width="1"/>
<text x="391.2" y="165.6" class="lg">Zaprinast 100µM</text>
<path d="M111.5 767.7l4.4 -7.9l4.4 7.9zM119.7 766.9l4.4 -7.9l4.4 7.9zM128 766.3l4.4 -7.9l4.4 7.9zM136.3 765.6l4.4 -7.9l4.4 7.9zM144.5 765l4.4 -7.9l4.4 7.9zM152.8 764.4l4.4 -7.9l4.4 7.9zM161.1 763.9l4.4 -7.9l4.4 7.9zM169.4 763.3l4.4 -7.9l4.4 7.9zM177.6 762.8l4.4 -7.9l4.4 7.9zM185.9 762.2l4.4 -7.9l4.4 7.9zM194.2 761.7l4.4 -7.9l4.4 7.9zM202.4 761.1l4.4 -7.9l4.4 7.9zM210.7 760.6l4.4 -7.9l4.4 7.9zM219 760.1l4.4 -7.9l4.4 7.9zM227.2 759.6l4.4 -7.9l4.4 7.9zM235.5 759.1l4.4 -7.9l4.4 7.9zM243.8 758.6l4.4 -7.9l4.4 7.9zM252.1 758.1l4.4 -7.9l4.4 7.9zM260.3 757.6l4.4 -7.9l4.4 7.9zM268.6 757.2l4.4 -7.9l4.4 7.9zM276.9 756.7l4.4 -7.9l4.4 7.9zM285.1 756.3l4.4 -7.9l4.4 7.9zM293.4 755.9l4.4 -7.9l4.4 7.9zM301.7 755.6l4.4 -7.9l4.4 7.9zM310 755.3l4.4 -7.9l4.4 7.9zM318.2 755l4.4 -7.9l4.4 7.9zM326.5 754.7l4.4 -7.9l4.4 7.9zM334.8 754.4l4.4 -7.9l4.4 7.9zM343 754.2l4.4 -7.9l4.4 7.9zM351.3 754l4.4 -7.9l4.4 7.9zM359.6 753.8l4.4 -7.9l4.4 7.9zM367.8 753.6l4.4 -7.9l4.4 7.9zM376.1 753.5l4.4 -7.9l4.4 7.9zM384.4 753.3l4.4 -7.9l4.4 7.9zM392.6 753.3l4.4 -7.9l4.4 7.9zM400.9 753.2l4.4 -7.9l4.4 7.9zM409.2 753.2l4.4 -7.9l4.4 7.9zM417.5 753.1l4.4 -7.9l4.4 7.9zM425.7 753.1l4.4 -7.9l4.4 7.9zM434 753.1l4.4 -7.9l4.4 7.9zM442.3 753.1l4.4 -7.9l4.4 7.9zM450.5 753.1l4.4 -7.9l4.4 7.9zM458.8 753.1l4.4 -7.9l4.4 7.9zM467.1 753.2l4.4 -7.9l4.4 7.9zM475.4 753.2l4.4 -7.9l4.4 7.9zM483.6 753.2l4.4 -7.9l4.4 7.9zM491.9 753.3l4.4 -7.9l4.4 7.9zM500.2 753.3l4.4 -7.9l4.4 7.9zM508.4 753.3l4.4 -7.9l4.4 7.9zM516.7 753.4l4.4 -7.9l4.4 7.9zM525 753.4l4.4 -7.9l4.4 7.9zM533.2 753.4l4.4 -7.9l4.4 7.9z" fill="#7e1e84"/>
<path d="M111.5 767.8l4.4 -7.9l4.4 7.9zM119.7 767.1l4.4 -7.9l4.4 7.9zM128 766.5l4.4 -7.9l4.4 7.9zM136.3 766l4.4 -7.9l4.4 7.9zM144.5 765.5l4.4 -7.9l4.4 7.9zM152.8 765l4.4 -7.9l4.4 7.9zM161.1 764.5l4.4 -7.9l4.4 7.9zM169.4 764l4.4 -7.9l4.4 7.9zM177.6 763.5l4.4 -7.9l4.4 7.9zM185.9 762.9l4.4 -7.9l4.4 7.9zM194.2 762.4l4.4 -7.9l4.4 7.9zM202.4 761.9l4.4 -7.9l4.4 7.9zM210.7 761.3l4.4 -7.9l4.4 7.9zM219 760.8l4.4 -7.9l4.4 7.9zM227.2 760.3l4.4 -7.9l4.4 7.9zM235.5 759.8l4.4 -7.9l4.4 7.9zM243.8 759.2l4.4 -7.9l4.4 7.9zM252.1 758.7l4.4 -7.9l4.4 7.9zM260.3 758.2l4.4 -7.9l4.4 7.9zM268.6 757.7l4.4 -7.9l4.4 7.9zM276.9 757.2l4.4 -7.9l4.4 7.9zM285.1 756.7l4.4 -7.9l4.4 7.9zM293.4 756.3l4.4 -7.9l4.4 7.9zM301.7 755.9l4.4 -7.9l4.4 7.9zM310 755.5l4.4 -7.9l4.4 7.9zM318.2 755.1l4.4 -7.9l4.4 7.9zM326.5 754.7l4.4 -7.9l4.4 7.9zM334.8 754.4l4.4 -7.9l4.4 7.9zM343 754.1l4.4 -7.9l4.4 7.9zM351.3 753.8l4.4 -7.9l4.4 7.9zM359.6 753.6l4.4 -7.9l4.4 7.9zM367.8 753.4l4.4 -7.9l4.4 7.9zM376.1 753.2l4.4 -7.9l4.4 7.9zM384.4 753l4.4 -7.9l4.4 7.9zM392.6 752.9l4.4 -7.9l4.4 7.9zM400.9 752.9l4.4 -7.9l4.4 7.9zM409.2 752.9l4.4 -7.9l4.4 7.9zM417.5 752.9l4.4 -7.9l4.4 7.9zM425.7 752.9l4.4 -7.9l4.4 7.9zM434 752.9l4.4 -7.9l4.4 7.9zM442.3 753l4.4 -7.9l4.4 7.9zM450.5 753.3l4.4 -7.9l4.4 7.9zM458.8 753.6l4.4 -7.9l4.4 7.9zM467.1 753.9l4.4 -7.9l4.4 7.9zM475.4 754.3l4.4 -7.9l4.4 7.9zM483.6 754.7l4.4 -7.9l4.4 7.9zM491.9 755.2l4.4 -7.9l4.4 7.9zM500.2 755.6l4.4 -7.9l4.4 7.9zM508.4 756l4.4 -7.9l4.4 7.9zM516.7 756.5l4.4 -7.9l4.4 7.9zM525 756.9l4.4 -7.9l4.4 7.9zM533.2 757.3l4.4 -7.9l4.4 7.9z" fill="none" stroke="#5a68ff" stroke-width="1.1"/>
<path d="M111.5 767.8l4.4 -7.9l4.4 7.9zM119.7 767.1l4.4 -7.9l4.4 7.9zM128 766.4l4.4 -7.9l4.4 7.9zM136.3 765.8l4.4 -7.9l4.4 7.9zM144.5 765.2l4.4 -7.9l4.4 7.9zM152.8 764.7l4.4 -7.9l4.4 7.9zM161.1 764.2l4.4 -7.9l4.4 7.9zM169.4 763.6l4.4 -7.9l4.4 7.9zM177.6 763.1l4.4 -7.9l4.4 7.9zM185.9 762.5l4.4 -7.9l4.4 7.9zM194.2 762l4.4 -7.9l4.4 7.9zM202.4 761.4l4.4 -7.9l4.4 7.9zM210.7 760.9l4.4 -7.9l4.4 7.9zM219 760.3l4.4 -7.9l4.4 7.9zM227.2 759.8l4.4 -7.9l4.4 7.9zM235.5 759.3l4.4 -7.9l4.4 7.9zM243.8 758.7l4.4 -7.9l4.4 7.9zM252.1 758.2l4.4 -7.9l4.4 7.9zM260.3 757.7l4.4 -7.9l4.4 7.9zM268.6 757.2l4.4 -7.9l4.4 7.9zM276.9 756.7l4.4 -7.9l4.4 7.9zM285.1 756.2l4.4 -7.9l4.4 7.9zM293.4 755.8l4.4 -7.9l4.4 7.9zM301.7 755.4l4.4 -7.9l4.4 7.9zM310 755l4.4 -7.9l4.4 7.9zM318.2 754.6l4.4 -7.9l4.4 7.9zM326.5 754.2l4.4 -7.9l4.4 7.9zM334.8 753.8l4.4 -7.9l4.4 7.9zM343 753.5l4.4 -7.9l4.4 7.9zM351.3 753.2l4.4 -7.9l4.4 7.9zM359.6 752.9l4.4 -7.9l4.4 7.9zM367.8 752.7l4.4 -7.9l4.4 7.9zM376.1 752.4l4.4 -7.9l4.4 7.9zM384.4 752.2l4.4 -7.9l4.4 7.9zM392.6 752.1l4.4 -7.9l4.4 7.9zM400.9 752.1l4.4 -7.9l4.4 7.9zM409.2 752l4.4 -7.9l4.4 7.9zM417.5 752l4.4 -7.9l4.4 7.9zM425.7 751.9l4.4 -7.9l4.4 7.9zM434 751.9l4.4 -7.9l4.4 7.9zM442.3 751.9l4.4 -7.9l4.4 7.9zM450.5 751.9l4.4 -7.9l4.4 7.9zM458.8 752l4.4 -7.9l4.4 7.9zM467.1 752l4.4 -7.9l4.4 7.9zM475.4 752l4.4 -7.9l4.4 7.9zM483.6 752.1l4.4 -7.9l4.4 7.9zM491.9 752.1l4.4 -7.9l4.4 7.9zM500.2 752.1l4.4 -7.9l4.4 7.9zM508.4 752.2l4.4 -7.9l4.4 7.9zM516.7 752.2l4.4 -7.9l4.4 7.9zM525 752.2l4.4 -7.9l4.4 7.9zM533.2 752.2l4.4 -7.9l4.4 7.9z" fill="none" stroke="#5a68ff" stroke-width="1.1"/>
<path d="M115.9 762.8V764.3M124.1 760.5V763.5M132.4 757.8V762.2M140.7 755.2V760.8M148.9 750.3V757M157.2 744.8V752.4M165.5 740.5V748.8M173.8 734.9V743.6M182 726.4V735.4M190.3 718.3V727.5M198.6 708.9V718.3M206.8 702.5V712.1M215.1 694.2V704M223.4 689.5V699.5M231.6 685V695M239.9 679.4V689.4M248.2 675.4V685.4M256.5 672V682M264.7 669.1V679.1M273 666.5V676.4M281.3 664.6V674.4M289.5 663.6V673.2M297.8 663.1V672.7M306.1 663.5V672.9M314.4 664.1V673.5M322.6 664.8V674M330.9 665.5V674.7M339.2 666.2V675.2M347.4 666.9V675.8M355.7 667.9V676.7M364 669V677.7M372.2 670.1V678.8M380.5 671.3V679.9M388.8 672.6V681.2M397 674.1V682.7M405.3 675.7V684.2M413.6 677.4V685.9M421.9 679.2V687.6M430.1 680.9V689.3M438.4 682.6V691M446.7 684.3V692.6M454.9 685.7V694M463.2 687.1V695.3M471.5 688.4V696.6M479.8 689.7V697.8M488 690.9V699M496.3 692V700.1M504.6 693.2V701.2M512.8 694.3V702.3M521.1 695.4V703.4M529.4 696.4V704.4M537.6 697.5V705.4" stroke="#ffc07a" stroke-width="1.0" stroke-opacity="1" fill="none"/>
<path d="M111.3 767.8l4.6 -8.5l4.6 8.5zM119.5 766.3l4.6 -8.5l4.6 8.5zM127.8 764.2l4.6 -8.5l4.6 8.5zM136.1 762.2l4.6 -8.5l4.6 8.5zM144.3 757.9l4.6 -8.5l4.6 8.5zM152.6 752.9l4.6 -8.5l4.6 8.5zM160.9 748.9l4.6 -8.5l4.6 8.5zM169.2 743.5l4.6 -8.5l4.6 8.5zM177.4 735.1l4.6 -8.5l4.6 8.5zM185.7 727.1l4.6 -8.5l4.6 8.5zM194 717.8l4.6 -8.5l4.6 8.5zM202.2 711.5l4.6 -8.5l4.6 8.5zM210.5 703.3l4.6 -8.5l4.6 8.5zM218.8 698.7l4.6 -8.5l4.6 8.5zM227 694.2l4.6 -8.5l4.6 8.5zM235.3 688.6l4.6 -8.5l4.6 8.5zM243.6 684.6l4.6 -8.5l4.6 8.5zM251.9 681.2l4.6 -8.5l4.6 8.5zM260.1 678.3l4.6 -8.5l4.6 8.5zM268.4 675.7l4.6 -8.5l4.6 8.5zM276.7 673.7l4.6 -8.5l4.6 8.5zM284.9 672.6l4.6 -8.5l4.6 8.5zM293.2 672.1l4.6 -8.5l4.6 8.5zM301.5 672.5l4.6 -8.5l4.6 8.5zM309.8 673l4.6 -8.5l4.6 8.5zM318 673.7l4.6 -8.5l4.6 8.5zM326.3 674.3l4.6 -8.5l4.6 8.5zM334.6 674.9l4.6 -8.5l4.6 8.5zM342.8 675.6l4.6 -8.5l4.6 8.5zM351.1 676.5l4.6 -8.5l4.6 8.5zM359.4 677.6l4.6 -8.5l4.6 8.5zM367.6 678.7l4.6 -8.5l4.6 8.5zM375.9 679.8l4.6 -8.5l4.6 8.5zM384.2 681.1l4.6 -8.5l4.6 8.5zM392.4 682.6l4.6 -8.5l4.6 8.5zM400.7 684.2l4.6 -8.5l4.6 8.5zM409 685.9l4.6 -8.5l4.6 8.5zM417.3 687.6l4.6 -8.5l4.6 8.5zM425.5 689.3l4.6 -8.5l4.6 8.5zM433.8 691l4.6 -8.5l4.6 8.5zM442.1 692.6l4.6 -8.5l4.6 8.5zM450.3 694.1l4.6 -8.5l4.6 8.5zM458.6 695.5l4.6 -8.5l4.6 8.5zM466.9 696.8l4.6 -8.5l4.6 8.5zM475.1 698l4.6 -8.5l4.6 8.5zM483.4 699.2l4.6 -8.5l4.6 8.5zM491.7 700.3l4.6 -8.5l4.6 8.5zM500 701.4l4.6 -8.5l4.6 8.5zM508.2 702.5l4.6 -8.5l4.6 8.5zM516.5 703.6l4.6 -8.5l4.6 8.5zM524.8 704.7l4.6 -8.5l4.6 8.5zM533 705.7l4.6 -8.5l4.6 8.5z" fill="#ff8a00"/>
<path d="M115.9 763.1V763.6M124.1 761V762.4M132.4 758.4V761M140.7 755.3V759.3M148.9 749.1V754.8M157.2 740.7V748.6M165.5 733.7V744.2M173.8 725.9V739.3M182 717.1V733.8M190.3 708.6V729.2M198.6 695.6V720.7M206.8 677.6V707.8M215.1 659V695.6M223.4 639.8V683.3M231.6 620V669.1M239.9 597.4V650.9M248.2 579.1V636.1M256.5 562V622.3M264.7 545.3V607.9M273 529.4V593M281.3 515.6V578.8M289.5 503.8V566M297.8 493.2V554.4M306.1 484.7V544.9M314.4 477.3V536.8M322.6 470.9V529.7M330.9 465.6V523.8M339.2 462.2V519.8M347.4 459.8V516.8M355.7 458.7V515.3M364 457.7V513.9M372.2 457.9V513.4M380.5 459.1V513.5M388.8 461.5V514.4M397 464.5V515.7M405.3 469.9V519.4M413.6 474.4V522.3M421.9 479.5V525.9M430.1 484V528.8M438.4 489.2V532.4M446.7 499.6V541.3M454.9 506.2V546.4M463.2 514.5V553.1M471.5 521V558.1M479.8 529.5V565.1M488 534.9V568.9M496.3 542.4V575M504.6 550.3V581.4M512.8 555.8V585.5M521.1 563.4V591.8M529.4 569.2V596.4M537.6 576V602.1" stroke="#ffc07a" stroke-width="1.0" stroke-opacity="1" fill="none"/>
<path d="M111.3 767.6l4.6 -8.5l4.6 8.5zM119.5 765.9l4.6 -8.5l4.6 8.5zM127.8 763.9l4.6 -8.5l4.6 8.5zM136.1 761.6l4.6 -8.5l4.6 8.5zM144.3 756.2l4.6 -8.5l4.6 8.5zM152.6 748.9l4.6 -8.5l4.6 8.5zM160.9 743.2l4.6 -8.5l4.6 8.5zM169.2 736.8l4.6 -8.5l4.6 8.5zM177.4 729.7l4.6 -8.5l4.6 8.5zM185.7 723.1l4.6 -8.5l4.6 8.5zM194 712.4l4.6 -8.5l4.6 8.5zM202.2 696.9l4.6 -8.5l4.6 8.5zM210.5 681.5l4.6 -8.5l4.6 8.5zM218.8 665.7l4.6 -8.5l4.6 8.5zM227 648.7l4.6 -8.5l4.6 8.5zM235.3 628.4l4.6 -8.5l4.6 8.5zM243.6 611.8l4.6 -8.5l4.6 8.5zM251.9 596.3l4.6 -8.5l4.6 8.5zM260.1 580.8l4.6 -8.5l4.6 8.5zM268.4 565.4l4.6 -8.5l4.6 8.5zM276.7 551.4l4.6 -8.5l4.6 8.5zM284.9 539.1l4.6 -8.5l4.6 8.5zM293.2 528l4.6 -8.5l4.6 8.5zM301.5 519l4.6 -8.5l4.6 8.5zM309.8 511.3l4.6 -8.5l4.6 8.5zM318 504.5l4.6 -8.5l4.6 8.5zM326.3 498.9l4.6 -8.5l4.6 8.5zM334.6 495.2l4.6 -8.5l4.6 8.5zM342.8 492.6l4.6 -8.5l4.6 8.5zM351.1 491.2l4.6 -8.5l4.6 8.5zM359.4 490l4.6 -8.5l4.6 8.5zM367.6 489.9l4.6 -8.5l4.6 8.5zM375.9 490.5l4.6 -8.5l4.6 8.5zM384.2 492.2l4.6 -8.5l4.6 8.5zM392.4 494.3l4.6 -8.5l4.6 8.5zM400.7 498.9l4.6 -8.5l4.6 8.5zM409 502.6l4.6 -8.5l4.6 8.5zM417.3 506.9l4.6 -8.5l4.6 8.5zM425.5 510.6l4.6 -8.5l4.6 8.5zM433.8 515l4.6 -8.5l4.6 8.5zM442.1 524.7l4.6 -8.5l4.6 8.5zM450.3 530.5l4.6 -8.5l4.6 8.5zM458.6 538.1l4.6 -8.5l4.6 8.5zM466.9 543.8l4.6 -8.5l4.6 8.5zM475.1 551.5l4.6 -8.5l4.6 8.5zM483.4 556.1l4.6 -8.5l4.6 8.5zM491.7 562.9l4.6 -8.5l4.6 8.5zM500 570l4.6 -8.5l4.6 8.5zM508.2 574.9l4.6 -8.5l4.6 8.5zM516.5 581.8l4.6 -8.5l4.6 8.5zM524.8 587l4.6 -8.5l4.6 8.5zM533 593.2l4.6 -8.5l4.6 8.5z" fill="#ff8a00"/>
<path d="M115.9 763.5V764.2M124.1 761.6V763.1M132.4 759.4V761.6M140.7 756.9V759.8M148.9 754.2V757.6M157.2 751.4V755.3M165.5 748.6V753M173.8 745.6V750.3M182 741.5V746.4M190.3 739V744.2M198.6 736.4V741.8M206.8 732.6V738.3M215.1 731V736.9M223.4 729.5V735.6M231.6 726.6V732.8M239.9 723.9V730.3M248.2 722V728.5M256.5 720.9V727.6M264.7 720.3V726.9M273 719.9V726.6M281.3 719.5V726.2M289.5 719V725.7M297.8 718.7V725.4M306.1 718.8V725.5M314.4 719V725.7M322.6 719.6V726.3M330.9 720.4V727.1M339.2 720.8V727.5M347.4 721.2V727.9M355.7 721.9V728.6M364 722.5V729.2M372.2 722.9V729.6M380.5 723.2V729.9M388.8 723.6V730.3M397 724V730.7M405.3 724.5V731.2M413.6 724.9V731.6M421.9 725.4V732.1M430.1 725.9V732.6M438.4 726.4V733.1M446.7 726.9V733.6M454.9 727.4V734.1M463.2 727.9V734.6M471.5 728.3V735M479.8 728.6V735.3M488 728.9V735.6M496.3 729.2V735.9M504.6 729.6V736.3M512.8 729.9V736.6M521.1 730.3V737M529.4 730.7V737.4M537.6 731V737.7" stroke="#fba6f9" stroke-width="1.0" stroke-opacity="1" fill="none"/>
<path d="M111.3 768.1l4.6 -8.5l4.6 8.5zM119.5 766.6l4.6 -8.5l4.6 8.5zM127.8 764.7l4.6 -8.5l4.6 8.5zM136.1 762.6l4.6 -8.5l4.6 8.5zM144.3 760.2l4.6 -8.5l4.6 8.5zM152.6 757.6l4.6 -8.5l4.6 8.5zM160.9 755.1l4.6 -8.5l4.6 8.5zM169.2 752.2l4.6 -8.5l4.6 8.5zM177.4 748.2l4.6 -8.5l4.6 8.5zM185.7 745.8l4.6 -8.5l4.6 8.5zM194 743.3l4.6 -8.5l4.6 8.5zM202.2 739.7l4.6 -8.5l4.6 8.5zM210.5 738.2l4.6 -8.5l4.6 8.5zM218.8 736.8l4.6 -8.5l4.6 8.5zM227 733.9l4.6 -8.5l4.6 8.5zM235.3 731.3l4.6 -8.5l4.6 8.5zM243.6 729.4l4.6 -8.5l4.6 8.5zM251.9 728.5l4.6 -8.5l4.6 8.5zM260.1 727.8l4.6 -8.5l4.6 8.5zM268.4 727.4l4.6 -8.5l4.6 8.5zM276.7 727.1l4.6 -8.5l4.6 8.5zM284.9 726.6l4.6 -8.5l4.6 8.5zM293.2 726.2l4.6 -8.5l4.6 8.5zM301.5 726.3l4.6 -8.5l4.6 8.5zM309.8 726.6l4.6 -8.5l4.6 8.5zM318 727.2l4.6 -8.5l4.6 8.5zM326.3 727.9l4.6 -8.5l4.6 8.5zM334.6 728.4l4.6 -8.5l4.6 8.5zM342.8 728.8l4.6 -8.5l4.6 8.5zM351.1 729.5l4.6 -8.5l4.6 8.5zM359.4 730.1l4.6 -8.5l4.6 8.5zM367.6 730.5l4.6 -8.5l4.6 8.5zM375.9 730.8l4.6 -8.5l4.6 8.5zM384.2 731.2l4.6 -8.5l4.6 8.5zM392.4 731.6l4.6 -8.5l4.6 8.5zM400.7 732.1l4.6 -8.5l4.6 8.5zM409 732.5l4.6 -8.5l4.6 8.5zM417.3 733l4.6 -8.5l4.6 8.5zM425.5 733.5l4.6 -8.5l4.6 8.5zM433.8 734l4.6 -8.5l4.6 8.5zM442.1 734.5l4.6 -8.5l4.6 8.5zM450.3 735l4.6 -8.5l4.6 8.5zM458.6 735.5l4.6 -8.5l4.6 8.5zM466.9 735.8l4.6 -8.5l4.6 8.5zM475.1 736.2l4.6 -8.5l4.6 8.5zM483.4 736.5l4.6 -8.5l4.6 8.5zM491.7 736.8l4.6 -8.5l4.6 8.5zM500 737.1l4.6 -8.5l4.6 8.5zM508.2 737.5l4.6 -8.5l4.6 8.5zM516.5 737.9l4.6 -8.5l4.6 8.5zM524.8 738.3l4.6 -8.5l4.6 8.5zM533 738.6l4.6 -8.5l4.6 8.5z" fill="#fa28f8"/>
<path d="M115.9 762.9V763.9M124.1 759.6V761.8M132.4 754.5V758.2M140.7 748.3V753.7M148.9 741V748.3M157.2 730.6V740.2M165.5 718.8V730.9M173.8 707.1V721.9M182 694.6V712M190.3 679.9V700.2M198.6 666.8V690.2M206.8 653.9V680.7M215.1 642.5V673.1M223.4 628V663M231.6 618.1V657.5M239.9 608.8V652.3M248.2 597.2V644.6M256.5 589.7V640.9M264.7 583.4V637.9M273 579.7V636.5M281.3 575.2V633.8M289.5 572.9V633M297.8 571.2V632.3M306.1 570.6V632.2M314.4 570.3V631.9M322.6 570V631.5M330.9 569.7V631.1M339.2 570.8V632M347.4 572.4V633.4M355.7 574.1V634.9M364 575.5V636M372.2 577.7V637.9M380.5 579.3V639.2M388.8 580.7V640.3M397 582.1V641.4M405.3 583.7V642.6M413.6 585.5V644M421.9 587.6V645.4M430.1 589.8V646.9M438.4 592V648.3M446.7 594.3V649.7M454.9 596.5V651.1M463.2 598.7V652.7M471.5 600.7V654.3M479.8 602.8V655.9M488 604.7V657.6M496.3 606.8V659.2M504.6 608.8V661M512.8 610.9V662.8M521.1 613V664.7M529.4 615.1V666.7M537.6 617.1V668.7" stroke="#fba6f9" stroke-width="1.0" stroke-opacity="1" fill="none"/>
<path d="M111.3 767.6l4.6 -8.5l4.6 8.5zM119.5 764.9l4.6 -8.5l4.6 8.5zM127.8 760.6l4.6 -8.5l4.6 8.5zM136.1 755.2l4.6 -8.5l4.6 8.5zM144.3 748.9l4.6 -8.5l4.6 8.5zM152.6 739.7l4.6 -8.5l4.6 8.5zM160.9 729.1l4.6 -8.5l4.6 8.5zM169.2 718.7l4.6 -8.5l4.6 8.5zM177.4 707.5l4.6 -8.5l4.6 8.5zM185.7 694.2l4.6 -8.5l4.6 8.5zM194 682.7l4.6 -8.5l4.6 8.5zM202.2 671.5l4.6 -8.5l4.6 8.5zM210.5 662l4.6 -8.5l4.6 8.5zM218.8 649.7l4.6 -8.5l4.6 8.5zM227 642l4.6 -8.5l4.6 8.5zM235.3 634.8l4.6 -8.5l4.6 8.5zM243.6 625.1l4.6 -8.5l4.6 8.5zM251.9 619.5l4.6 -8.5l4.6 8.5zM260.1 614.8l4.6 -8.5l4.6 8.5zM268.4 612.3l4.6 -8.5l4.6 8.5zM276.7 608.7l4.6 -8.5l4.6 8.5zM284.9 607.2l4.6 -8.5l4.6 8.5zM293.2 606l4.6 -8.5l4.6 8.5zM301.5 605.6l4.6 -8.5l4.6 8.5zM309.8 605.3l4.6 -8.5l4.6 8.5zM318 605l4.6 -8.5l4.6 8.5zM326.3 604.6l4.6 -8.5l4.6 8.5zM334.6 605.6l4.6 -8.5l4.6 8.5zM342.8 607.2l4.6 -8.5l4.6 8.5zM351.1 608.7l4.6 -8.5l4.6 8.5zM359.4 610l4.6 -8.5l4.6 8.5zM367.6 612l4.6 -8.5l4.6 8.5zM375.9 613.5l4.6 -8.5l4.6 8.5zM384.2 614.8l4.6 -8.5l4.6 8.5zM392.4 616l4.6 -8.5l4.6 8.5zM400.7 617.4l4.6 -8.5l4.6 8.5zM409 619l4.6 -8.5l4.6 8.5zM417.3 620.7l4.6 -8.5l4.6 8.5zM425.5 622.6l4.6 -8.5l4.6 8.5zM433.8 624.4l4.6 -8.5l4.6 8.5zM442.1 626.2l4.6 -8.5l4.6 8.5zM450.3 628l4.6 -8.5l4.6 8.5zM458.6 629.9l4.6 -8.5l4.6 8.5zM466.9 631.7l4.6 -8.5l4.6 8.5zM475.1 633.6l4.6 -8.5l4.6 8.5zM483.4 635.4l4.6 -8.5l4.6 8.5zM491.7 637.2l4.6 -8.5l4.6 8.5zM500 639.1l4.6 -8.5l4.6 8.5zM508.2 641.1l4.6 -8.5l4.6 8.5zM516.5 643.1l4.6 -8.5l4.6 8.5zM524.8 645.2l4.6 -8.5l4.6 8.5zM533 647.1l4.6 -8.5l4.6 8.5z" fill="#fa28f8"/>
<path d="M111.1 761.8a4.8 4.8 0 1 0 9.6 0a4.8 4.8 0 1 0 -9.6 0M119.3 760a4.8 4.8 0 1 0 9.6 0a4.8 4.8 0 1 0 -9.6 0M127.6 758.5a4.8 4.8 0 1 0 9.6 0a4.8 4.8 0 1 0 -9.6 0M135.9 757.3a4.8 4.8 0 1 0 9.6 0a4.8 4.8 0 1 0 -9.6 0M144.1 756.8a4.8 4.8 0 1 0 9.6 0a4.8 4.8 0 1 0 -9.6 0M152.4 756.3a4.8 4.8 0 1 0 9.6 0a4.8 4.8 0 1 0 -9.6 0M160.7 755.7a4.8 4.8 0 1 0 9.6 0a4.8 4.8 0 1 0 -9.6 0M169 754.9a4.8 4.8 0 1 0 9.6 0a4.8 4.8 0 1 0 -9.6 0M177.2 754a4.8 4.8 0 1 0 9.6 0a4.8 4.8 0 1 0 -9.6 0M185.5 753.1a4.8 4.8 0 1 0 9.6 0a4.8 4.8 0 1 0 -9.6 0M193.8 752.4a4.8 4.8 0 1 0 9.6 0a4.8 4.8 0 1 0 -9.6 0M202 751.7a4.8 4.8 0 1 0 9.6 0a4.8 4.8 0 1 0 -9.6 0M210.3 751.1a4.8 4.8 0 1 0 9.6 0a4.8 4.8 0 1 0 -9.6 0M218.6 750.5a4.8 4.8 0 1 0 9.6 0a4.8 4.8 0 1 0 -9.6 0M226.8 750a4.8 4.8 0 1 0 9.6 0a4.8 4.8 0 1 0 -9.6 0M235.1 749.5a4.8 4.8 0 1 0 9.6 0a4.8 4.8 0 1 0 -9.6 0M243.4 749a4.8 4.8 0 1 0 9.6 0a4.8 4.8 0 1 0 -9.6 0M251.7 748.3a4.8 4.8 0 1 0 9.6 0a4.8 4.8 0 1 0 -9.6 0M259.9 747.6a4.8 4.8 0 1 0 9.6 0a4.8 4.8 0 1 0 -9.6 0M268.2 747a4.8 4.8 0 1 0 9.6 0a4.8 4.8 0 1 0 -9.6 0M276.5 746.4a4.8 4.8 0 1 0 9.6 0a4.8 4.8 0 1 0 -9.6 0M284.7 745.9a4.8 4.8 0 1 0 9.6 0a4.8 4.8 0 1 0 -9.6 0M293 745.4a4.8 4.8 0 1 0 9.6 0a4.8 4.8 0 1 0 -9.6 0M301.3 745a4.8 4.8 0 1 0 9.6 0a4.8 4.8 0 1 0 -9.6 0M309.6 744.6a4.8 4.8 0 1 0 9.6 0a4.8 4.8 0 1 0 -9.6 0M317.8 744.2a4.8 4.8 0 1 0 9.6 0a4.8 4.8 0 1 0 -9.6 0M326.1 743.9a4.8 4.8 0 1 0 9.6 0a4.8 4.8 0 1 0 -9.6 0M334.4 743.6a4.8 4.8 0 1 0 9.6 0a4.8 4.8 0 1 0 -9.6 0M342.6 743.3a4.8 4.8 0 1 0 9.6 0a4.8 4.8 0 1 0 -9.6 0M350.9 743a4.8 4.8 0 1 0 9.6 0a4.8 4.8 0 1 0 -9.6 0M359.2 742.8a4.8 4.8 0 1 0 9.6 0a4.8 4.8 0 1 0 -9.6 0M367.4 742.6a4.8 4.8 0 1 0 9.6 0a4.8 4.8 0 1 0 -9.6 0M375.7 742.4a4.8 4.8 0 1 0 9.6 0a4.8 4.8 0 1 0 -9.6 0M384 742.2a4.8 4.8 0 1 0 9.6 0a4.8 4.8 0 1 0 -9.6 0M392.2 742.1a4.8 4.8 0 1 0 9.6 0a4.8 4.8 0 1 0 -9.6 0M400.5 742a4.8 4.8 0 1 0 9.6 0a4.8 4.8 0 1 0 -9.6 0M408.8 741.9a4.8 4.8 0 1 0 9.6 0a4.8 4.8 0 1 0 -9.6 0M417.1 741.9a4.8 4.8 0 1 0 9.6 0a4.8 4.8 0 1 0 -9.6 0M425.3 741.8a4.8 4.8 0 1 0 9.6 0a4.8 4.8 0 1 0 -9.6 0M433.6 741.8a4.8 4.8 0 1 0 9.6 0a4.8 4.8 0 1 0 -9.6 0M441.9 741.8a4.8 4.8 0 1 0 9.6 0a4.8 4.8 0 1 0 -9.6 0M450.1 741.8a4.8 4.8 0 1 0 9.6 0a4.8 4.8 0 1 0 -9.6 0M458.4 741.8a4.8 4.8 0 1 0 9.6 0a4.8 4.8 0 1 0 -9.6 0M466.7 741.8a4.8 4.8 0 1 0 9.6 0a4.8 4.8 0 1 0 -9.6 0M474.9 741.8a4.8 4.8 0 1 0 9.6 0a4.8 4.8 0 1 0 -9.6 0M483.2 741.8a4.8 4.8 0 1 0 9.6 0a4.8 4.8 0 1 0 -9.6 0M491.5 741.8a4.8 4.8 0 1 0 9.6 0a4.8 4.8 0 1 0 -9.6 0M499.8 741.8a4.8 4.8 0 1 0 9.6 0a4.8 4.8 0 1 0 -9.6 0M508 741.8a4.8 4.8 0 1 0 9.6 0a4.8 4.8 0 1 0 -9.6 0M516.3 741.8a4.8 4.8 0 1 0 9.6 0a4.8 4.8 0 1 0 -9.6 0M524.6 741.8a4.8 4.8 0 1 0 9.6 0a4.8 4.8 0 1 0 -9.6 0M532.8 741.8a4.8 4.8 0 1 0 9.6 0a4.8 4.8 0 1 0 -9.6 0" fill="#10f010"/>
<path d="M74.5 437V764.5H538" stroke="#111" stroke-width="1.5" fill="none"/>
<path d="M70 764.7H74.5M71.5 751.3H74.5M71.5 737.9H74.5M71.5 724.5H74.5M71.5 711.2H74.5M70 697.8H74.5M71.5 684.4H74.5M71.5 671H74.5M71.5 657.6H74.5M71.5 644.2H74.5M70 630.9H74.5M71.5 617.5H74.5M71.5 604.1H74.5M71.5 590.7H74.5M71.5 577.3H74.5M70 563.9H74.5M71.5 550.6H74.5M71.5 537.2H74.5M71.5 523.8H74.5M71.5 510.4H74.5M70 497H74.5M71.5 483.6H74.5M71.5 470.3H74.5M71.5 456.9H74.5M71.5 443.5H74.5M74.5 764.5V767.5M107.6 764.5V768.5M140.7 764.5V767.5M173.8 764.5V768.5M206.8 764.5V767.5M239.9 764.5V768.5M273 764.5V767.5M306.1 764.5V768.5M339.2 764.5V767.5M372.2 764.5V768.5M405.3 764.5V767.5M438.4 764.5V768.5M471.5 764.5V767.5M504.6 764.5V768.5M537.6 764.5V767.5" stroke="#111" stroke-width="1.4" fill="none"/>
<text x="68.4" y="770.7" class="tl" text-anchor="end">0</text>
<text x="68.4" y="703.8" class="tl" text-anchor="end">2000</text>
<text x="68.4" y="636.9" class="tl" text-anchor="end">4000</text>
<text x="68.4" y="569.9" class="tl" text-anchor="end">6000</text>
<text x="68.4" y="503" class="tl" text-anchor="end">8000</text>
<text x="107.6" y="785.5" class="xl" text-anchor="middle">0</text>
<text x="173.8" y="785.5" class="xl" text-anchor="middle">2</text>
<text x="239.9" y="785.5" class="xl" text-anchor="middle">4</text>
<text x="306.1" y="785.5" class="xl" text-anchor="middle">6</text>
<text x="372.2" y="785.5" class="xl" text-anchor="middle">8</text>
<text x="438.4" y="785.5" class="xl" text-anchor="middle">10</text>
<text x="504.6" y="785.5" class="xl" text-anchor="middle">12</text>
<text x="306.2" y="809" class="xt" text-anchor="middle">time (hours)</text>
<text x="17.3" y="449.5" class="pl">B</text>
<text transform="translate(21.4 595.3) rotate(-90) scale(1 1.12)" class="ytb" text-anchor="middle">CRE-luc activity (RLU mean <tspan text-decoration="underline">+</tspan> SD)</text>
<circle cx="88.8" cy="447.5" r="5" fill="#10f010"/>
<text x="99.6" y="451.3" class="lg">Control</text>
<path d="M83.7 467.8l5.1 -9.6l5.1 9.6z" fill="#fa28f8"/>
<text x="99.6" y="466.8" class="lg">IBMX 100µM</text>
<path d="M83.7 483.2l5.1 -9.6l5.1 9.6z" fill="#fa28f8"/>
<text x="99.6" y="482.2" class="lg">IBMX 10µM</text>
<path d="M83.7 498.7l5.1 -9.6l5.1 9.6z" fill="#ff8a00"/>
<text x="99.6" y="497.7" class="lg">Milrinone 100µM</text>
<path d="M83.7 514.1l5.1 -9.6l5.1 9.6z" fill="#ff8a00"/>
<text x="99.6" y="513.1" class="lg">Milrinone 10µM</text>
<path d="M84.3 529l4.5 -8.4l4.5 8.4z" fill="none" stroke="#8088ff" stroke-width="1.2"/>
<text x="99.6" y="528.6" class="lg">Rolipram 100µM</text>
<path d="M84.3 544.5l4.5 -8.4l4.5 8.4z" fill="none" stroke="#8088ff" stroke-width="1.2"/>
<text x="99.6" y="544.1" class="lg">Rolipram 10µM</text>
<path d="M83.7 560.5l5.1 -9.6l5.1 9.6z" fill="#7e1e84"/>
<text x="99.6" y="559.5" class="lg">Zaprinast 100µM</text>
</svg></body></html>
